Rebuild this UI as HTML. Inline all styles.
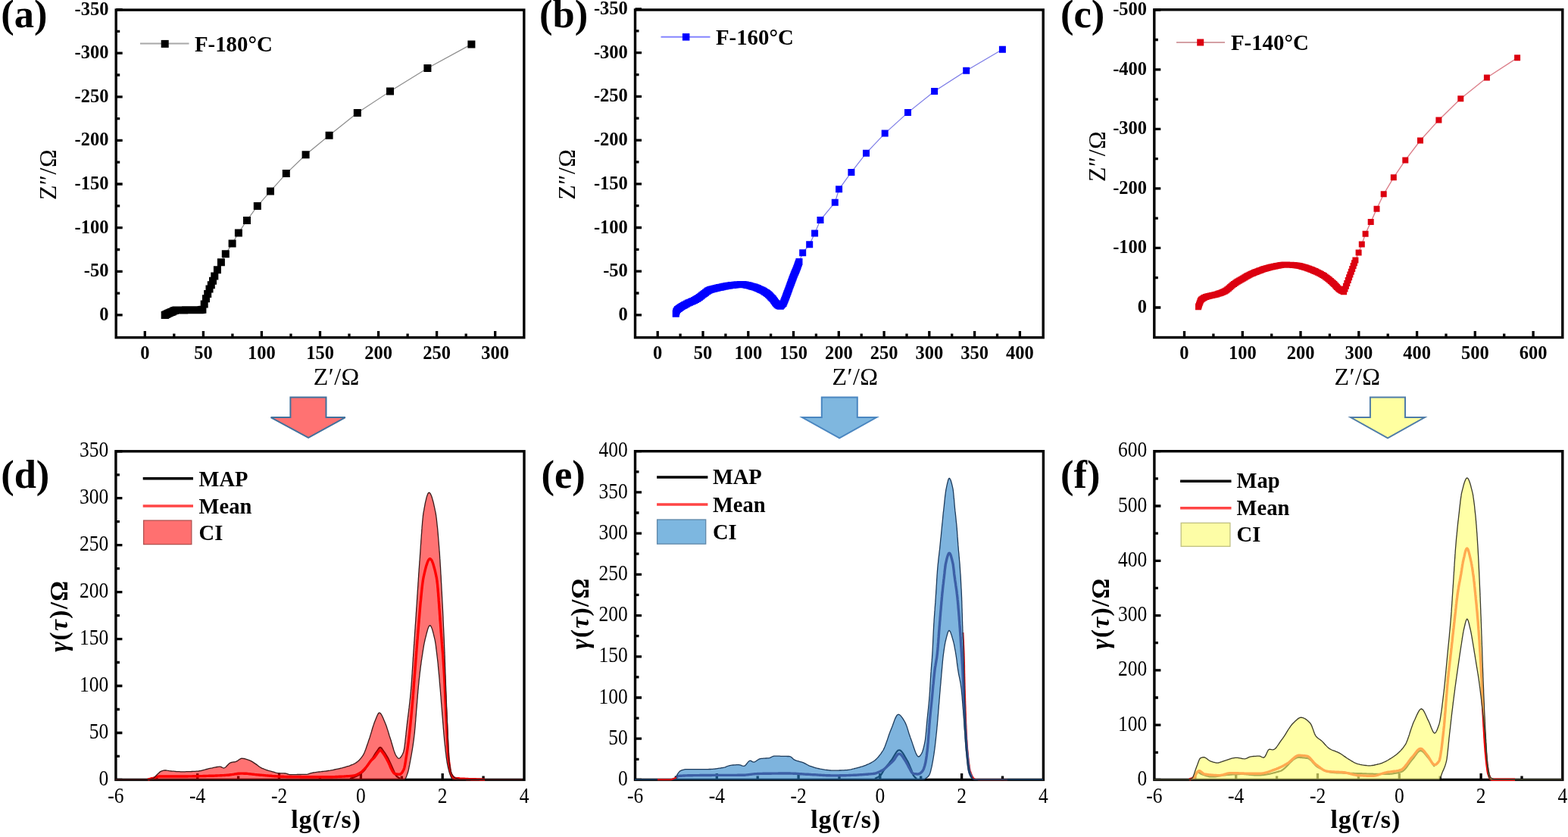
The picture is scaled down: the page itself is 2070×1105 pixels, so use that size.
<!DOCTYPE html>
<html><head><meta charset="utf-8"><title>EIS and DRT</title>
<style>html,body{margin:0;padding:0;background:#fff;overflow:hidden}svg{display:block}#fig{width:2070px;height:1105px}</style>
</head><body>
<div id="fig"><svg width="2070" height="1105" viewBox="0 0 2070 1105" font-family="'Liberation Serif','Times New Roman',serif"><rect width="2070" height="1105" fill="#fff"/><text x="1.2" y="36.3" font-size="52.5" font-weight="bold" text-anchor="start">(a)</text><text x="712" y="36.3" font-size="52.5" font-weight="bold" text-anchor="start">(b)</text><text x="1400" y="36.3" font-size="52.5" font-weight="bold" text-anchor="start">(c)</text><text x="1.2" y="643.5" font-size="52.5" font-weight="bold" text-anchor="start">(d)</text><text x="714.5" y="643.5" font-size="52.5" font-weight="bold" text-anchor="start">(e)</text><text x="1400" y="643.5" font-size="52.5" font-weight="bold" text-anchor="start">(f)</text><path d="M383.4 524.4 L430.5 524.4 L430.5 551.1 L455.8 551.1 L407.1 577.8 L357.6 551.1 L383.4 551.1Z" fill="#ff7272" stroke="#41719c" stroke-width="2" stroke-linejoin="miter"/><path d="M1084.8 524.4 L1131.8 524.4 L1131.8 551 L1157.1 551 L1108.2 578.3 L1059 551 L1084.8 551Z" fill="#7fb7df" stroke="#4a86c0" stroke-width="2" stroke-linejoin="miter"/><path d="M1808.9 524.4 L1855 524.4 L1855 551 L1880.8 551 L1832 578.3 L1783.1 551 L1808.9 551Z" fill="#ffffa0" stroke="#4f7ca8" stroke-width="2" stroke-linejoin="miter"/><rect x="153.2" y="13.1" width="538.6" height="432.5" fill="none" stroke="#000" stroke-width="3.4"/><path d="M191.3 445.6v-8.5M268.4 445.6v-8.5M345.4 445.6v-8.5M422.5 445.6v-8.5M499.6 445.6v-8.5M576.6 445.6v-8.5M653.7 445.6v-8.5M229.8 445.6v-5M306.9 445.6v-5M384 445.6v-5M461 445.6v-5M538.1 445.6v-5M615.2 445.6v-5" stroke="#000" stroke-width="3.3" fill="none"/><text transform="translate(191.3 474.3) scale(1 1.060)" font-size="24.5" font-weight="bold" text-anchor="middle">0</text><text transform="translate(268.4 474.3) scale(1 1.060)" font-size="24.5" font-weight="bold" text-anchor="middle">50</text><text transform="translate(345.4 474.3) scale(1 1.060)" font-size="24.5" font-weight="bold" text-anchor="middle">100</text><text transform="translate(422.5 474.3) scale(1 1.060)" font-size="24.5" font-weight="bold" text-anchor="middle">150</text><text transform="translate(499.6 474.3) scale(1 1.060)" font-size="24.5" font-weight="bold" text-anchor="middle">200</text><text transform="translate(576.6 474.3) scale(1 1.060)" font-size="24.5" font-weight="bold" text-anchor="middle">250</text><text transform="translate(653.7 474.3) scale(1 1.060)" font-size="24.5" font-weight="bold" text-anchor="middle">300</text><path d="M153.2 415.9h8.5M153.2 358.3h8.5M153.2 300.7h8.5M153.2 243h8.5M153.2 185.4h8.5M153.2 127.8h8.5M153.2 70.2h8.5M153.2 12.6h8.5M153.2 387.1h5M153.2 329.5h5M153.2 271.8h5M153.2 214.2h5M153.2 156.6h5M153.2 99h5M153.2 41.4h5" stroke="#000" stroke-width="3.3" fill="none"/><text transform="translate(143.5 422.9) scale(1 1.060)" font-size="24.5" font-weight="bold" text-anchor="end">0</text><text transform="translate(143.5 365.3) scale(1 1.060)" font-size="24.5" font-weight="bold" text-anchor="end">-50</text><text transform="translate(143.5 307.7) scale(1 1.060)" font-size="24.5" font-weight="bold" text-anchor="end">-100</text><text transform="translate(143.5 250) scale(1 1.060)" font-size="24.5" font-weight="bold" text-anchor="end">-150</text><text transform="translate(143.5 192.4) scale(1 1.060)" font-size="24.5" font-weight="bold" text-anchor="end">-200</text><text transform="translate(143.5 134.8) scale(1 1.060)" font-size="24.5" font-weight="bold" text-anchor="end">-250</text><text transform="translate(143.5 77.2) scale(1 1.060)" font-size="24.5" font-weight="bold" text-anchor="end">-300</text><text transform="translate(143.5 19.6) scale(1 1.060)" font-size="24.5" font-weight="bold" text-anchor="end">-350</text><text x="444.2" y="507.5" font-size="32" font-weight="normal" text-anchor="middle" letter-spacing="0.4">Z&#8242;/&#937;</text><text transform="translate(74 230.5) rotate(-90)" font-size="32" text-anchor="middle" letter-spacing="0.4">Z&#8243;/&#937;</text><rect x="838.5" y="13" width="538.7" height="432.6" fill="none" stroke="#000" stroke-width="3.4"/><path d="M868.2 445.6v-8.5M928 445.6v-8.5M987.8 445.6v-8.5M1047.5 445.6v-8.5M1107.3 445.6v-8.5M1167.1 445.6v-8.5M1226.8 445.6v-8.5M1286.6 445.6v-8.5M1346.4 445.6v-8.5M898.1 445.6v-5M957.9 445.6v-5M1017.6 445.6v-5M1077.4 445.6v-5M1137.2 445.6v-5M1197 445.6v-5M1256.7 445.6v-5M1316.5 445.6v-5" stroke="#000" stroke-width="3.3" fill="none"/><text transform="translate(868.2 474.3) scale(1 1.060)" font-size="24.5" font-weight="bold" text-anchor="middle">0</text><text transform="translate(928 474.3) scale(1 1.060)" font-size="24.5" font-weight="bold" text-anchor="middle">50</text><text transform="translate(987.8 474.3) scale(1 1.060)" font-size="24.5" font-weight="bold" text-anchor="middle">100</text><text transform="translate(1047.5 474.3) scale(1 1.060)" font-size="24.5" font-weight="bold" text-anchor="middle">150</text><text transform="translate(1107.3 474.3) scale(1 1.060)" font-size="24.5" font-weight="bold" text-anchor="middle">200</text><text transform="translate(1167.1 474.3) scale(1 1.060)" font-size="24.5" font-weight="bold" text-anchor="middle">250</text><text transform="translate(1226.8 474.3) scale(1 1.060)" font-size="24.5" font-weight="bold" text-anchor="middle">300</text><text transform="translate(1286.6 474.3) scale(1 1.060)" font-size="24.5" font-weight="bold" text-anchor="middle">350</text><text transform="translate(1346.4 474.3) scale(1 1.060)" font-size="24.5" font-weight="bold" text-anchor="middle">400</text><path d="M838.5 415.9h8.5M838.5 358.2h8.5M838.5 300.5h8.5M838.5 242.8h8.5M838.5 185.1h8.5M838.5 127.4h8.5M838.5 69.7h8.5M838.5 12h8.5M838.5 387h5M838.5 329.3h5M838.5 271.6h5M838.5 213.9h5M838.5 156.2h5M838.5 98.6h5M838.5 40.9h5" stroke="#000" stroke-width="3.3" fill="none"/><text transform="translate(828.8 422.9) scale(1 1.060)" font-size="24.5" font-weight="bold" text-anchor="end">0</text><text transform="translate(828.8 365.2) scale(1 1.060)" font-size="24.5" font-weight="bold" text-anchor="end">-50</text><text transform="translate(828.8 307.5) scale(1 1.060)" font-size="24.5" font-weight="bold" text-anchor="end">-100</text><text transform="translate(828.8 249.8) scale(1 1.060)" font-size="24.5" font-weight="bold" text-anchor="end">-150</text><text transform="translate(828.8 192.1) scale(1 1.060)" font-size="24.5" font-weight="bold" text-anchor="end">-200</text><text transform="translate(828.8 134.4) scale(1 1.060)" font-size="24.5" font-weight="bold" text-anchor="end">-250</text><text transform="translate(828.8 76.7) scale(1 1.060)" font-size="24.5" font-weight="bold" text-anchor="end">-300</text><text transform="translate(828.8 19) scale(1 1.060)" font-size="24.5" font-weight="bold" text-anchor="end">-350</text><text x="1129" y="507.5" font-size="32" font-weight="normal" text-anchor="middle" letter-spacing="0.4">Z&#8242;/&#937;</text><text transform="translate(759.3 230.2) rotate(-90)" font-size="32" text-anchor="middle" letter-spacing="0.4">Z&#8243;/&#937;</text><rect x="1523.8" y="12.8" width="539" height="432.7" fill="none" stroke="#000" stroke-width="3.4"/><path d="M1563.5 445.5v-8.5M1640.3 445.5v-8.5M1717 445.5v-8.5M1793.8 445.5v-8.5M1870.6 445.5v-8.5M1947.3 445.5v-8.5M2024.1 445.5v-8.5M1601.9 445.5v-5M1678.7 445.5v-5M1755.4 445.5v-5M1832.2 445.5v-5M1909 445.5v-5M1985.7 445.5v-5" stroke="#000" stroke-width="3.3" fill="none"/><text transform="translate(1563.5 474.3) scale(1 1.060)" font-size="24.5" font-weight="bold" text-anchor="middle">0</text><text transform="translate(1640.3 474.3) scale(1 1.060)" font-size="24.5" font-weight="bold" text-anchor="middle">100</text><text transform="translate(1717 474.3) scale(1 1.060)" font-size="24.5" font-weight="bold" text-anchor="middle">200</text><text transform="translate(1793.8 474.3) scale(1 1.060)" font-size="24.5" font-weight="bold" text-anchor="middle">300</text><text transform="translate(1870.6 474.3) scale(1 1.060)" font-size="24.5" font-weight="bold" text-anchor="middle">400</text><text transform="translate(1947.3 474.3) scale(1 1.060)" font-size="24.5" font-weight="bold" text-anchor="middle">500</text><text transform="translate(2024.1 474.3) scale(1 1.060)" font-size="24.5" font-weight="bold" text-anchor="middle">600</text><path d="M1523.8 406h8.5M1523.8 327.4h8.5M1523.8 248.9h8.5M1523.8 170.3h8.5M1523.8 91.8h8.5M1523.8 13.2h8.5M1523.8 366.7h5M1523.8 288.2h5M1523.8 209.6h5M1523.8 131.1h5M1523.8 52.5h5" stroke="#000" stroke-width="3.3" fill="none"/><text transform="translate(1514.1 413) scale(1 1.060)" font-size="24.5" font-weight="bold" text-anchor="end">0</text><text transform="translate(1514.1 334.4) scale(1 1.060)" font-size="24.5" font-weight="bold" text-anchor="end">-100</text><text transform="translate(1514.1 255.9) scale(1 1.060)" font-size="24.5" font-weight="bold" text-anchor="end">-200</text><text transform="translate(1514.1 177.3) scale(1 1.060)" font-size="24.5" font-weight="bold" text-anchor="end">-300</text><text transform="translate(1514.1 98.8) scale(1 1.060)" font-size="24.5" font-weight="bold" text-anchor="end">-400</text><text transform="translate(1514.1 20.2) scale(1 1.060)" font-size="24.5" font-weight="bold" text-anchor="end">-500</text><text x="1792" y="507.5" font-size="32" font-weight="normal" text-anchor="middle" letter-spacing="0.4">Z&#8242;/&#937;</text><text transform="translate(1458.8 206.3) rotate(-90)" font-size="32" text-anchor="middle" letter-spacing="0.4">Z&#8243;/&#937;</text><path d="M622.4 58.4 L564.4 90 L515 120.6 L471.8 149.1 L434.6 178.7 L403.6 204.2 L377.8 229.1 L357 252.4 L339.8 272.1 L326 290.9 L314.9 307.4 L306.6 321.6 L297.8 335.3 L291.9 346.3 L286.9 356.2 L283.3 364.4 L281 370.7 L278.8 376.2 L276.5 381.6 L274.2 387.9 L272 394.3 L269.7 401.5 L267.4 408.7" fill="none" stroke="#8c8c8c" stroke-width="1.2"/><path d="M617.4 53.4h10v10h-10zM559.4 85h10v10h-10zM510 115.6h10v10h-10zM466.8 144.1h10v10h-10zM429.6 173.7h10v10h-10zM398.6 199.2h10v10h-10zM372.8 224.1h10v10h-10zM352 247.4h10v10h-10zM334.8 267.1h10v10h-10zM321 285.9h10v10h-10zM309.9 302.4h10v10h-10zM301.6 316.6h10v10h-10zM292.8 330.3h10v10h-10zM286.9 341.3h10v10h-10zM281.9 351.2h10v10h-10zM278.3 359.4h10v10h-10zM276 365.7h10v10h-10zM273.8 371.2h10v10h-10zM271.5 376.6h10v10h-10zM269.2 382.9h10v10h-10zM267 389.3h10v10h-10zM264.7 396.5h10v10h-10zM262.4 403.7h10v10h-10zM260.7 404.1h10v10h-10zM258.8 404.2h10v10h-10zM256.6 404.2h10v10h-10zM254.6 404.3h10v10h-10zM252.3 404.3h10v10h-10zM250 404.3h10v10h-10zM247.7 404.3h10v10h-10zM245.6 404.3h10v10h-10zM243.8 404.3h10v10h-10zM242.2 404.3h10v10h-10zM240.1 404.3h10v10h-10zM238.2 404.4h10v10h-10zM236.3 404.4h10v10h-10zM234.6 404.4h10v10h-10zM232.8 404.4h10v10h-10zM231.1 404.4h10v10h-10zM229.2 404.4h10v10h-10zM227.4 404.6h10v10h-10zM225.8 404.9h10v10h-10zM224.2 405.6h10v10h-10zM222.6 406.4h10v10h-10zM221.1 407.1h10v10h-10zM219.3 407.8h10v10h-10zM217.7 408.6h10v10h-10zM216.1 409.3h10v10h-10zM214.6 410h10v10h-10zM213.2 410.7h10v10h-10zM212.7 411h10v10h-10z" fill="#000"/><path d="M185 57.5H249.5" stroke="#a8a8a8" stroke-width="1.8"/><path d="M212.7 52.9h10v10h-10z" fill="#000"/><text x="257" y="68.2" font-size="28.8" font-weight="bold" text-anchor="start">F-180&#176;C</text><path d="M1323.4 65.2 L1275.7 93.3 L1233.6 120.5 L1198.5 148.6 L1168.2 176.1 L1143.5 202.2 L1123.9 227.4 L1107.6 249.8 L1102.3 267.2 L1083 290.6 L1075.6 308.1 L1068.7 322.7 L1059.7 333.8 L1055 345.6 L1051.2 356 L1047.4 364.9 L1044.2 373.8 L1040.4 383.9 L1037.2 392.8 L1034.1 400.4 L1030.3 404.2" fill="none" stroke="#7a7ae6" stroke-width="1.2"/><path d="M1318.9 60.7h9v9h-9zM1271.2 88.8h9v9h-9zM1229.1 116h9v9h-9zM1194 144.1h9v9h-9zM1163.7 171.6h9v9h-9zM1139 197.7h9v9h-9zM1119.4 222.9h9v9h-9zM1103.1 245.3h9v9h-9zM1097.8 262.7h9v9h-9zM1078.5 286.1h9v9h-9zM1071.1 303.6h9v9h-9zM1064.2 318.2h9v9h-9zM1055.2 329.3h9v9h-9zM1050.5 341.1h9v9h-9zM1046.7 351.5h9v9h-9zM1042.9 360.4h9v9h-9zM1039.7 369.3h9v9h-9zM1035.9 379.4h9v9h-9zM1032.7 388.3h9v9h-9zM1029.6 395.9h9v9h-9zM1025.8 399.7h9v9h-9zM1050.5 341.1h9v9h-9zM1049.9 342.8h9v9h-9zM1049.2 344.6h9v9h-9zM1048.6 346.3h9v9h-9zM1048 348h9v9h-9zM1047.3 349.8h9v9h-9zM1046.7 351.5h9v9h-9zM1045.9 353.3h9v9h-9zM1045.2 355.1h9v9h-9zM1044.4 356.8h9v9h-9zM1043.7 358.6h9v9h-9zM1042.9 360.4h9v9h-9zM1042.3 362.2h9v9h-9zM1041.6 364h9v9h-9zM1041 365.7h9v9h-9zM1040.3 367.5h9v9h-9zM1039.7 369.3h9v9h-9zM1038.9 371.3h9v9h-9zM1038.2 373.3h9v9h-9zM1037.4 375.4h9v9h-9zM1036.7 377.4h9v9h-9zM1035.9 379.4h9v9h-9zM1035.3 381.2h9v9h-9zM1034.6 383h9v9h-9zM1034 384.7h9v9h-9zM1033.3 386.5h9v9h-9zM1032.7 388.3h9v9h-9zM1031.9 390.2h9v9h-9zM1031.2 392.1h9v9h-9zM1030.4 394h9v9h-9zM1029.6 395.9h9v9h-9zM1028.3 397.2h9v9h-9zM1027.1 398.4h9v9h-9zM1025.8 399.7h9v9h-9zM1025.8 399.7h9v9h-9zM1024.1 399.2h9v9h-9zM1022.7 398.6h9v9h-9zM1021.3 397.4h9v9h-9zM1020.1 396h9v9h-9zM1019.1 394.7h9v9h-9zM1018 393.2h9v9h-9zM1016.9 391.8h9v9h-9zM1015.8 390.3h9v9h-9zM1014.6 389h9v9h-9zM1013.4 387.8h9v9h-9zM1012.3 386.5h9v9h-9zM1011 385.3h9v9h-9zM1009.8 384.2h9v9h-9zM1008.4 383h9v9h-9zM1007 381.9h9v9h-9zM1005.3 380.9h9v9h-9zM1003.6 379.8h9v9h-9zM1001.7 378.8h9v9h-9zM999.7 377.9h9v9h-9zM997.6 377h9v9h-9zM995.6 376.1h9v9h-9zM993.6 375.3h9v9h-9zM991.6 374.6h9v9h-9zM989.5 374h9v9h-9zM987.5 373.4h9v9h-9zM985.4 372.8h9v9h-9zM983.4 372.3h9v9h-9zM981.5 371.9h9v9h-9zM979.8 371.6h9v9h-9zM977.9 371.3h9v9h-9zM976.3 371.1h9v9h-9zM974.4 371.1h9v9h-9zM972.7 371.1h9v9h-9zM970.6 371.2h9v9h-9zM968.9 371.3h9v9h-9zM966.9 371.5h9v9h-9zM964.9 371.7h9v9h-9zM962.9 371.9h9v9h-9zM960.8 372.1h9v9h-9zM958.8 372.4h9v9h-9zM956.8 372.7h9v9h-9zM954.8 373h9v9h-9zM952.9 373.4h9v9h-9zM951 373.8h9v9h-9zM949 374.2h9v9h-9zM947.1 374.7h9v9h-9zM945.1 375.1h9v9h-9zM943.1 375.5h9v9h-9zM941 376h9v9h-9zM939 376.4h9v9h-9zM936.9 376.9h9v9h-9zM935 377.4h9v9h-9zM933.1 378h9v9h-9zM931.5 378.7h9v9h-9zM930 379.5h9v9h-9zM928.6 380.4h9v9h-9zM927 381.7h9v9h-9zM925.4 383h9v9h-9zM923.7 384.3h9v9h-9zM922 385.5h9v9h-9zM920.4 386.7h9v9h-9zM918.8 388h9v9h-9zM917.1 389.2h9v9h-9zM915.6 390.1h9v9h-9zM914 391h9v9h-9zM912.2 391.9h9v9h-9zM910.2 392.9h9v9h-9zM908.1 393.8h9v9h-9zM906 394.7h9v9h-9zM904 395.6h9v9h-9zM902.2 396.5h9v9h-9zM900.5 397.4h9v9h-9zM899 398.2h9v9h-9zM897.6 399h9v9h-9zM895.8 400.1h9v9h-9zM894.3 401.1h9v9h-9zM892.9 402h9v9h-9zM891.5 403h9v9h-9zM890.1 404.1h9v9h-9zM889 405.5h9v9h-9zM888.3 407.1h9v9h-9zM887.9 408.8h9v9h-9zM887.7 409.8h9v9h-9z" fill="#0000ff"/><path d="M872.5 48.7H937.5" stroke="#8484ff" stroke-width="2"/><path d="M900.9 44.1h9.5v9.5h-9.5z" fill="#0000ff"/><text x="945" y="58.5" font-size="28.8" font-weight="bold" text-anchor="start">F-160&#176;C</text><path d="M2003.1 76.3 L1962.9 102.5 L1928.3 130.3 L1899.4 158.4 L1875 185.5 L1855.3 211.4 L1839.8 234.3 L1826.7 256.3 L1817.5 275.7 L1809.7 293.1 L1802.6 308.8 L1797.8 322.5 L1793.6 333.5 L1789.4 343.5" fill="none" stroke="#dc7f8a" stroke-width="1.4"/><path d="M1999.1 72.3h8v8h-8zM1958.9 98.5h8v8h-8zM1924.3 126.3h8v8h-8zM1895.4 154.4h8v8h-8zM1871 181.5h8v8h-8zM1851.3 207.4h8v8h-8zM1835.8 230.3h8v8h-8zM1822.7 252.3h8v8h-8zM1813.5 271.7h8v8h-8zM1805.7 289.1h8v8h-8zM1798.6 304.8h8v8h-8zM1793.8 318.5h8v8h-8zM1789.6 329.5h8v8h-8zM1785.4 339.5h8v8h-8zM1785.4 339.5h8v8h-8zM1784 343.3h8v8h-8zM1782.6 347.1h8v8h-8zM1781.2 350.9h8v8h-8zM1779.8 354.7h8v8h-8zM1778.4 358.5h8v8h-8zM1777.1 362.3h8v8h-8zM1775.7 366.1h8v8h-8zM1774.3 369.9h8v8h-8zM1772.9 373.7h8v8h-8zM1771.5 377.5h8v8h-8zM1770.1 381.3h8v8h-8zM1770.1 381.3h8v8h-8zM1768.7 380.5h8v8h-8zM1766.9 379.7h8v8h-8zM1765.4 378.8h8v8h-8zM1763.9 377.7h8v8h-8zM1762.4 376.4h8v8h-8zM1760.9 374.9h8v8h-8zM1759.8 373.7h8v8h-8zM1758.6 372.4h8v8h-8zM1757.3 371.1h8v8h-8zM1755.9 369.7h8v8h-8zM1754.4 368.4h8v8h-8zM1752.8 367h8v8h-8zM1751.1 365.6h8v8h-8zM1749.4 364.2h8v8h-8zM1747.6 362.7h8v8h-8zM1745.7 361.4h8v8h-8zM1743.8 360.1h8v8h-8zM1741.9 358.9h8v8h-8zM1739.9 357.8h8v8h-8zM1737.9 356.7h8v8h-8zM1735.8 355.7h8v8h-8zM1733.7 354.7h8v8h-8zM1732.2 354.1h8v8h-8zM1730.7 353.4h8v8h-8zM1729.1 352.8h8v8h-8zM1727.5 352.1h8v8h-8zM1725.8 351.5h8v8h-8zM1724.1 350.8h8v8h-8zM1722.3 350.2h8v8h-8zM1720.5 349.6h8v8h-8zM1718.7 349h8v8h-8zM1716.9 348.4h8v8h-8zM1715.1 347.9h8v8h-8zM1713.4 347.5h8v8h-8zM1711.6 347.1h8v8h-8zM1709.8 346.8h8v8h-8zM1708 346.5h8v8h-8zM1706.2 346.3h8v8h-8zM1704.3 346.1h8v8h-8zM1702.5 345.9h8v8h-8zM1700.8 345.8h8v8h-8zM1699 345.7h8v8h-8zM1697.4 345.7h8v8h-8zM1695.1 345.6h8v8h-8zM1693.1 345.6h8v8h-8zM1691.4 345.6h8v8h-8zM1689.3 345.8h8v8h-8zM1687.2 346.1h8v8h-8zM1685.5 346.3h8v8h-8zM1683.5 346.7h8v8h-8zM1681.2 347.1h8v8h-8zM1679.6 347.5h8v8h-8zM1677.8 347.8h8v8h-8zM1676.1 348.2h8v8h-8zM1674.2 348.6h8v8h-8zM1672.4 349.1h8v8h-8zM1670.6 349.5h8v8h-8zM1668.8 350h8v8h-8zM1667 350.5h8v8h-8zM1665.2 351.1h8v8h-8zM1663.4 351.6h8v8h-8zM1661.6 352.2h8v8h-8zM1659.8 352.9h8v8h-8zM1658 353.5h8v8h-8zM1656.2 354.2h8v8h-8zM1654.4 354.9h8v8h-8zM1652.7 355.6h8v8h-8zM1651.1 356.2h8v8h-8zM1649.5 356.9h8v8h-8zM1647.4 357.8h8v8h-8zM1645.5 358.8h8v8h-8zM1643.7 359.7h8v8h-8zM1642.1 360.6h8v8h-8zM1640.5 361.6h8v8h-8zM1638.9 362.5h8v8h-8zM1637.2 363.5h8v8h-8zM1635.5 364.5h8v8h-8zM1633.7 365.5h8v8h-8zM1632 366.5h8v8h-8zM1630.2 367.5h8v8h-8zM1628.5 368.6h8v8h-8zM1626.8 369.7h8v8h-8zM1625 370.9h8v8h-8zM1623.3 372.3h8v8h-8zM1621.5 373.8h8v8h-8zM1619.8 375.3h8v8h-8zM1618.1 376.8h8v8h-8zM1616.3 378.2h8v8h-8zM1614.6 379.4h8v8h-8zM1612.9 380.5h8v8h-8zM1611.2 381.3h8v8h-8zM1609.5 382h8v8h-8zM1607.8 382.7h8v8h-8zM1606 383.2h8v8h-8zM1604.3 383.8h8v8h-8zM1602.4 384.4h8v8h-8zM1600.4 385h8v8h-8zM1598.2 385.5h8v8h-8zM1595.9 386h8v8h-8zM1593.6 386.5h8v8h-8zM1591.5 387h8v8h-8zM1589.6 387.6h8v8h-8zM1588 388.1h8v8h-8zM1586.2 388.8h8v8h-8zM1584.8 389.5h8v8h-8zM1583.4 390.4h8v8h-8zM1582 391.5h8v8h-8zM1580.9 392.8h8v8h-8zM1580.4 394.6h8v8h-8zM1579.7 396.3h8v8h-8zM1579 398.2h8v8h-8zM1578.4 400h8v8h-8zM1578 401.2h8v8h-8z" fill="#dc0010"/><path d="M1553 56H1617" stroke="#d4a0a4" stroke-width="2"/><path d="M1580.2 51.5h9v9h-9z" fill="#dc0010"/><text x="1625" y="66" font-size="28.8" font-weight="bold" text-anchor="start">F-140&#176;C</text><rect x="152.9" y="595.8" width="539.1" height="433.6" fill="none" stroke="#000" stroke-width="3.4"/><path d="M260.7 1029.4v-8.5M368.5 1029.4v-8.5M476.4 1029.4v-8.5M584.2 1029.4v-8.5M206.8 1029.4v-5M314.6 1029.4v-5M422.4 1029.4v-5M530.3 1029.4v-5M638.1 1029.4v-5" stroke="#000" stroke-width="3.3" fill="none"/><text transform="translate(152.9 1059.6) scale(1 1.120)" font-size="25.5" font-weight="normal" text-anchor="middle">-6</text><text transform="translate(260.7 1059.6) scale(1 1.120)" font-size="25.5" font-weight="normal" text-anchor="middle">-4</text><text transform="translate(368.5 1059.6) scale(1 1.120)" font-size="25.5" font-weight="normal" text-anchor="middle">-2</text><text transform="translate(476.4 1059.6) scale(1 1.120)" font-size="25.5" font-weight="normal" text-anchor="middle">0</text><text transform="translate(584.2 1059.6) scale(1 1.120)" font-size="25.5" font-weight="normal" text-anchor="middle">2</text><text transform="translate(692 1059.6) scale(1 1.120)" font-size="25.5" font-weight="normal" text-anchor="middle">4</text><path d="M152.9 1029.4h8.5M152.9 967.5h8.5M152.9 905.5h8.5M152.9 843.6h8.5M152.9 781.6h8.5M152.9 719.7h8.5M152.9 657.7h8.5M152.9 595.8h8.5M152.9 998.4h5M152.9 936.5h5M152.9 874.5h5M152.9 812.6h5M152.9 750.7h5M152.9 688.7h5M152.9 626.8h5" stroke="#000" stroke-width="3.3" fill="none"/><text transform="translate(143.2 1037) scale(1 1.120)" font-size="25.5" font-weight="normal" text-anchor="end">0</text><text transform="translate(143.2 975.1) scale(1 1.120)" font-size="25.5" font-weight="normal" text-anchor="end">50</text><text transform="translate(143.2 913.1) scale(1 1.120)" font-size="25.5" font-weight="normal" text-anchor="end">100</text><text transform="translate(143.2 851.2) scale(1 1.120)" font-size="25.5" font-weight="normal" text-anchor="end">150</text><text transform="translate(143.2 789.2) scale(1 1.120)" font-size="25.5" font-weight="normal" text-anchor="end">200</text><text transform="translate(143.2 727.3) scale(1 1.120)" font-size="25.5" font-weight="normal" text-anchor="end">250</text><text transform="translate(143.2 665.3) scale(1 1.120)" font-size="25.5" font-weight="normal" text-anchor="end">300</text><text transform="translate(143.2 603.4) scale(1 1.120)" font-size="25.5" font-weight="normal" text-anchor="end">350</text><text x="430.5" y="1093.2" font-size="34" font-weight="bold" text-anchor="middle" letter-spacing="0.8">lg(<tspan font-style="italic">&#964;</tspan>/s)</text><text transform="translate(88.9 813.1) rotate(-90)" font-size="33.5" font-weight="bold" text-anchor="middle" letter-spacing="1.3"><tspan font-style="italic">&#947;</tspan>(<tspan font-style="italic">&#964;</tspan>)/&#937;</text><path d="M462 1028L463.3 1027.5L464.7 1027.1L466 1026.6L467.3 1026.1L468.7 1025.6L470 1025L471.4 1024.3L472.9 1023.5L474.3 1022.6L475.7 1021.6L477.1 1020.5L478.6 1019.3L480 1018L481.3 1016.5L482.7 1014.6L484 1012.5L485.3 1010.2L486.7 1008L488 1006L489.2 1004.2L490.5 1002.5L491.8 1000.8L493 999L494.5 996.6L496 994.2L497.5 992L499 989.8L500.5 987.7L502 986.8L503.5 987.7L505 989.8L506.5 992L508 994.1L509.5 996.5L511 999L512 1000.8L513 1002.8L514 1004.9L515 1007L516 1009.2L517 1011.5L518 1013.8L519 1016L520 1018.2L521 1020.5L522 1022.5L523 1024L524.2 1025.3L525.5 1026.2L526.8 1027.1L528 1028" fill="none" stroke="#000" stroke-width="2.2"/><path d="M195 1029.2L196.3 1028.8L197.7 1028.5L199 1028.1L200.3 1027.7L201.7 1027.4L203 1027L204.4 1026.5L205.8 1026L207.2 1025.5L208.6 1025.1L210 1025L211.5 1025L213 1025L214.5 1025L216 1025L217.5 1025L219 1025L220.5 1025L222 1025L223.5 1025L225 1025L226.5 1025L228 1025L229.5 1025L231 1025L232.5 1025L234 1025L235.5 1025L237 1025L238.5 1025L240 1025L241.5 1025L243 1025L244.5 1025L246 1025L247.5 1025L249 1024.9L250.5 1024.9L252 1024.9L253.5 1024.9L255 1024.8L256.5 1024.8L258 1024.8L259.5 1024.7L261 1024.7L262.5 1024.7L264 1024.6L265.5 1024.6L267 1024.6L268.5 1024.5L270 1024.5L271.5 1024.5L273 1024.4L274.5 1024.4L276 1024.3L277.4 1024.3L278.9 1024.3L280.4 1024.2L281.9 1024.2L283.4 1024.1L284.9 1024L286.4 1024L287.9 1023.9L289.4 1023.9L290.9 1023.8L292.4 1023.7L293.8 1023.6L295.3 1023.6L296.8 1023.5L298.3 1023.4L299.8 1023.3L301.3 1023.2L302.8 1023L304.3 1022.8L305.8 1022.6L307.3 1022.4L308.8 1022.2L310.2 1021.9L311.7 1021.7L313.2 1021.5L314.7 1021.3L316.2 1021.2L317.7 1021.1L319.2 1021.1L320.7 1021.1L322.2 1021.2L323.7 1021.2L325.2 1021.3L326.7 1021.4L328.2 1021.6L329.7 1021.7L331.2 1021.9L332.7 1022.1L334.2 1022.2L335.7 1022.4L337.2 1022.6L338.7 1022.7L340.2 1022.9L341.7 1023L343.2 1023.2L344.7 1023.3L346.2 1023.4L347.6 1023.5L349.1 1023.6L350.6 1023.8L352.1 1023.9L353.5 1024L355 1024.1L356.5 1024.2L357.9 1024.3L359.4 1024.5L360.9 1024.6L362.4 1024.7L363.8 1024.8L365.3 1024.9L366.8 1025L368.2 1025.1L369.7 1025.1L371.2 1025.2L372.6 1025.3L374.1 1025.3L375.6 1025.4L377.1 1025.4L378.5 1025.5L380 1025.5L381.5 1025.5L382.9 1025.5L384.4 1025.5L385.9 1025.6L387.4 1025.6L388.8 1025.6L390.3 1025.6L391.8 1025.6L393.2 1025.6L394.7 1025.6L396.2 1025.7L397.6 1025.7L399.1 1025.7L400.6 1025.7L402.1 1025.7L403.5 1025.7L405 1025.7L406.5 1025.7L407.9 1025.7L409.4 1025.7L410.9 1025.8L412.4 1025.8L413.8 1025.8L415.3 1025.8L416.8 1025.8L418.2 1025.8L419.7 1025.8L421.2 1025.8L422.6 1025.8L424.1 1025.8L425.6 1025.8L427.1 1025.8L428.5 1025.8L430 1025.8L431.5 1025.8L432.9 1025.8L434.4 1025.8L435.9 1025.7L437.4 1025.7L438.8 1025.7L440.3 1025.6L441.8 1025.6L443.2 1025.5L444.7 1025.5L446.2 1025.4L447.6 1025.3L449.1 1025.3L450.6 1025.2L452.1 1025.1L453.5 1025.1L455 1025L456.5 1024.9L457.9 1024.8L459.4 1024.7L460.9 1024.6L462.3 1024.5L463.8 1024.4L465.2 1024.2L466.7 1024L468 1023.7L469.4 1023.3L470.7 1022.8L472 1022.2L473.3 1021.5L474.7 1020.8L476 1020L477.3 1019.1L478.7 1017.9L480 1016.5L481.3 1015.1L482.7 1013.5L484 1012L485.5 1010.1L487 1008L488.5 1005.8L490 1004L491.4 1002.6L492.9 1001.4L494.3 1000L495.7 998.1L497.1 996L498.5 994L499.7 992.4L500.8 990.9L502 990.3L503.2 990.9L504.3 992.4L505.5 994L506.7 995.8L508 997.8L509.2 1000L510.5 1002.2L511.7 1004.5L513 1007L514 1009.2L515 1011.7L516 1014L517 1016L518.3 1018.4L519.7 1020.4L521 1021.5L522.3 1021.8L523.7 1022L525 1022.2L526.4 1022.3L527.7 1022.3L529 1021.8L530.4 1020.5L531.7 1018.5L533 1016L533.4 1015L533.8 1013.6L534.2 1011.8L534.6 1009.8L535 1007.6L535.4 1005.2L535.8 1002.6L536.2 1000.1L536.6 997.5L537 995L537.3 993.1L537.6 991.2L537.9 989.2L538.2 987.1L538.5 985L538.8 982.8L539.1 980.5L539.4 978.2L539.7 975.8L540 973.3L540.2 971.6L540.4 969.9L540.6 968.1L540.8 966.3L541 964.5L541.2 962.6L541.4 960.7L541.6 958.8L541.8 956.8L542 954.8L542.2 952.8L542.4 950.7L542.6 948.6L542.8 946.5L543 944.4L543.2 942.2L543.4 940.1L543.6 937.9L543.8 935.7L544 933.5L544.2 931.2L544.4 929L544.6 926.7L544.8 924.4L545 922.6L545.1 920.7L545.3 918.7L545.4 916.8L545.6 914.8L545.8 912.8L545.9 910.7L546.1 908.7L546.2 906.6L546.4 904.5L546.5 902.4L546.7 900.3L546.9 898.2L547 896.2L547.2 894.1L547.3 892L547.5 890L547.7 888L547.8 885.9L548 883.9L548.1 881.8L548.3 879.7L548.5 877.6L548.6 875.6L548.8 873.5L548.9 871.4L549.1 869.3L549.3 867.2L549.4 865.1L549.6 863L549.7 861L549.9 858.9L550 856.9L550.2 854.8L550.4 852.8L550.5 850.8L550.7 848.8L550.8 846.8L551 844.9L551.2 842.9L551.3 841L551.5 839.2L551.6 837.3L551.8 835.5L552 833.2L552.2 830.8L552.4 828.5L552.6 826.1L552.8 823.7L553 821.3L553.2 818.8L553.4 816.4L553.6 814L553.8 811.6L554 809.1L554.2 806.7L554.4 804.3L554.6 801.9L554.8 799.6L555 797.2L555.2 794.9L555.5 792.7L555.7 790.4L555.9 788.2L556.1 786.1L556.3 784L556.5 782L556.7 780L556.9 778.1L557.1 776.2L557.3 774.4L557.5 772.7L557.7 771.1L557.9 769.6L558.1 768.1L558.3 766.7L558.5 765.4L558.7 764.3L558.9 763.2L559.1 762.2L559.8 759L560.5 755.9L561.2 752.9L561.9 750.1L562.6 747.5L563.4 745.1L564.1 743L564.8 741.2L565.5 739.7L566.2 738.6L566.9 737.9L567.6 737.7L568.3 737.9L569 738.6L569.8 739.6L570.5 741L571.2 742.8L571.9 744.8L572.6 747.2L573.3 749.8L574.1 752.6L574.8 755.6L575.5 758.8L576.2 762.2L576.4 763.1L576.5 764.1L576.7 765.2L576.9 766.4L577 767.8L577.2 769.2L577.4 770.8L577.6 772.4L577.7 774.1L577.9 776L578.1 777.8L578.2 779.8L578.4 781.8L578.6 783.9L578.7 786.1L578.9 788.3L579.1 790.6L579.2 792.9L579.4 795.2L579.6 797.6L579.8 800L579.9 802.4L580.1 804.8L580.3 807.2L580.4 809.7L580.6 812.1L580.8 814.6L580.9 817L581.1 819.4L581.3 821.8L581.5 824.2L581.6 826.5L581.8 828.9L582 831.1L582.1 833.3L582.3 835.5L582.5 837.4L582.6 839.4L582.8 841.3L582.9 843.1L583.1 845L583.2 846.9L583.4 848.8L583.5 850.7L583.7 852.6L583.8 854.5L584 856.4L584.1 858.3L584.3 860.3L584.5 862.2L584.6 864.2L584.8 866.3L584.9 868.4L585.1 870.5L585.2 872.7L585.4 874.9L585.5 877.1L585.7 879.5L585.8 881.9L586 884.3L586.1 885.9L586.2 887.6L586.3 889.4L586.4 891.2L586.5 893L586.6 894.9L586.7 896.9L586.8 898.9L586.9 900.9L587 902.9L587.1 905L587.2 907.1L587.3 909.2L587.4 911.3L587.5 913.5L587.6 915.6L587.7 917.8L587.8 920L587.9 922.1L588 924.3L588.1 926.4L588.2 928.6L588.3 930.7L588.4 932.8L588.5 934.9L588.6 937L588.7 939.1L588.8 941.1L588.9 943.1L589 945L589.1 947.2L589.2 949.4L589.3 951.6L589.4 953.9L589.6 956.3L589.7 958.6L589.8 961L589.9 963.3L590 965.7L590.1 968.1L590.2 970.4L590.3 972.7L590.4 975L590.6 977.3L590.7 979.5L590.8 981.7L590.9 983.8L591 985.8L591.1 987.8L591.2 989.7L591.3 991.5L591.4 993.2L591.6 994.8L591.7 996.3L591.8 997.6L591.9 998.9L592 1000L592.3 1003L592.6 1005.8L593 1008.5L593.3 1011L593.6 1013.3L593.9 1015.4L594.2 1017.3L594.5 1018.9L594.9 1020.2L595.2 1021.3L595.5 1022L596.9 1024.2L598.2 1025.9L599.6 1026.9L601 1027.4L602.5 1027.6L604 1027.7L605.5 1027.8L607 1028L608.5 1028.1L610 1028.2L611.5 1028.3L613 1028.3L614.5 1028.4L616 1028.5L617.5 1028.5L619 1028.6L620.5 1028.6L622 1028.7L623.5 1028.7L625 1028.7L626.5 1028.8L628 1028.8L629.5 1028.9L631 1028.9L632.5 1028.9L634 1029L635.5 1029L637 1029.1L638.5 1029.1L640 1029.2" fill="none" stroke="#ff0000" stroke-width="3.4" stroke-linejoin="round"/><path d="M152 1029.2 L153.5 1029.2 L155 1029.2 L156.4 1029.2 L157.9 1029.2 L159.4 1029.2 L160.9 1029.2 L162.4 1029.2 L163.9 1029.2 L165.3 1029.2 L166.8 1029.2 L168.3 1029.2 L169.8 1029.2 L171.3 1029.2 L172.8 1029.2 L174.2 1029.2 L175.7 1029.2 L177.2 1029.2 L178.7 1029.2 L180.2 1029.2 L181.7 1029.2 L183.1 1029.2 L184.6 1029.2 L186.1 1029.2 L187.6 1029.2 L189.1 1029.2 L190.6 1029.2 L192 1029.2 L193.5 1029.2 L195 1029.2 L196.5 1029.1 L198 1028.9 L199.4 1028.5 L200.9 1028 L202.4 1027.5 L203.6 1026.7 L204.7 1025.5 L205.8 1024.2 L207 1023 L208.5 1021.6 L209.9 1020.2 L211.4 1018.9 L212.9 1018.1 L214.4 1017.6 L215.9 1017.2 L217.4 1017 L218.9 1017 L220.4 1017.2 L221.9 1017.3 L223.4 1017.6 L224.9 1017.8 L226.4 1018 L227.9 1018.1 L229.4 1018.2 L230.9 1018.3 L232.4 1018.5 L233.9 1018.6 L235.4 1018.7 L236.9 1018.7 L238.4 1018.8 L239.9 1018.8 L241.4 1018.8 L242.9 1018.8 L244.4 1018.8 L245.9 1018.7 L247.4 1018.7 L248.9 1018.7 L250.4 1018.6 L251.8 1018.6 L253.3 1018.5 L254.8 1018.4 L256.3 1018.3 L257.8 1018.3 L259.3 1018.2 L260.8 1018.1 L262.3 1018 L263.8 1017.7 L265.3 1017.5 L266.8 1017.1 L268.3 1016.7 L269.8 1016.3 L271.3 1015.9 L272.8 1015.5 L274.3 1015.1 L275.8 1014.7 L277.3 1014.4 L278.8 1014.1 L280.3 1013.8 L281.8 1013.4 L283.3 1013.1 L284.8 1012.8 L286.3 1012.5 L287.8 1012.3 L289.3 1012.2 L290.8 1012.1 L292.3 1012.6 L293.8 1013.5 L295.3 1014 L296.8 1013.5 L298.3 1012.4 L299.8 1010.8 L301.3 1009.2 L302.8 1007.8 L304.3 1006.9 L305.8 1006.5 L307.3 1006.2 L308.7 1006 L310.2 1005.8 L311.7 1005.4 L313.2 1004.7 L314.7 1003.6 L316.2 1002.5 L317.7 1001.6 L319.2 1001.2 L320.7 1001.3 L322.2 1001.5 L323.7 1001.9 L325.2 1002.3 L326.7 1002.8 L328.2 1003.3 L329.7 1003.9 L331.2 1004.6 L332.7 1005.4 L334.2 1006.4 L335.7 1007.4 L337.2 1008.4 L338.7 1009.4 L340.2 1010.6 L341.7 1011.7 L343.2 1012.8 L344.7 1013.6 L346.2 1014.3 L347.7 1014.9 L349.2 1015.5 L350.7 1016.1 L352.2 1016.6 L353.7 1017.1 L355.2 1017.5 L356.7 1018 L358.2 1018.4 L359.7 1018.8 L361.2 1019.2 L362.7 1019.7 L364.2 1020.1 L365.7 1020.4 L367.2 1020.6 L368.7 1020.7 L370.2 1020.8 L371.7 1020.8 L373.1 1020.9 L374.6 1020.9 L376.1 1021 L377.6 1021.1 L379.1 1021.6 L380.6 1022.2 L382.1 1022.6 L383.6 1022.6 L385.1 1022.6 L386.6 1022.6 L388.1 1022.6 L389.6 1022.6 L391.1 1022.6 L392.6 1022.5 L394.1 1022.5 L395.6 1022.5 L397.1 1022.5 L398.6 1022.4 L400.1 1022.4 L401.6 1022.4 L403.1 1022.3 L404.6 1022.3 L406.1 1022.1 L407.6 1021.7 L409.1 1021.2 L410.6 1020.7 L412.1 1020.3 L413.6 1020 L415.1 1019.8 L416.6 1019.6 L418.1 1019.4 L419.6 1019.2 L421.1 1019 L422.6 1018.8 L424.1 1018.7 L425.6 1018.5 L427.1 1018.3 L428.6 1018.1 L430.1 1018 L431.6 1017.8 L433.1 1017.5 L434.6 1017.3 L436 1017.1 L437.4 1016.8 L438.8 1016.6 L440.3 1016.3 L441.7 1016 L443.1 1015.7 L444.5 1015.4 L445.9 1015.1 L447.3 1014.8 L448.7 1014.5 L450.2 1014.1 L451.6 1013.8 L453 1013.4 L454.4 1013 L455.9 1012.6 L457.3 1012.2 L458.8 1011.7 L460.3 1011.3 L461.8 1010.8 L463.2 1010.2 L464.7 1009.6 L466.2 1009 L467.6 1008.3 L469.1 1007.5 L470.5 1006.6 L471.9 1005.6 L473.3 1004.4 L474.7 1003 L476.1 1001.4 L477.5 999.6 L478.9 997.7 L479.7 996.4 L480.4 994.9 L481.2 993.2 L482 991.3 L482.8 989.2 L483.5 987.1 L484.3 984.8 L485.1 982.5 L485.9 980.2 L486.6 977.9 L487.4 975.7 L488.1 973.7 L488.7 971.6 L489.4 969.4 L490.1 967.1 L490.8 964.8 L491.4 962.5 L492.1 960.3 L492.8 958.1 L493.5 956.1 L494.1 954.2 L494.8 952.5 L496 949.5 L497.2 946.4 L498.5 943.6 L499.7 941.6 L500.9 940.9 L502.1 941.5 L503.3 943 L504.5 945.3 L505.8 948.1 L507 951 L508.2 953.8 L508.9 955.5 L509.7 957.5 L510.4 959.5 L511.1 961.8 L511.9 964.1 L512.6 966.4 L513.3 968.8 L514 971.2 L514.8 973.5 L515.5 975.7 L516.2 977.8 L516.8 980 L517.5 982.3 L518.2 984.7 L518.9 987 L519.5 989.2 L520.2 991.4 L520.9 993.3 L521.6 995.1 L522.2 996.5 L522.9 997.7 L524.1 999.4 L525.3 1000.8 L526.5 1001.4 L527.7 1001 L528.9 999.8 L530.2 998 L531.4 995.7 L532.6 992.9 L532.9 992.1 L533.1 991 L533.4 989.6 L533.7 988.1 L534 986.3 L534.2 984.3 L534.5 982.2 L534.8 979.9 L535 977.5 L535.3 975 L535.6 972.5 L535.9 969.9 L536.1 967.3 L536.4 964.7 L536.7 962.2 L537 959.7 L537.2 957.3 L537.5 955 L537.7 953.1 L538 951.2 L538.2 949.4 L538.4 947.5 L538.7 945.7 L538.9 943.8 L539.1 942 L539.4 940.1 L539.6 938.2 L539.8 936.3 L540.1 934.4 L540.3 932.4 L540.5 930.4 L540.8 928.3 L541 926.2 L541.2 924.1 L541.5 921.8 L541.7 919.5 L541.9 917.2 L542.2 914.7 L542.4 912.2 L542.5 910.6 L542.7 909 L542.8 907.3 L543 905.6 L543.1 903.7 L543.2 901.9 L543.4 900 L543.5 898 L543.6 896 L543.8 894 L543.9 891.9 L544.1 889.8 L544.2 887.7 L544.3 885.6 L544.5 883.5 L544.6 881.3 L544.8 879.1 L544.9 877 L545 874.8 L545.2 872.6 L545.3 870.5 L545.4 868.3 L545.6 866.2 L545.7 864.1 L545.9 862 L546 860 L546.1 858 L546.3 856 L546.4 853.9 L546.5 851.9 L546.7 849.9 L546.8 847.8 L547 845.8 L547.1 843.8 L547.2 841.7 L547.4 839.7 L547.5 837.6 L547.6 835.6 L547.8 833.5 L547.9 831.5 L548.1 829.5 L548.2 827.4 L548.3 825.4 L548.5 823.3 L548.6 821.3 L548.8 819.2 L548.9 817.1 L549 815.1 L549.2 813 L549.3 811 L549.4 809 L549.6 806.9 L549.7 804.9 L549.8 802.8 L550 800.7 L550.1 798.7 L550.3 796.6 L550.4 794.5 L550.5 792.4 L550.7 790.3 L550.8 788.2 L550.9 786.1 L551.1 784 L551.2 781.9 L551.3 779.8 L551.5 777.7 L551.6 775.6 L551.8 773.6 L551.9 771.5 L552 769.4 L552.2 767.3 L552.3 765.3 L552.4 763.2 L552.6 761.2 L552.7 759.1 L552.8 757.1 L553 755.1 L553.1 753.1 L553.2 751.1 L553.4 749.2 L553.5 747.2 L553.7 745.3 L553.8 743.3 L553.9 741.4 L554.1 739.6 L554.2 737.7 L554.4 735.5 L554.5 733.2 L554.7 730.8 L554.9 728.5 L555 726.1 L555.2 723.7 L555.3 721.3 L555.5 718.9 L555.7 716.5 L555.8 714.1 L556 711.7 L556.2 709.3 L556.3 707 L556.5 704.7 L556.7 702.4 L556.8 700.1 L557 697.9 L557.1 695.8 L557.3 693.7 L557.5 691.7 L557.6 689.8 L557.8 687.9 L558 686.1 L558.1 684.5 L558.3 682.9 L558.4 681.4 L558.6 680 L558.8 678.8 L558.9 677.6 L559.1 676.6 L559.7 673.4 L560.2 670.3 L560.8 667.3 L561.3 664.4 L561.9 661.8 L562.5 659.3 L563 657.1 L563.6 655.1 L564.2 653.5 L564.7 652.1 L565.3 651.1 L565.8 650.5 L566.4 650.3 L567.1 650.5 L567.7 651.1 L568.4 652.1 L569 653.5 L569.7 655.1 L570.4 657.1 L571 659.3 L571.7 661.8 L572.4 664.4 L573 667.3 L573.7 670.3 L574.3 673.4 L575 676.6 L575.2 677.7 L575.4 678.9 L575.6 680.2 L575.8 681.6 L576 683.1 L576.2 684.7 L576.4 686.4 L576.6 688.2 L576.8 690.1 L577 692.1 L577.2 694.1 L577.5 696.3 L577.7 698.4 L577.9 700.7 L578.1 703 L578.3 705.4 L578.5 707.8 L578.7 710.2 L578.9 712.7 L579.1 715.2 L579.3 717.8 L579.5 720.3 L579.7 722.9 L579.9 725.5 L580 727.1 L580.1 728.7 L580.3 730.3 L580.4 732 L580.5 733.8 L580.6 735.5 L580.7 737.4 L580.9 739.2 L581 741.2 L581.1 743.1 L581.2 745.1 L581.3 747.1 L581.5 749.1 L581.6 751.2 L581.7 753.3 L581.8 755.4 L581.9 757.5 L582.1 759.7 L582.2 761.9 L582.3 764.1 L582.4 766.3 L582.5 768.5 L582.7 770.8 L582.8 773 L582.9 775.3 L583 777.5 L583.1 779.8 L583.3 782.1 L583.4 784.3 L583.5 786.6 L583.6 788.4 L583.7 790.3 L583.8 792.1 L583.9 794 L584 795.9 L584.1 797.8 L584.2 799.7 L584.3 801.6 L584.4 803.5 L584.5 805.4 L584.6 807.4 L584.7 809.3 L584.8 811.3 L584.9 813.3 L585 815.3 L585 817.4 L585.1 819.4 L585.2 821.5 L585.3 823.5 L585.4 825.6 L585.5 827.8 L585.6 829.9 L585.7 832 L585.8 834.2 L585.9 836.4 L586 838.6 L586.1 840.8 L586.2 843.1 L586.3 845.4 L586.4 847.7 L586.5 850 L586.6 851.8 L586.6 853.7 L586.7 855.5 L586.8 857.5 L586.9 859.4 L586.9 861.4 L587 863.4 L587.1 865.5 L587.2 867.5 L587.2 869.6 L587.3 871.7 L587.4 873.8 L587.5 875.9 L587.5 878 L587.6 880.2 L587.7 882.3 L587.8 884.4 L587.8 886.6 L587.9 888.7 L588 890.8 L588.1 892.9 L588.1 894.9 L588.2 897 L588.3 899 L588.4 901.1 L588.4 903 L588.5 905 L588.6 907.1 L588.7 909.2 L588.7 911.3 L588.8 913.4 L588.9 915.5 L589 917.6 L589.1 919.6 L589.1 921.7 L589.2 923.8 L589.3 925.9 L589.4 927.9 L589.5 930 L589.5 932 L589.6 934 L589.7 936 L589.8 938 L589.9 940 L589.9 941.9 L590 943.8 L590.1 945.8 L590.2 947.7 L590.3 949.5 L590.3 951.4 L590.4 953.2 L590.5 955 L590.6 957.3 L590.7 959.6 L590.8 961.9 L590.9 964.3 L591 966.7 L591.1 969.1 L591.2 971.5 L591.3 973.9 L591.4 976.3 L591.5 978.7 L591.6 981 L591.7 983.3 L591.8 985.6 L591.9 987.7 L592 989.8 L592.1 991.9 L592.2 993.8 L592.3 995.6 L592.4 997.4 L592.5 999 L592.6 1000.5 L592.7 1001.8 L592.8 1003.1 L592.9 1004.1 L593 1005 L593.4 1008.4 L593.9 1011.3 L594.3 1014 L594.8 1016.2 L595.2 1018.2 L595.6 1019.8 L596.1 1021 L596.5 1022 L598 1024.4 L599.5 1026 L601 1027 L602.5 1027.6 L604 1028.1 L605.5 1028.6 L607 1028.9 L608.5 1029.1 L610 1029.2 L611.5 1029.2 L613 1029.2 L614.4 1029.2 L615.9 1029.2 L617.4 1029.2 L618.9 1029.2 L620.4 1029.2 L621.9 1029.2 L623.3 1029.2 L624.8 1029.2 L626.3 1029.2 L627.8 1029.2 L629.3 1029.2 L630.7 1029.2 L632.2 1029.2 L633.7 1029.2 L635.2 1029.2 L636.7 1029.2 L638.1 1029.2 L639.6 1029.2 L641.1 1029.2 L642.6 1029.2 L644.1 1029.2 L645.6 1029.2 L647 1029.2 L648.5 1029.2 L650 1029.2 L651.5 1029.2 L653 1029.2 L654.4 1029.2 L655.9 1029.2 L657.4 1029.2 L658.9 1029.2 L660.4 1029.2 L661.9 1029.2 L663.3 1029.2 L664.8 1029.2 L666.3 1029.2 L667.8 1029.2 L669.3 1029.2 L670.7 1029.2 L672.2 1029.2 L673.7 1029.2 L675.2 1029.2 L676.7 1029.2 L678.1 1029.2 L679.6 1029.2 L681.1 1029.2 L682.6 1029.2 L684.1 1029.2 L685.6 1029.2 L687 1029.2 L688.5 1029.2 L690 1029.2L690 1029.2L688.5 1029.2L687 1029.2L685.5 1029.2L684.1 1029.2L682.6 1029.2L681.1 1029.2L679.6 1029.2L678.1 1029.2L676.6 1029.2L675.2 1029.2L673.7 1029.2L672.2 1029.2L670.7 1029.2L669.2 1029.2L667.7 1029.2L666.3 1029.2L664.8 1029.2L663.3 1029.2L661.8 1029.2L660.3 1029.2L658.8 1029.2L657.4 1029.2L655.9 1029.2L654.4 1029.2L652.9 1029.2L651.4 1029.2L649.9 1029.2L648.5 1029.2L647 1029.2L645.5 1029.2L644 1029.2L642.5 1029.2L641 1029.2L639.5 1029.2L638.1 1029.2L636.6 1029.2L635.1 1029.2L633.6 1029.2L632.1 1029.2L630.6 1029.2L629.2 1029.2L627.7 1029.2L626.2 1029.2L624.7 1029.2L623.2 1029.2L621.7 1029.2L620.3 1029.2L618.8 1029.2L617.3 1029.2L615.8 1029.2L614.3 1029.2L612.8 1029.2L611.4 1029.2L609.9 1029.2L608.4 1029.2L606.9 1029.2L605.4 1029.2L603.9 1029.2L602.5 1029.2L601 1029.2L599.5 1029.2L598 1029.2L596.7 1028.1L595.3 1025.4L594 1022L593.5 1020.6L593 1019L592.5 1017.2L592 1015.2L591.5 1013L591 1010.6L590.5 1008L590.2 1006.6L590 1005.1L589.8 1003.4L589.5 1001.7L589.2 999.8L589 997.9L588.8 995.8L588.5 993.7L588.2 991.6L588 989.3L587.8 987L587.5 984.7L587.2 982.4L587 980L586.8 978.3L586.6 976.5L586.5 974.6L586.3 972.7L586.1 970.7L585.9 968.7L585.8 966.6L585.6 964.5L585.4 962.4L585.2 960.2L585.1 958.1L584.9 955.9L584.7 953.7L584.5 951.5L584.4 949.3L584.2 947.1L584 945L583.8 943L583.7 941L583.5 939L583.4 937L583.2 935L583 932.9L582.9 930.8L582.7 928.7L582.5 926.7L582.4 924.6L582.2 922.5L582.1 920.5L581.9 918.5L581.7 916.5L581.6 914.5L581.4 912.5L581.3 910.6L581.1 908.7L580.9 906.5L580.7 904.3L580.5 902.1L580.3 899.9L580.2 897.7L580 895.5L579.8 893.3L579.6 891.2L579.4 889.1L579.2 887L579 884.9L578.8 882.9L578.6 880.9L578.4 878.9L578.3 877L578.1 875.2L577.9 873.4L577.7 871.7L577.5 870L577.2 867.5L576.9 865L576.6 862.5L576.3 860.1L576 857.7L575.7 855.4L575.5 853.2L575.2 851.1L574.9 849.1L574.6 847.3L574.3 845.6L574 844.1L573.7 842.8L572.9 839.6L572.2 836.6L571.4 833.7L570.7 831.1L569.9 828.9L569.1 827.2L568.4 826.1L567.6 825.7L566.8 826.1L566.1 827.3L565.3 829.1L564.5 831.4L563.8 834L563 836.9L562.3 839.8L561.5 842.8L561.1 844.3L560.8 846L560.4 847.7L560 849.6L559.6 851.7L559.2 853.8L558.9 856L558.5 858.3L558.1 860.6L557.8 863.1L557.4 865.5L557 868L556.8 869.7L556.5 871.4L556.2 873.2L556 875L555.8 876.8L555.5 878.7L555.2 880.7L555 882.6L554.8 884.7L554.5 886.7L554.2 888.8L554 891L553.8 893.2L553.5 895.5L553.2 897.8L553 900.1L552.8 902.5L552.5 905L552.3 906.7L552.2 908.5L552 910.4L551.8 912.3L551.7 914.3L551.5 916.3L551.3 918.4L551.2 920.5L551 922.6L550.8 924.7L550.7 926.8L550.5 928.9L550.3 931L550.2 933L550 935L549.8 937.1L549.6 939.3L549.5 941.5L549.3 943.7L549.1 945.9L548.9 948.2L548.8 950.4L548.6 952.6L548.4 954.8L548.2 956.9L548.1 959L547.9 961.1L547.7 963L547.5 964.9L547.4 966.7L547.2 968.4L547 970L546.7 972.5L546.4 975L546.1 977.3L545.8 979.6L545.5 981.7L545.2 983.8L544.9 985.8L544.6 987.7L544.3 989.6L544 991.4L543.7 993.2L543.4 995L543.1 996.7L542.8 998.3L542.5 1000L542 1002.5L541.6 1004.9L541.1 1007.4L540.7 1009.7L540.2 1012L539.8 1014.1L539.4 1016.2L538.9 1018L538.5 1019.6L538 1021L537 1023.9L536 1026.5L535 1028.4L534 1029.2L532.5 1029.2L531 1029.2L529.5 1029.2L528 1029.2L526.5 1029.2L525 1029.2L523.5 1029.2L522 1029.2L520.5 1029.2L519 1029.2L517.5 1029.2L516 1029.2L514.5 1029.2L513 1029.2L511.5 1029.2L510 1029.2L508.5 1029.2L507 1029.2L505.5 1029.2L504 1029.2L502.5 1029.2L501 1029.2L499.5 1029.2L498 1029.2L496.5 1029.2L495.1 1029.2L493.6 1029.2L492.1 1029.2L490.6 1029.2L489.1 1029.2L487.6 1029.2L486.1 1029.2L484.6 1029.2L483.1 1029.2L481.6 1029.2L480.1 1029.2L478.6 1029.2L477.1 1029.2L475.6 1029.2L474.1 1029.2L472.6 1029.2L471.1 1029.2L469.6 1029.2L468.1 1029.2L466.6 1029.2L465.1 1029.2L463.6 1029.2L462.1 1029.2L460.6 1029.2L459.1 1029.2L457.6 1029.2L456.1 1029.2L454.6 1029.2L453.1 1029.2L451.6 1029.2L450.1 1029.2L448.6 1029.2L447.1 1029.2L445.6 1029.2L444.1 1029.2L442.6 1029.2L441.1 1029.2L439.6 1029.2L438.1 1029.2L436.6 1029.2L435.1 1029.2L433.6 1029.2L432.1 1029.2L430.6 1029.2L429.1 1029.2L427.6 1029.2L426.1 1029.2L424.6 1029.2L423.1 1029.2L421.6 1029.2L420.1 1029.2L418.7 1029.2L417.2 1029.2L415.7 1029.2L414.2 1029.2L412.7 1029.2L411.2 1029.2L409.7 1029.2L408.2 1029.2L406.7 1029.2L405.2 1029.2L403.7 1029.2L402.2 1029.2L400.7 1029.2L399.2 1029.2L397.7 1029.2L396.2 1029.2L394.7 1029.2L393.2 1029.2L391.7 1029.2L390.2 1029.2L388.7 1029.2L387.2 1029.2L385.7 1029.2L384.2 1029.2L382.7 1029.2L381.2 1029.2L379.7 1029.2L378.2 1029.2L376.7 1029.2L375.2 1029.2L373.7 1029.2L372.2 1029.2L370.7 1029.2L369.2 1029.2L367.7 1029.2L366.2 1029.2L364.7 1029.2L363.2 1029.2L361.7 1029.2L360.2 1029.2L358.7 1029.2L357.2 1029.2L355.7 1029.2L354.2 1029.2L352.7 1029.2L351.2 1029.2L349.7 1029.2L348.2 1029.2L346.7 1029.2L345.2 1029.2L343.7 1029.2L342.3 1029.2L340.8 1029.2L339.3 1029.2L337.8 1029.2L336.3 1029.2L334.8 1029.2L333.3 1029.2L331.8 1029.2L330.3 1029.2L328.8 1029.2L327.3 1029.2L325.8 1029.2L324.3 1029.2L322.8 1029.2L321.3 1029.2L319.8 1029.2L318.3 1029.2L316.8 1029.2L315.3 1029.2L313.8 1029.2L312.3 1029.2L310.8 1029.2L309.3 1029.2L307.8 1029.2L306.3 1029.2L304.8 1029.2L303.3 1029.2L301.8 1029.2L300.3 1029.2L298.8 1029.2L297.3 1029.2L295.8 1029.2L294.3 1029.2L292.8 1029.2L291.3 1029.2L289.8 1029.2L288.3 1029.2L286.8 1029.2L285.3 1029.2L283.8 1029.2L282.3 1029.2L280.8 1029.2L279.3 1029.2L277.8 1029.2L276.3 1029.2L274.8 1029.2L273.3 1029.2L271.8 1029.2L270.3 1029.2L268.8 1029.2L267.3 1029.2L265.9 1029.2L264.4 1029.2L262.9 1029.2L261.4 1029.2L259.9 1029.2L258.4 1029.2L256.9 1029.2L255.4 1029.2L253.9 1029.2L252.4 1029.2L250.9 1029.2L249.4 1029.2L247.9 1029.2L246.4 1029.2L244.9 1029.2L243.4 1029.2L241.9 1029.2L240.4 1029.2L238.9 1029.2L237.4 1029.2L235.9 1029.2L234.4 1029.2L232.9 1029.2L231.4 1029.2L229.9 1029.2L228.4 1029.2L226.9 1029.2L225.4 1029.2L223.9 1029.2L222.4 1029.2L220.9 1029.2L219.4 1029.2L217.9 1029.2L216.4 1029.2L214.9 1029.2L213.4 1029.2L211.9 1029.2L210.4 1029.2L208.9 1029.2L207.4 1029.2L205.9 1029.2L204.4 1029.2L202.9 1029.2L201.4 1029.2L199.9 1029.2L198.4 1029.2L196.9 1029.2L195.4 1029.2L193.9 1029.2L192.4 1029.2L190.9 1029.2L189.5 1029.2L188 1029.2L186.5 1029.2L185 1029.2L183.5 1029.2L182 1029.2L180.5 1029.2L179 1029.2L177.5 1029.2L176 1029.2L174.5 1029.2L173 1029.2L171.5 1029.2L170 1029.2L168.5 1029.2L167 1029.2L165.5 1029.2L164 1029.2L162.5 1029.2L161 1029.2L159.5 1029.2L158 1029.2L156.5 1029.2L155 1029.2L153.5 1029.2L152 1029.2Z" fill="#ff0000" fill-opacity="0.55" stroke="none"/><path d="M152 1029.2 L153.5 1029.2 L155 1029.2 L156.4 1029.2 L157.9 1029.2 L159.4 1029.2 L160.9 1029.2 L162.4 1029.2 L163.9 1029.2 L165.3 1029.2 L166.8 1029.2 L168.3 1029.2 L169.8 1029.2 L171.3 1029.2 L172.8 1029.2 L174.2 1029.2 L175.7 1029.2 L177.2 1029.2 L178.7 1029.2 L180.2 1029.2 L181.7 1029.2 L183.1 1029.2 L184.6 1029.2 L186.1 1029.2 L187.6 1029.2 L189.1 1029.2 L190.6 1029.2 L192 1029.2 L193.5 1029.2 L195 1029.2 L196.5 1029.1 L198 1028.9 L199.4 1028.5 L200.9 1028 L202.4 1027.5 L203.6 1026.7 L204.7 1025.5 L205.8 1024.2 L207 1023 L208.5 1021.6 L209.9 1020.2 L211.4 1018.9 L212.9 1018.1 L214.4 1017.6 L215.9 1017.2 L217.4 1017 L218.9 1017 L220.4 1017.2 L221.9 1017.3 L223.4 1017.6 L224.9 1017.8 L226.4 1018 L227.9 1018.1 L229.4 1018.2 L230.9 1018.3 L232.4 1018.5 L233.9 1018.6 L235.4 1018.7 L236.9 1018.7 L238.4 1018.8 L239.9 1018.8 L241.4 1018.8 L242.9 1018.8 L244.4 1018.8 L245.9 1018.7 L247.4 1018.7 L248.9 1018.7 L250.4 1018.6 L251.8 1018.6 L253.3 1018.5 L254.8 1018.4 L256.3 1018.3 L257.8 1018.3 L259.3 1018.2 L260.8 1018.1 L262.3 1018 L263.8 1017.7 L265.3 1017.5 L266.8 1017.1 L268.3 1016.7 L269.8 1016.3 L271.3 1015.9 L272.8 1015.5 L274.3 1015.1 L275.8 1014.7 L277.3 1014.4 L278.8 1014.1 L280.3 1013.8 L281.8 1013.4 L283.3 1013.1 L284.8 1012.8 L286.3 1012.5 L287.8 1012.3 L289.3 1012.2 L290.8 1012.1 L292.3 1012.6 L293.8 1013.5 L295.3 1014 L296.8 1013.5 L298.3 1012.4 L299.8 1010.8 L301.3 1009.2 L302.8 1007.8 L304.3 1006.9 L305.8 1006.5 L307.3 1006.2 L308.7 1006 L310.2 1005.8 L311.7 1005.4 L313.2 1004.7 L314.7 1003.6 L316.2 1002.5 L317.7 1001.6 L319.2 1001.2 L320.7 1001.3 L322.2 1001.5 L323.7 1001.9 L325.2 1002.3 L326.7 1002.8 L328.2 1003.3 L329.7 1003.9 L331.2 1004.6 L332.7 1005.4 L334.2 1006.4 L335.7 1007.4 L337.2 1008.4 L338.7 1009.4 L340.2 1010.6 L341.7 1011.7 L343.2 1012.8 L344.7 1013.6 L346.2 1014.3 L347.7 1014.9 L349.2 1015.5 L350.7 1016.1 L352.2 1016.6 L353.7 1017.1 L355.2 1017.5 L356.7 1018 L358.2 1018.4 L359.7 1018.8 L361.2 1019.2 L362.7 1019.7 L364.2 1020.1 L365.7 1020.4 L367.2 1020.6 L368.7 1020.7 L370.2 1020.8 L371.7 1020.8 L373.1 1020.9 L374.6 1020.9 L376.1 1021 L377.6 1021.1 L379.1 1021.6 L380.6 1022.2 L382.1 1022.6 L383.6 1022.6 L385.1 1022.6 L386.6 1022.6 L388.1 1022.6 L389.6 1022.6 L391.1 1022.6 L392.6 1022.5 L394.1 1022.5 L395.6 1022.5 L397.1 1022.5 L398.6 1022.4 L400.1 1022.4 L401.6 1022.4 L403.1 1022.3 L404.6 1022.3 L406.1 1022.1 L407.6 1021.7 L409.1 1021.2 L410.6 1020.7 L412.1 1020.3 L413.6 1020 L415.1 1019.8 L416.6 1019.6 L418.1 1019.4 L419.6 1019.2 L421.1 1019 L422.6 1018.8 L424.1 1018.7 L425.6 1018.5 L427.1 1018.3 L428.6 1018.1 L430.1 1018 L431.6 1017.8 L433.1 1017.5 L434.6 1017.3 L436 1017.1 L437.4 1016.8 L438.8 1016.6 L440.3 1016.3 L441.7 1016 L443.1 1015.7 L444.5 1015.4 L445.9 1015.1 L447.3 1014.8 L448.7 1014.5 L450.2 1014.1 L451.6 1013.8 L453 1013.4 L454.4 1013 L455.9 1012.6 L457.3 1012.2 L458.8 1011.7 L460.3 1011.3 L461.8 1010.8 L463.2 1010.2 L464.7 1009.6 L466.2 1009 L467.6 1008.3 L469.1 1007.5 L470.5 1006.6 L471.9 1005.6 L473.3 1004.4 L474.7 1003 L476.1 1001.4 L477.5 999.6 L478.9 997.7 L479.7 996.4 L480.4 994.9 L481.2 993.2 L482 991.3 L482.8 989.2 L483.5 987.1 L484.3 984.8 L485.1 982.5 L485.9 980.2 L486.6 977.9 L487.4 975.7 L488.1 973.7 L488.7 971.6 L489.4 969.4 L490.1 967.1 L490.8 964.8 L491.4 962.5 L492.1 960.3 L492.8 958.1 L493.5 956.1 L494.1 954.2 L494.8 952.5 L496 949.5 L497.2 946.4 L498.5 943.6 L499.7 941.6 L500.9 940.9 L502.1 941.5 L503.3 943 L504.5 945.3 L505.8 948.1 L507 951 L508.2 953.8 L508.9 955.5 L509.7 957.5 L510.4 959.5 L511.1 961.8 L511.9 964.1 L512.6 966.4 L513.3 968.8 L514 971.2 L514.8 973.5 L515.5 975.7 L516.2 977.8 L516.8 980 L517.5 982.3 L518.2 984.7 L518.9 987 L519.5 989.2 L520.2 991.4 L520.9 993.3 L521.6 995.1 L522.2 996.5 L522.9 997.7 L524.1 999.4 L525.3 1000.8 L526.5 1001.4 L527.7 1001 L528.9 999.8 L530.2 998 L531.4 995.7 L532.6 992.9 L532.9 992.1 L533.1 991 L533.4 989.6 L533.7 988.1 L534 986.3 L534.2 984.3 L534.5 982.2 L534.8 979.9 L535 977.5 L535.3 975 L535.6 972.5 L535.9 969.9 L536.1 967.3 L536.4 964.7 L536.7 962.2 L537 959.7 L537.2 957.3 L537.5 955 L537.7 953.1 L538 951.2 L538.2 949.4 L538.4 947.5 L538.7 945.7 L538.9 943.8 L539.1 942 L539.4 940.1 L539.6 938.2 L539.8 936.3 L540.1 934.4 L540.3 932.4 L540.5 930.4 L540.8 928.3 L541 926.2 L541.2 924.1 L541.5 921.8 L541.7 919.5 L541.9 917.2 L542.2 914.7 L542.4 912.2 L542.5 910.6 L542.7 909 L542.8 907.3 L543 905.6 L543.1 903.7 L543.2 901.9 L543.4 900 L543.5 898 L543.6 896 L543.8 894 L543.9 891.9 L544.1 889.8 L544.2 887.7 L544.3 885.6 L544.5 883.5 L544.6 881.3 L544.8 879.1 L544.9 877 L545 874.8 L545.2 872.6 L545.3 870.5 L545.4 868.3 L545.6 866.2 L545.7 864.1 L545.9 862 L546 860 L546.1 858 L546.3 856 L546.4 853.9 L546.5 851.9 L546.7 849.9 L546.8 847.8 L547 845.8 L547.1 843.8 L547.2 841.7 L547.4 839.7 L547.5 837.6 L547.6 835.6 L547.8 833.5 L547.9 831.5 L548.1 829.5 L548.2 827.4 L548.3 825.4 L548.5 823.3 L548.6 821.3 L548.8 819.2 L548.9 817.1 L549 815.1 L549.2 813 L549.3 811 L549.4 809 L549.6 806.9 L549.7 804.9 L549.8 802.8 L550 800.7 L550.1 798.7 L550.3 796.6 L550.4 794.5 L550.5 792.4 L550.7 790.3 L550.8 788.2 L550.9 786.1 L551.1 784 L551.2 781.9 L551.3 779.8 L551.5 777.7 L551.6 775.6 L551.8 773.6 L551.9 771.5 L552 769.4 L552.2 767.3 L552.3 765.3 L552.4 763.2 L552.6 761.2 L552.7 759.1 L552.8 757.1 L553 755.1 L553.1 753.1 L553.2 751.1 L553.4 749.2 L553.5 747.2 L553.7 745.3 L553.8 743.3 L553.9 741.4 L554.1 739.6 L554.2 737.7 L554.4 735.5 L554.5 733.2 L554.7 730.8 L554.9 728.5 L555 726.1 L555.2 723.7 L555.3 721.3 L555.5 718.9 L555.7 716.5 L555.8 714.1 L556 711.7 L556.2 709.3 L556.3 707 L556.5 704.7 L556.7 702.4 L556.8 700.1 L557 697.9 L557.1 695.8 L557.3 693.7 L557.5 691.7 L557.6 689.8 L557.8 687.9 L558 686.1 L558.1 684.5 L558.3 682.9 L558.4 681.4 L558.6 680 L558.8 678.8 L558.9 677.6 L559.1 676.6 L559.7 673.4 L560.2 670.3 L560.8 667.3 L561.3 664.4 L561.9 661.8 L562.5 659.3 L563 657.1 L563.6 655.1 L564.2 653.5 L564.7 652.1 L565.3 651.1 L565.8 650.5 L566.4 650.3 L567.1 650.5 L567.7 651.1 L568.4 652.1 L569 653.5 L569.7 655.1 L570.4 657.1 L571 659.3 L571.7 661.8 L572.4 664.4 L573 667.3 L573.7 670.3 L574.3 673.4 L575 676.6 L575.2 677.7 L575.4 678.9 L575.6 680.2 L575.8 681.6 L576 683.1 L576.2 684.7 L576.4 686.4 L576.6 688.2 L576.8 690.1 L577 692.1 L577.2 694.1 L577.5 696.3 L577.7 698.4 L577.9 700.7 L578.1 703 L578.3 705.4 L578.5 707.8 L578.7 710.2 L578.9 712.7 L579.1 715.2 L579.3 717.8 L579.5 720.3 L579.7 722.9 L579.9 725.5 L580 727.1 L580.1 728.7 L580.3 730.3 L580.4 732 L580.5 733.8 L580.6 735.5 L580.7 737.4 L580.9 739.2 L581 741.2 L581.1 743.1 L581.2 745.1 L581.3 747.1 L581.5 749.1 L581.6 751.2 L581.7 753.3 L581.8 755.4 L581.9 757.5 L582.1 759.7 L582.2 761.9 L582.3 764.1 L582.4 766.3 L582.5 768.5 L582.7 770.8 L582.8 773 L582.9 775.3 L583 777.5 L583.1 779.8 L583.3 782.1 L583.4 784.3 L583.5 786.6 L583.6 788.4 L583.7 790.3 L583.8 792.1 L583.9 794 L584 795.9 L584.1 797.8 L584.2 799.7 L584.3 801.6 L584.4 803.5 L584.5 805.4 L584.6 807.4 L584.7 809.3 L584.8 811.3 L584.9 813.3 L585 815.3 L585 817.4 L585.1 819.4 L585.2 821.5 L585.3 823.5 L585.4 825.6 L585.5 827.8 L585.6 829.9 L585.7 832 L585.8 834.2 L585.9 836.4 L586 838.6 L586.1 840.8 L586.2 843.1 L586.3 845.4 L586.4 847.7 L586.5 850 L586.6 851.8 L586.6 853.7 L586.7 855.5 L586.8 857.5 L586.9 859.4 L586.9 861.4 L587 863.4 L587.1 865.5 L587.2 867.5 L587.2 869.6 L587.3 871.7 L587.4 873.8 L587.5 875.9 L587.5 878 L587.6 880.2 L587.7 882.3 L587.8 884.4 L587.8 886.6 L587.9 888.7 L588 890.8 L588.1 892.9 L588.1 894.9 L588.2 897 L588.3 899 L588.4 901.1 L588.4 903 L588.5 905 L588.6 907.1 L588.7 909.2 L588.7 911.3 L588.8 913.4 L588.9 915.5 L589 917.6 L589.1 919.6 L589.1 921.7 L589.2 923.8 L589.3 925.9 L589.4 927.9 L589.5 930 L589.5 932 L589.6 934 L589.7 936 L589.8 938 L589.9 940 L589.9 941.9 L590 943.8 L590.1 945.8 L590.2 947.7 L590.3 949.5 L590.3 951.4 L590.4 953.2 L590.5 955 L590.6 957.3 L590.7 959.6 L590.8 961.9 L590.9 964.3 L591 966.7 L591.1 969.1 L591.2 971.5 L591.3 973.9 L591.4 976.3 L591.5 978.7 L591.6 981 L591.7 983.3 L591.8 985.6 L591.9 987.7 L592 989.8 L592.1 991.9 L592.2 993.8 L592.3 995.6 L592.4 997.4 L592.5 999 L592.6 1000.5 L592.7 1001.8 L592.8 1003.1 L592.9 1004.1 L593 1005 L593.4 1008.4 L593.9 1011.3 L594.3 1014 L594.8 1016.2 L595.2 1018.2 L595.6 1019.8 L596.1 1021 L596.5 1022 L598 1024.4 L599.5 1026 L601 1027 L602.5 1027.6 L604 1028.1 L605.5 1028.6 L607 1028.9 L608.5 1029.1 L610 1029.2 L611.5 1029.2 L613 1029.2 L614.4 1029.2 L615.9 1029.2 L617.4 1029.2 L618.9 1029.2 L620.4 1029.2 L621.9 1029.2 L623.3 1029.2 L624.8 1029.2 L626.3 1029.2 L627.8 1029.2 L629.3 1029.2 L630.7 1029.2 L632.2 1029.2 L633.7 1029.2 L635.2 1029.2 L636.7 1029.2 L638.1 1029.2 L639.6 1029.2 L641.1 1029.2 L642.6 1029.2 L644.1 1029.2 L645.6 1029.2 L647 1029.2 L648.5 1029.2 L650 1029.2 L651.5 1029.2 L653 1029.2 L654.4 1029.2 L655.9 1029.2 L657.4 1029.2 L658.9 1029.2 L660.4 1029.2 L661.9 1029.2 L663.3 1029.2 L664.8 1029.2 L666.3 1029.2 L667.8 1029.2 L669.3 1029.2 L670.7 1029.2 L672.2 1029.2 L673.7 1029.2 L675.2 1029.2 L676.7 1029.2 L678.1 1029.2 L679.6 1029.2 L681.1 1029.2 L682.6 1029.2 L684.1 1029.2 L685.6 1029.2 L687 1029.2 L688.5 1029.2 L690 1029.2" fill="none" stroke="#3a1a1a" stroke-width="1.3"/><path d="M152 1029.2 L153.5 1029.2 L155 1029.2 L156.5 1029.2 L158 1029.2 L159.5 1029.2 L161 1029.2 L162.5 1029.2 L164 1029.2 L165.5 1029.2 L167 1029.2 L168.5 1029.2 L170 1029.2 L171.5 1029.2 L173 1029.2 L174.5 1029.2 L176 1029.2 L177.5 1029.2 L179 1029.2 L180.5 1029.2 L182 1029.2 L183.5 1029.2 L185 1029.2 L186.5 1029.2 L188 1029.2 L189.5 1029.2 L190.9 1029.2 L192.4 1029.2 L193.9 1029.2 L195.4 1029.2 L196.9 1029.2 L198.4 1029.2 L199.9 1029.2 L201.4 1029.2 L202.9 1029.2 L204.4 1029.2 L205.9 1029.2 L207.4 1029.2 L208.9 1029.2 L210.4 1029.2 L211.9 1029.2 L213.4 1029.2 L214.9 1029.2 L216.4 1029.2 L217.9 1029.2 L219.4 1029.2 L220.9 1029.2 L222.4 1029.2 L223.9 1029.2 L225.4 1029.2 L226.9 1029.2 L228.4 1029.2 L229.9 1029.2 L231.4 1029.2 L232.9 1029.2 L234.4 1029.2 L235.9 1029.2 L237.4 1029.2 L238.9 1029.2 L240.4 1029.2 L241.9 1029.2 L243.4 1029.2 L244.9 1029.2 L246.4 1029.2 L247.9 1029.2 L249.4 1029.2 L250.9 1029.2 L252.4 1029.2 L253.9 1029.2 L255.4 1029.2 L256.9 1029.2 L258.4 1029.2 L259.9 1029.2 L261.4 1029.2 L262.9 1029.2 L264.4 1029.2 L265.9 1029.2 L267.3 1029.2 L268.8 1029.2 L270.3 1029.2 L271.8 1029.2 L273.3 1029.2 L274.8 1029.2 L276.3 1029.2 L277.8 1029.2 L279.3 1029.2 L280.8 1029.2 L282.3 1029.2 L283.8 1029.2 L285.3 1029.2 L286.8 1029.2 L288.3 1029.2 L289.8 1029.2 L291.3 1029.2 L292.8 1029.2 L294.3 1029.2 L295.8 1029.2 L297.3 1029.2 L298.8 1029.2 L300.3 1029.2 L301.8 1029.2 L303.3 1029.2 L304.8 1029.2 L306.3 1029.2 L307.8 1029.2 L309.3 1029.2 L310.8 1029.2 L312.3 1029.2 L313.8 1029.2 L315.3 1029.2 L316.8 1029.2 L318.3 1029.2 L319.8 1029.2 L321.3 1029.2 L322.8 1029.2 L324.3 1029.2 L325.8 1029.2 L327.3 1029.2 L328.8 1029.2 L330.3 1029.2 L331.8 1029.2 L333.3 1029.2 L334.8 1029.2 L336.3 1029.2 L337.8 1029.2 L339.3 1029.2 L340.8 1029.2 L342.3 1029.2 L343.7 1029.2 L345.2 1029.2 L346.7 1029.2 L348.2 1029.2 L349.7 1029.2 L351.2 1029.2 L352.7 1029.2 L354.2 1029.2 L355.7 1029.2 L357.2 1029.2 L358.7 1029.2 L360.2 1029.2 L361.7 1029.2 L363.2 1029.2 L364.7 1029.2 L366.2 1029.2 L367.7 1029.2 L369.2 1029.2 L370.7 1029.2 L372.2 1029.2 L373.7 1029.2 L375.2 1029.2 L376.7 1029.2 L378.2 1029.2 L379.7 1029.2 L381.2 1029.2 L382.7 1029.2 L384.2 1029.2 L385.7 1029.2 L387.2 1029.2 L388.7 1029.2 L390.2 1029.2 L391.7 1029.2 L393.2 1029.2 L394.7 1029.2 L396.2 1029.2 L397.7 1029.2 L399.2 1029.2 L400.7 1029.2 L402.2 1029.2 L403.7 1029.2 L405.2 1029.2 L406.7 1029.2 L408.2 1029.2 L409.7 1029.2 L411.2 1029.2 L412.7 1029.2 L414.2 1029.2 L415.7 1029.2 L417.2 1029.2 L418.7 1029.2 L420.1 1029.2 L421.6 1029.2 L423.1 1029.2 L424.6 1029.2 L426.1 1029.2 L427.6 1029.2 L429.1 1029.2 L430.6 1029.2 L432.1 1029.2 L433.6 1029.2 L435.1 1029.2 L436.6 1029.2 L438.1 1029.2 L439.6 1029.2 L441.1 1029.2 L442.6 1029.2 L444.1 1029.2 L445.6 1029.2 L447.1 1029.2 L448.6 1029.2 L450.1 1029.2 L451.6 1029.2 L453.1 1029.2 L454.6 1029.2 L456.1 1029.2 L457.6 1029.2 L459.1 1029.2 L460.6 1029.2 L462.1 1029.2 L463.6 1029.2 L465.1 1029.2 L466.6 1029.2 L468.1 1029.2 L469.6 1029.2 L471.1 1029.2 L472.6 1029.2 L474.1 1029.2 L475.6 1029.2 L477.1 1029.2 L478.6 1029.2 L480.1 1029.2 L481.6 1029.2 L483.1 1029.2 L484.6 1029.2 L486.1 1029.2 L487.6 1029.2 L489.1 1029.2 L490.6 1029.2 L492.1 1029.2 L493.6 1029.2 L495.1 1029.2 L496.5 1029.2 L498 1029.2 L499.5 1029.2 L501 1029.2 L502.5 1029.2 L504 1029.2 L505.5 1029.2 L507 1029.2 L508.5 1029.2 L510 1029.2 L511.5 1029.2 L513 1029.2 L514.5 1029.2 L516 1029.2 L517.5 1029.2 L519 1029.2 L520.5 1029.2 L522 1029.2 L523.5 1029.2 L525 1029.2 L526.5 1029.2 L528 1029.2 L529.5 1029.2 L531 1029.2 L532.5 1029.2 L534 1029.2 L535 1028.4 L536 1026.5 L537 1023.9 L538 1021 L538.5 1019.6 L538.9 1018 L539.4 1016.2 L539.8 1014.1 L540.2 1012 L540.7 1009.7 L541.1 1007.4 L541.6 1004.9 L542 1002.5 L542.5 1000 L542.8 998.3 L543.1 996.7 L543.4 995 L543.7 993.2 L544 991.4 L544.3 989.6 L544.6 987.7 L544.9 985.8 L545.2 983.8 L545.5 981.7 L545.8 979.6 L546.1 977.3 L546.4 975 L546.7 972.5 L547 970 L547.2 968.4 L547.4 966.7 L547.5 964.9 L547.7 963 L547.9 961.1 L548.1 959 L548.2 956.9 L548.4 954.8 L548.6 952.6 L548.8 950.4 L548.9 948.2 L549.1 945.9 L549.3 943.7 L549.5 941.5 L549.6 939.3 L549.8 937.1 L550 935 L550.2 933 L550.3 931 L550.5 928.9 L550.7 926.8 L550.8 924.7 L551 922.6 L551.2 920.5 L551.3 918.4 L551.5 916.3 L551.7 914.3 L551.8 912.3 L552 910.4 L552.2 908.5 L552.3 906.7 L552.5 905 L552.8 902.5 L553 900.1 L553.2 897.8 L553.5 895.5 L553.8 893.2 L554 891 L554.2 888.8 L554.5 886.7 L554.8 884.7 L555 882.6 L555.2 880.7 L555.5 878.7 L555.8 876.8 L556 875 L556.2 873.2 L556.5 871.4 L556.8 869.7 L557 868 L557.4 865.5 L557.8 863.1 L558.1 860.6 L558.5 858.3 L558.9 856 L559.2 853.8 L559.6 851.7 L560 849.6 L560.4 847.7 L560.8 846 L561.1 844.3 L561.5 842.8 L562.3 839.8 L563 836.9 L563.8 834 L564.5 831.4 L565.3 829.1 L566.1 827.3 L566.8 826.1 L567.6 825.7 L568.4 826.1 L569.1 827.2 L569.9 828.9 L570.7 831.1 L571.4 833.7 L572.2 836.6 L572.9 839.6 L573.7 842.8 L574 844.1 L574.3 845.6 L574.6 847.3 L574.9 849.1 L575.2 851.1 L575.5 853.2 L575.7 855.4 L576 857.7 L576.3 860.1 L576.6 862.5 L576.9 865 L577.2 867.5 L577.5 870 L577.7 871.7 L577.9 873.4 L578.1 875.2 L578.3 877 L578.4 878.9 L578.6 880.9 L578.8 882.9 L579 884.9 L579.2 887 L579.4 889.1 L579.6 891.2 L579.8 893.3 L580 895.5 L580.2 897.7 L580.3 899.9 L580.5 902.1 L580.7 904.3 L580.9 906.5 L581.1 908.7 L581.3 910.6 L581.4 912.5 L581.6 914.5 L581.7 916.5 L581.9 918.5 L582.1 920.5 L582.2 922.5 L582.4 924.6 L582.5 926.7 L582.7 928.7 L582.9 930.8 L583 932.9 L583.2 935 L583.4 937 L583.5 939 L583.7 941 L583.8 943 L584 945 L584.2 947.1 L584.4 949.3 L584.5 951.5 L584.7 953.7 L584.9 955.9 L585.1 958.1 L585.2 960.2 L585.4 962.4 L585.6 964.5 L585.8 966.6 L585.9 968.7 L586.1 970.7 L586.3 972.7 L586.5 974.6 L586.6 976.5 L586.8 978.3 L587 980 L587.2 982.4 L587.5 984.7 L587.8 987 L588 989.3 L588.2 991.6 L588.5 993.7 L588.8 995.8 L589 997.9 L589.2 999.8 L589.5 1001.7 L589.8 1003.4 L590 1005.1 L590.2 1006.6 L590.5 1008 L591 1010.6 L591.5 1013 L592 1015.2 L592.5 1017.2 L593 1019 L593.5 1020.6 L594 1022 L595.3 1025.4 L596.7 1028.1 L598 1029.2 L599.5 1029.2 L601 1029.2 L602.5 1029.2 L603.9 1029.2 L605.4 1029.2 L606.9 1029.2 L608.4 1029.2 L609.9 1029.2 L611.4 1029.2 L612.8 1029.2 L614.3 1029.2 L615.8 1029.2 L617.3 1029.2 L618.8 1029.2 L620.3 1029.2 L621.7 1029.2 L623.2 1029.2 L624.7 1029.2 L626.2 1029.2 L627.7 1029.2 L629.2 1029.2 L630.6 1029.2 L632.1 1029.2 L633.6 1029.2 L635.1 1029.2 L636.6 1029.2 L638.1 1029.2 L639.5 1029.2 L641 1029.2 L642.5 1029.2 L644 1029.2 L645.5 1029.2 L647 1029.2 L648.5 1029.2 L649.9 1029.2 L651.4 1029.2 L652.9 1029.2 L654.4 1029.2 L655.9 1029.2 L657.4 1029.2 L658.8 1029.2 L660.3 1029.2 L661.8 1029.2 L663.3 1029.2 L664.8 1029.2 L666.3 1029.2 L667.7 1029.2 L669.2 1029.2 L670.7 1029.2 L672.2 1029.2 L673.7 1029.2 L675.2 1029.2 L676.6 1029.2 L678.1 1029.2 L679.6 1029.2 L681.1 1029.2 L682.6 1029.2 L684.1 1029.2 L685.5 1029.2 L687 1029.2 L688.5 1029.2 L690 1029.2" fill="none" stroke="#3a1a1a" stroke-width="1.3"/><path d="M188.7 631.7H255" stroke="#000" stroke-width="3.5"/><path d="M188.7 668.1H255" stroke="#ff4545" stroke-width="3.5"/><rect x="189.6" y="687.1" width="63.2" height="31.5" fill="#ff7070" stroke="#b0504f" stroke-width="1.3"/><text x="262.6" y="642" font-size="28.5" font-weight="bold" text-anchor="start">MAP</text><text x="262.6" y="677.9" font-size="28.5" font-weight="bold" text-anchor="start">Mean</text><text x="262.6" y="713.2" font-size="28.5" font-weight="bold" text-anchor="start">CI</text><rect x="838.5" y="595.7" width="538.9" height="433.7" fill="none" stroke="#000" stroke-width="3.4"/><path d="M946.3 1029.4v-8.5M1054.1 1029.4v-8.5M1161.8 1029.4v-8.5M1269.6 1029.4v-8.5M892.4 1029.4v-5M1000.2 1029.4v-5M1108 1029.4v-5M1215.7 1029.4v-5M1323.5 1029.4v-5" stroke="#000" stroke-width="3.3" fill="none"/><text transform="translate(838.5 1059.6) scale(1 1.120)" font-size="25.5" font-weight="normal" text-anchor="middle">-6</text><text transform="translate(946.3 1059.6) scale(1 1.120)" font-size="25.5" font-weight="normal" text-anchor="middle">-4</text><text transform="translate(1054.1 1059.6) scale(1 1.120)" font-size="25.5" font-weight="normal" text-anchor="middle">-2</text><text transform="translate(1161.8 1059.6) scale(1 1.120)" font-size="25.5" font-weight="normal" text-anchor="middle">0</text><text transform="translate(1269.6 1059.6) scale(1 1.120)" font-size="25.5" font-weight="normal" text-anchor="middle">2</text><text transform="translate(1377.4 1059.6) scale(1 1.120)" font-size="25.5" font-weight="normal" text-anchor="middle">4</text><path d="M838.5 1029.4h8.5M838.5 975.2h8.5M838.5 921h8.5M838.5 866.8h8.5M838.5 812.6h8.5M838.5 758.3h8.5M838.5 704.1h8.5M838.5 649.9h8.5M838.5 595.7h8.5M838.5 1002.3h5M838.5 948.1h5M838.5 893.9h5M838.5 839.7h5M838.5 785.4h5M838.5 731.2h5M838.5 677h5M838.5 622.8h5" stroke="#000" stroke-width="3.3" fill="none"/><text transform="translate(828.8 1037) scale(1 1.120)" font-size="25.5" font-weight="normal" text-anchor="end">0</text><text transform="translate(828.8 982.8) scale(1 1.120)" font-size="25.5" font-weight="normal" text-anchor="end">50</text><text transform="translate(828.8 928.6) scale(1 1.120)" font-size="25.5" font-weight="normal" text-anchor="end">100</text><text transform="translate(828.8 874.4) scale(1 1.120)" font-size="25.5" font-weight="normal" text-anchor="end">150</text><text transform="translate(828.8 820.2) scale(1 1.120)" font-size="25.5" font-weight="normal" text-anchor="end">200</text><text transform="translate(828.8 765.9) scale(1 1.120)" font-size="25.5" font-weight="normal" text-anchor="end">250</text><text transform="translate(828.8 711.7) scale(1 1.120)" font-size="25.5" font-weight="normal" text-anchor="end">300</text><text transform="translate(828.8 657.5) scale(1 1.120)" font-size="25.5" font-weight="normal" text-anchor="end">350</text><text transform="translate(828.8 603.3) scale(1 1.120)" font-size="25.5" font-weight="normal" text-anchor="end">400</text><text x="1116.6" y="1093.2" font-size="34" font-weight="bold" text-anchor="middle" letter-spacing="0.8">lg(<tspan font-style="italic">&#964;</tspan>/s)</text><text transform="translate(776.5 809.8) rotate(-90)" font-size="33.5" font-weight="bold" text-anchor="middle" letter-spacing="1.3"><tspan font-style="italic">&#947;</tspan>(<tspan font-style="italic">&#964;</tspan>)/&#937;</text><path d="M1271.4 835L1271.5 837L1271.6 839L1271.7 840.8L1271.8 842.7L1271.9 844.5L1272 846.3L1272.1 848.1L1272.1 850.1L1272.2 852L1272.3 854.1L1272.4 856.4L1272.5 858.7L1272.6 861.3L1272.7 864L1272.7 865.4L1272.8 867L1272.8 868.8L1272.9 870.7L1272.9 872.6L1273 874.7L1273 876.8L1273.1 879L1273.1 881.2L1273.1 883.5L1273.2 885.7L1273.2 887.9L1273.3 890.1L1273.3 892.3L1273.4 894.3L1273.4 896.3L1273.5 898.2L1273.5 900L1273.6 902.3L1273.6 904.5L1273.7 906.7L1273.7 908.8L1273.8 910.9L1273.9 913L1273.9 915L1274 917L1274 918.9L1274.1 920.8L1274.2 922.7L1274.2 924.6L1274.3 926.4L1274.3 928.2L1274.4 930L1274.5 932.3L1274.6 934.5L1274.6 936.7L1274.7 939L1274.8 941.1L1274.9 943.3L1274.9 945.5L1275 947.5L1275.1 949.6L1275.2 951.6L1275.2 953.6L1275.3 955.5L1275.4 957.3L1275.5 959.1L1275.5 960.8L1275.6 962.4L1275.7 964L1275.8 966.5L1276 969L1276.1 971.3L1276.2 973.6L1276.3 975.9L1276.5 978L1276.6 980.1L1276.7 982.1L1276.9 984L1277 985.8L1277.1 987.5L1277.2 989.1L1277.4 990.6L1277.5 992L1277.8 994.8L1278 997.5L1278.3 1000.1L1278.6 1002.5L1278.8 1004.9L1279.1 1007.1L1279.4 1009.2L1279.7 1011.1L1279.9 1012.9L1280.2 1014.5L1280.5 1015.9L1280.7 1017L1281 1018L1282.1 1021.3L1283.2 1024L1284.3 1026.2L1285.4 1027.7L1286.5 1028.4L1287.8 1028.7L1289.1 1028.9L1290.4 1029.1L1291.7 1029.2L1293 1029.2L1294.5 1029.2L1296 1029.2L1297.4 1029.2L1298.9 1029.2L1300.4 1029.2L1301.9 1029.2L1303.4 1029.2L1304.8 1029.2L1306.3 1029.2L1307.8 1029.2L1309.3 1029.2L1310.8 1029.2L1312.2 1029.2L1313.7 1029.2L1315.2 1029.2L1316.7 1029.2L1318.2 1029.2L1319.6 1029.2L1321.1 1029.2L1322.6 1029.2L1324.1 1029.2L1325.6 1029.2L1327 1029.2L1328.5 1029.2L1330 1029.2" fill="none" stroke="#e01010" stroke-width="2"/><path d="M1155 1028L1156.4 1027.3L1157.8 1026.6L1159.2 1025.9L1160.6 1025L1162 1024L1163.5 1022.3L1165 1019.9L1166.5 1017.3L1168 1015L1169.4 1013.1L1170.8 1011.2L1172.2 1009.4L1173.7 1007.6L1175.1 1005.8L1176.5 1004L1178 1001.8L1179.5 999.3L1181 996.7L1182.5 994.3L1184 992.2L1185.5 990.8L1187 990.3L1188.3 990.6L1189.7 991.6L1191 993.1L1192.3 994.9L1193.6 997.1L1194.9 999.4L1196.3 1001.7L1197.6 1004L1198.5 1005.6L1199.4 1007.5L1200.3 1009.5L1201.2 1011.6L1202.1 1013.8L1203 1016L1203.8 1018.1L1204.5 1020.4L1205.2 1022.5L1206 1024L1207.3 1025.6L1208.7 1026.8L1210 1028" fill="none" stroke="#000" stroke-width="2.2"/><path d="M838 1029.2 L839.5 1029.2 L840.9 1029.2 L842.4 1029.2 L843.9 1029.2 L845.3 1029.2 L846.8 1029.2 L848.3 1029.2 L849.8 1029.2 L851.2 1029.2 L852.7 1029.2 L854.2 1029.2 L855.6 1029.2 L857.1 1029.2 L858.6 1029.2 L860 1029.2 L861.5 1029.2 L863 1029.2 L864.4 1029.2 L865.9 1029.2 L867.4 1029.2 L868.8 1029.2 L870.3 1029.2 L871.8 1029.2 L873.2 1029.2 L874.7 1029.2 L876.2 1029.2 L877.7 1029.2 L879.1 1029.2 L880.6 1029.2 L882.1 1029.2 L883.5 1029.2 L885 1029.2 L886.3 1029.1 L887.6 1028.8 L888.8 1028.4 L890.1 1027.8 L891.4 1027.1 L892.6 1025.5 L893.8 1023.1 L895 1021 L896.3 1019.4 L897.6 1018.1 L898.9 1017.3 L900.4 1016.7 L901.9 1016.3 L903.4 1015.9 L904.9 1015.7 L906.4 1015.6 L907.9 1015.6 L909.4 1015.6 L910.9 1015.6 L912.4 1015.6 L913.9 1015.6 L915.4 1015.6 L916.9 1015.6 L918.4 1015.6 L919.8 1015.6 L921.3 1015.6 L922.8 1015.6 L924.3 1015.6 L925.8 1015.6 L927.3 1015.6 L928.8 1015.6 L930.3 1015.6 L931.8 1015.6 L933.3 1015.6 L934.8 1015.6 L936.3 1015.5 L937.8 1015.5 L939.3 1015.4 L940.8 1015.3 L942.3 1015.1 L943.8 1015 L945.3 1014.8 L946.8 1014.6 L948.3 1014.4 L949.8 1014.2 L951.3 1014 L952.8 1013.7 L954.3 1013.5 L955.8 1013.2 L957.3 1012.8 L958.8 1012.2 L960.3 1011.5 L961.8 1011 L963.3 1010.6 L964.8 1010.4 L966.3 1010.2 L967.8 1010 L969.3 1009.9 L970.8 1009.8 L972.3 1009.7 L973.8 1009.6 L975.3 1009.6 L976.6 1009.8 L978 1010.2 L979.3 1010.8 L980.7 1011.2 L982 1011.4 L983.4 1010.9 L984.8 1009.5 L986.1 1007.8 L987.5 1006.1 L988.9 1004.7 L990.3 1004.2 L991.8 1004.7 L993.3 1005.6 L994.8 1006.1 L996.3 1005.8 L997.8 1005 L999.2 1004 L1000.7 1003 L1002.2 1002.1 L1003.7 1001.6 L1005.2 1001.4 L1006.7 1001.3 L1008.2 1001.2 L1009.7 1001.1 L1011.2 1001 L1012.7 1000.9 L1014.2 1000.8 L1015.7 1000.6 L1017.2 1000.1 L1018.7 999.3 L1020.2 998.5 L1021.7 998.2 L1023.2 998.2 L1024.7 998.2 L1026.2 998.2 L1027.7 998.2 L1029.2 998.2 L1030.7 998.3 L1032.2 998.3 L1033.7 998.3 L1035.2 998.3 L1036.7 998.4 L1038.2 998.4 L1039.7 998.5 L1041.2 998.5 L1042.7 998.6 L1044.2 999.2 L1045.7 1000.5 L1047.2 1002 L1048.7 1003.1 L1050.2 1003.7 L1051.7 1004.3 L1053.2 1004.7 L1054.7 1005.1 L1056.1 1005.5 L1057.6 1005.9 L1059.1 1006.4 L1060.6 1006.9 L1062.1 1007.6 L1063.6 1008.4 L1065.1 1009.2 L1066.6 1010 L1068.1 1010.8 L1069.6 1011.4 L1071.1 1011.9 L1072.6 1012.4 L1074.1 1012.9 L1075.6 1013.4 L1077.1 1013.8 L1078.6 1014.2 L1080.1 1014.5 L1081.6 1014.8 L1083.1 1015.1 L1084.5 1015.3 L1085.9 1015.6 L1087.3 1015.8 L1088.7 1016.1 L1090.1 1016.3 L1091.5 1016.5 L1093 1016.7 L1094.4 1016.9 L1095.8 1017 L1097.2 1017.1 L1098.6 1017.2 L1100 1017.2 L1101.4 1017.2 L1102.8 1017.2 L1104.3 1017.2 L1105.7 1017.1 L1107.1 1017.1 L1108.5 1017 L1110 1017 L1111.4 1016.9 L1112.8 1016.8 L1114.2 1016.8 L1115.7 1016.7 L1117.1 1016.6 L1118.5 1016.5 L1120 1016.3 L1121.4 1016.1 L1122.8 1015.9 L1124.2 1015.6 L1125.7 1015.2 L1127.1 1014.9 L1128.5 1014.5 L1129.9 1014.2 L1131.4 1013.8 L1132.8 1013.4 L1134.2 1013 L1135.6 1012.6 L1137 1012.2 L1138.4 1011.8 L1139.8 1011.3 L1141.2 1010.8 L1142.7 1010.3 L1144.1 1009.7 L1145.5 1009.1 L1146.9 1008.5 L1148.3 1007.8 L1149.7 1007.1 L1151.1 1006.3 L1152.5 1005.5 L1154 1004.5 L1155.4 1003.4 L1156.9 1002.1 L1158.3 1000.6 L1159.8 999 L1161.2 997.2 L1162.7 995.3 L1164.1 993.2 L1165.6 991 L1166.4 989.6 L1167.2 987.9 L1168 986 L1168.8 983.9 L1169.6 981.7 L1170.4 979.4 L1171.3 977 L1172.1 974.6 L1172.9 972.2 L1173.7 969.8 L1174.5 967.6 L1175.3 965.5 L1176.1 963.5 L1177.1 961.1 L1178.1 958.5 L1179.1 955.7 L1180.1 953 L1181 950.4 L1182 948.1 L1183 946.1 L1184 944.5 L1185 943.5 L1186 943.1 L1187.4 943.5 L1188.8 944.6 L1190.2 946.3 L1191.7 948.3 L1193.1 950.6 L1194.5 953 L1195.2 954.4 L1195.9 956 L1196.7 957.9 L1197.4 959.9 L1198.1 962.1 L1198.8 964.4 L1199.5 966.8 L1200.2 969 L1201 971.3 L1201.7 973.4 L1202.4 975.3 L1203.3 977.8 L1204.3 980.6 L1205.2 983.4 L1206.2 986.3 L1207.1 989.1 L1208.1 991.7 L1209 994.1 L1210 996.1 L1210.9 997.6 L1211.9 998.6 L1212.8 999 L1214 998.4 L1215.3 996.9 L1216.5 995 L1217.1 993.9 L1217.7 992.5 L1218.3 990.8 L1218.8 988.9 L1219.4 986.6 L1220 984.1 L1220.6 981.3 L1221.2 978.2 L1221.4 977 L1221.6 975.5 L1221.8 973.9 L1222 972 L1222.2 970 L1222.4 967.9 L1222.6 965.7 L1222.8 963.5 L1223 961.2 L1223.2 958.9 L1223.4 956.6 L1223.6 954.3 L1223.8 952.2 L1224 950.1 L1224.2 948.1 L1224.4 946.2 L1224.6 944.3 L1224.8 942.4 L1225 940.6 L1225.2 938.7 L1225.4 936.8 L1225.6 934.9 L1225.8 932.9 L1226 930.9 L1226.2 928.8 L1226.4 926.7 L1226.6 924.4 L1226.8 922 L1226.9 920.3 L1227.1 918.5 L1227.2 916.6 L1227.3 914.7 L1227.5 912.7 L1227.6 910.6 L1227.7 908.4 L1227.9 906.3 L1228 904.1 L1228.1 901.9 L1228.3 899.6 L1228.4 897.4 L1228.5 895.2 L1228.7 893.1 L1228.8 891 L1228.9 888.9 L1229.1 886.9 L1229.2 885 L1229.4 882.8 L1229.5 880.7 L1229.7 878.7 L1229.8 876.8 L1230 874.8 L1230.2 872.9 L1230.3 870.8 L1230.5 868.7 L1230.6 866.4 L1230.8 864 L1230.9 862.4 L1231 860.6 L1231.1 858.8 L1231.2 856.9 L1231.3 854.9 L1231.4 852.8 L1231.5 850.7 L1231.6 848.6 L1231.7 846.4 L1231.8 844.2 L1231.9 842 L1232 839.9 L1232.1 837.7 L1232.2 835.6 L1232.3 833.5 L1232.4 831.5 L1232.5 829.6 L1232.6 827.8 L1232.7 826 L1232.8 823.7 L1233 821.5 L1233.1 819.3 L1233.2 817.2 L1233.4 815.1 L1233.5 813.1 L1233.7 811.1 L1233.8 809.2 L1233.9 807.3 L1234.1 805.4 L1234.2 803.5 L1234.3 801.6 L1234.5 799.7 L1234.6 797.8 L1234.8 795.9 L1234.9 794 L1235 792 L1235.2 790 L1235.3 788 L1235.4 786 L1235.6 784 L1235.7 781.9 L1235.8 779.8 L1236 777.6 L1236.1 775.5 L1236.2 773.3 L1236.4 771.2 L1236.5 769 L1236.6 766.9 L1236.7 764.8 L1236.9 762.7 L1237 760.7 L1237.1 758.7 L1237.3 756.8 L1237.4 755 L1237.5 753.2 L1237.7 751.6 L1237.8 750 L1238 747.5 L1238.2 745.2 L1238.5 743 L1238.7 740.8 L1238.9 738.8 L1239.1 736.9 L1239.3 735 L1239.6 733.1 L1239.8 731.2 L1240 729.4 L1240.2 727.5 L1240.5 725.5 L1240.7 723.5 L1240.9 721.4 L1241.1 719.4 L1241.3 717.3 L1241.5 715.2 L1241.7 713.1 L1241.9 710.9 L1242.2 708.8 L1242.4 706.6 L1242.6 704.5 L1242.8 702.3 L1243 700.2 L1243.2 698.1 L1243.4 696 L1243.6 693.8 L1243.8 691.7 L1244.1 689.5 L1244.3 687.3 L1244.5 685.2 L1244.7 683 L1244.9 680.9 L1245.1 678.8 L1245.3 676.7 L1245.6 674.7 L1245.8 672.7 L1246 670.7 L1246.3 668.4 L1246.5 666 L1246.8 663.6 L1247 661.1 L1247.3 658.8 L1247.5 656.4 L1247.8 654.2 L1248.1 652.1 L1248.3 650.1 L1248.6 648.3 L1248.8 646.7 L1249.1 645.3 L1249.8 641.9 L1250.5 638.7 L1251.2 635.8 L1251.8 633.5 L1252.5 632 L1253.2 631.4 L1254 631.9 L1254.8 633.3 L1255.6 635.5 L1256.4 638.3 L1257.2 641.6 L1258 645.3 L1258.2 646.5 L1258.4 648 L1258.6 649.8 L1258.8 651.8 L1259 654 L1259.2 656.4 L1259.5 658.8 L1259.7 661.3 L1259.9 663.8 L1260.1 666.2 L1260.3 668.5 L1260.5 670.7 L1260.7 672.8 L1260.9 674.9 L1261.2 676.9 L1261.4 678.9 L1261.6 680.9 L1261.8 682.9 L1262 684.9 L1262.2 687 L1262.4 689.1 L1262.7 691.3 L1262.9 693.6 L1263.1 696 L1263.3 697.9 L1263.4 699.8 L1263.6 701.9 L1263.7 704 L1263.9 706.2 L1264 708.4 L1264.2 710.6 L1264.4 712.9 L1264.5 715.1 L1264.7 717.2 L1264.8 719.4 L1265 721.4 L1265.2 723.5 L1265.3 725.6 L1265.5 727.5 L1265.7 729.5 L1265.9 731.4 L1266 733.3 L1266.2 735.2 L1266.4 737.1 L1266.5 739 L1266.7 741 L1266.9 743.1 L1267.1 745.3 L1267.2 747.6 L1267.4 750 L1267.5 751.6 L1267.6 753.2 L1267.7 754.9 L1267.8 756.6 L1268 758.3 L1268.1 760.1 L1268.2 761.9 L1268.3 763.7 L1268.4 765.6 L1268.5 767.6 L1268.6 769.6 L1268.7 771.6 L1268.8 773.8 L1268.9 776 L1269.1 778.2 L1269.2 780.5 L1269.3 782.9 L1269.4 785.4 L1269.5 788 L1269.6 789.5 L1269.6 791.2 L1269.7 792.9 L1269.8 794.8 L1269.8 796.7 L1269.9 798.7 L1269.9 800.7 L1270 802.8 L1270.1 804.9 L1270.1 807.1 L1270.2 809.2 L1270.3 811.4 L1270.3 813.6 L1270.4 815.7 L1270.4 817.9 L1270.5 820 L1270.6 822 L1270.6 824 L1270.7 826 L1270.8 828 L1270.8 830 L1270.9 832 L1271 833.9 L1271 835.8 L1271.1 837.6 L1271.2 839.5 L1271.2 841.3 L1271.3 843.2 L1271.4 845 L1271.5 846.9 L1271.5 848.8 L1271.6 850.8 L1271.7 852.8 L1271.7 854.9 L1271.8 857 L1271.9 859.3 L1271.9 861.6 L1272 864 L1272 865.7 L1272.1 867.4 L1272.1 869.2 L1272.2 871.2 L1272.2 873.1 L1272.3 875.2 L1272.3 877.3 L1272.4 879.4 L1272.4 881.5 L1272.4 883.7 L1272.5 885.8 L1272.5 888 L1272.6 890.1 L1272.6 892.2 L1272.7 894.2 L1272.7 896.2 L1272.8 898.1 L1272.8 900 L1272.9 902.2 L1272.9 904.3 L1273 906.5 L1273 908.6 L1273.1 910.7 L1273.1 912.8 L1273.2 914.8 L1273.2 916.8 L1273.3 918.8 L1273.3 920.8 L1273.4 922.7 L1273.4 924.6 L1273.5 926.4 L1273.5 928.2 L1273.6 930 L1273.7 932.3 L1273.7 934.6 L1273.8 936.9 L1273.9 939.1 L1274 941.4 L1274 943.6 L1274.1 945.8 L1274.2 947.9 L1274.2 950 L1274.3 952 L1274.4 954 L1274.4 955.9 L1274.5 957.7 L1274.6 959.5 L1274.7 961.1 L1274.7 962.7 L1274.8 964.2 L1274.9 967 L1275.1 969.6 L1275.2 972.2 L1275.4 974.6 L1275.5 976.9 L1275.6 979.2 L1275.8 981.3 L1275.9 983.3 L1276 985.2 L1276.2 987.1 L1276.3 988.8 L1276.5 990.4 L1276.6 992 L1276.8 994.7 L1277.1 997.3 L1277.3 999.9 L1277.6 1002.3 L1277.8 1004.7 L1278.1 1006.9 L1278.3 1009.1 L1278.6 1011 L1278.8 1012.8 L1279.1 1014.4 L1279.3 1015.8 L1279.6 1017 L1279.8 1018 L1280.8 1021.4 L1281.9 1024.2 L1282.9 1026.4 L1284 1028 L1285 1028.6 L1286.4 1028.8 L1287.8 1029 L1289.2 1029.1 L1290.6 1029.2 L1292 1029.2 L1293.5 1029.2 L1295 1029.2 L1296.5 1029.2 L1298 1029.2 L1299.5 1029.2 L1300.9 1029.2 L1302.4 1029.2 L1303.9 1029.2 L1305.4 1029.2 L1306.9 1029.2 L1308.4 1029.2 L1309.9 1029.2 L1311.4 1029.2 L1312.9 1029.2 L1314.4 1029.2 L1315.9 1029.2 L1317.4 1029.2 L1318.8 1029.2 L1320.3 1029.2 L1321.8 1029.2 L1323.3 1029.2 L1324.8 1029.2 L1326.3 1029.2 L1327.8 1029.2 L1329.3 1029.2 L1330.8 1029.2 L1332.3 1029.2 L1333.8 1029.2 L1335.2 1029.2 L1336.7 1029.2 L1338.2 1029.2 L1339.7 1029.2 L1341.2 1029.2 L1342.7 1029.2 L1344.2 1029.2 L1345.7 1029.2 L1347.2 1029.2 L1348.7 1029.2 L1350.2 1029.2 L1351.6 1029.2 L1353.1 1029.2 L1354.6 1029.2 L1356.1 1029.2 L1357.6 1029.2 L1359.1 1029.2 L1360.6 1029.2 L1362.1 1029.2 L1363.6 1029.2 L1365.1 1029.2 L1366.6 1029.2 L1368.1 1029.2 L1369.5 1029.2 L1371 1029.2 L1372.5 1029.2 L1374 1029.2 L1375.5 1029.2 L1377 1029.2L1377 1029.2L1375.5 1029.2L1374 1029.2L1372.5 1029.2L1371 1029.2L1369.5 1029.2L1368 1029.2L1366.5 1029.2L1365 1029.2L1363.5 1029.2L1362 1029.2L1360.5 1029.2L1359 1029.2L1357.5 1029.2L1356 1029.2L1354.5 1029.2L1353 1029.2L1351.5 1029.2L1350 1029.2L1348.5 1029.2L1347 1029.2L1345.5 1029.2L1344 1029.2L1342.5 1029.2L1341 1029.2L1339.5 1029.2L1338 1029.2L1336.5 1029.2L1335 1029.2L1333.5 1029.2L1332 1029.2L1330.5 1029.2L1329 1029.2L1327.5 1029.2L1326 1029.2L1324.5 1029.2L1323 1029.2L1321.5 1029.2L1320 1029.2L1318.5 1029.2L1317 1029.2L1315.5 1029.2L1314 1029.2L1312.5 1029.2L1311 1029.2L1309.5 1029.2L1308 1029.2L1306.5 1029.2L1305 1029.2L1303.5 1029.2L1302 1029.2L1300.5 1029.2L1299 1029.2L1297.5 1029.2L1296 1029.2L1294.5 1029.2L1293 1029.2L1291.5 1029.2L1290 1029.2L1288.5 1029.2L1287 1029.2L1285.6 1028.9L1284.3 1028.3L1282.9 1027.3L1281.8 1026L1280.7 1024L1279.6 1021.1L1278.5 1017.4L1278.3 1016.3L1278 1015L1277.8 1013.4L1277.5 1011.6L1277.3 1009.5L1277 1007.3L1276.8 1005L1276.6 1002.5L1276.3 1000L1276.1 997.4L1275.8 994.8L1275.6 992.2L1275.4 990.5L1275.3 988.8L1275.1 987L1275 985L1274.8 983L1274.7 981L1274.5 978.9L1274.4 976.8L1274.2 974.7L1274.1 972.5L1274 970.4L1273.8 968.3L1273.7 966.2L1273.5 964.2L1273.3 962.2L1273.2 960.1L1273 958.1L1272.9 956L1272.8 953.9L1272.6 951.9L1272.5 949.8L1272.3 947.7L1272.2 945.7L1272 943.7L1271.9 941.7L1271.7 939.8L1271.6 937.9L1271.4 936L1271.2 933.8L1271 931.6L1270.9 929.3L1270.7 927.1L1270.5 924.9L1270.3 922.7L1270.2 920.6L1270 918.5L1269.8 916.5L1269.6 914.6L1269.4 912.7L1269.3 911L1269.1 909.4L1268.9 908L1268.5 905.3L1268.2 902.9L1267.8 900.7L1267.4 898.6L1267 896.7L1266.7 894.9L1266.3 893.1L1265.9 891.3L1265.5 889.3L1265.2 887.3L1264.8 885L1264.5 883.1L1264.2 881L1263.9 878.8L1263.6 876.6L1263.3 874.4L1263.1 872.1L1262.8 869.9L1262.5 867.8L1262.2 865.8L1261.9 864L1261.5 861.5L1261.1 859L1260.6 856.7L1260.2 854.4L1259.8 852.2L1259.4 850.1L1258.9 848.2L1258.5 846.5L1258.1 845L1257.2 842.1L1256.4 839.2L1255.5 836.6L1254.7 834.4L1253.8 832.9L1253 832.4L1252.3 832.9L1251.5 834.4L1250.8 836.5L1250.1 839.2L1249.3 842.1L1248.6 845L1248.2 846.5L1247.9 848.1L1247.5 850L1247.2 852L1246.8 854.1L1246.5 856.4L1246.1 858.8L1245.8 861.3L1245.4 864L1245.2 865.6L1245 867.4L1244.8 869.3L1244.6 871.2L1244.4 873.3L1244.2 875.5L1244 877.7L1243.8 880L1243.6 882.2L1243.4 884.5L1243.2 886.8L1243 889L1242.8 890.9L1242.7 892.9L1242.5 894.9L1242.3 897L1242.1 899L1242 901.1L1241.8 903.2L1241.6 905.3L1241.4 907.3L1241.2 909.5L1241.1 911.6L1240.9 913.7L1240.7 915.8L1240.5 917.9L1240.4 919.9L1240.2 922L1240 924L1239.9 926.1L1239.7 928.2L1239.5 930.3L1239.3 932.4L1239.2 934.5L1239 936.6L1238.8 938.7L1238.7 940.8L1238.5 942.9L1238.3 945L1238.1 947.1L1238 949.2L1237.8 951.2L1237.6 953.2L1237.5 955.1L1237.3 957L1237.1 958.9L1236.9 960.7L1236.8 962.5L1236.6 964.2L1236.4 966.6L1236.1 969L1235.9 971.4L1235.6 973.7L1235.4 976.1L1235.1 978.3L1234.9 980.6L1234.6 982.8L1234.4 984.9L1234.1 987L1233.9 989L1233.6 990.9L1233.4 992.7L1233.1 994.5L1232.9 996.2L1232.6 997.7L1232.4 999.2L1231.9 1002.1L1231.4 1005L1230.9 1007.7L1230.4 1010.4L1229.9 1012.9L1229.3 1015.2L1228.8 1017.3L1228.3 1019.2L1227.8 1020.8L1227.3 1022.1L1226.8 1023.1L1225.4 1025L1224 1026.3L1222.6 1027.3L1221.4 1028.2L1220.2 1028.9L1219 1029.2L1217.5 1029.2L1216 1029.2L1214.5 1029.2L1213 1029.2L1211.5 1029.2L1210 1029.2L1208.5 1029.2L1207 1029.2L1205.5 1029.2L1204 1029.2L1202.5 1029.2L1201 1029.2L1199.5 1029.2L1198 1029.2L1196.5 1029.2L1195 1029.2L1193.5 1029.2L1192 1029.2L1190.5 1029.2L1189 1029.2L1187.5 1029.2L1186 1029.2L1184.5 1029.2L1183 1029.2L1181.5 1029.2L1180 1029.2L1178.5 1029.2L1177 1029.2L1175.5 1029.2L1174 1029.2L1172.5 1029.2L1171 1029.2L1169.5 1029.2L1168 1029.2L1166.5 1029.2L1165 1029.2L1163.5 1029.2L1162 1029.2L1160.5 1029.2L1159 1029.2L1157.5 1029.2L1156 1029.2L1154.5 1029.2L1153 1029.2L1151.5 1029.2L1150 1029.2L1148.5 1029.2L1147 1029.2L1145.5 1029.2L1144 1029.2L1142.5 1029.2L1141 1029.2L1139.5 1029.2L1138 1029.2L1136.5 1029.2L1135 1029.2L1133.5 1029.2L1132 1029.2L1130.5 1029.2L1129 1029.2L1127.5 1029.2L1126 1029.2L1124.5 1029.2L1123 1029.2L1121.5 1029.2L1120 1029.2L1118.5 1029.2L1117 1029.2L1115.5 1029.2L1114 1029.2L1112.5 1029.2L1111 1029.2L1109.5 1029.2L1108 1029.2L1106.5 1029.2L1105 1029.2L1103.5 1029.2L1102 1029.2L1100.5 1029.2L1099 1029.2L1097.5 1029.2L1096 1029.2L1094.5 1029.2L1093 1029.2L1091.5 1029.2L1090 1029.2L1088.5 1029.2L1087 1029.2L1085.5 1029.2L1084 1029.2L1082.5 1029.2L1081 1029.2L1079.5 1029.2L1078 1029.2L1076.5 1029.2L1075 1029.2L1073.5 1029.2L1072 1029.2L1070.5 1029.2L1069 1029.2L1067.5 1029.2L1066 1029.2L1064.5 1029.2L1063 1029.2L1061.5 1029.2L1060 1029.2L1058.5 1029.2L1057 1029.2L1055.5 1029.2L1054 1029.2L1052.5 1029.2L1051 1029.2L1049.5 1029.2L1048 1029.2L1046.5 1029.2L1045 1029.2L1043.5 1029.2L1042 1029.2L1040.5 1029.2L1039 1029.2L1037.5 1029.2L1036 1029.2L1034.5 1029.2L1033 1029.2L1031.5 1029.2L1030 1029.2L1028.5 1029.2L1027 1029.2L1025.5 1029.2L1024 1029.2L1022.5 1029.2L1021 1029.2L1019.5 1029.2L1018 1029.2L1016.5 1029.2L1015 1029.2L1013.5 1029.2L1012 1029.2L1010.5 1029.2L1009 1029.2L1007.5 1029.2L1006 1029.2L1004.5 1029.2L1003 1029.2L1001.5 1029.2L1000 1029.2L998.5 1029.2L997 1029.2L995.5 1029.2L994 1029.2L992.5 1029.2L991 1029.2L989.5 1029.2L988 1029.2L986.5 1029.2L985 1029.2L983.5 1029.2L982 1029.2L980.5 1029.2L979 1029.2L977.5 1029.2L976 1029.2L974.5 1029.2L973 1029.2L971.5 1029.2L970 1029.2L968.5 1029.2L967 1029.2L965.5 1029.2L964 1029.2L962.5 1029.2L961 1029.2L959.5 1029.2L958 1029.2L956.5 1029.2L955 1029.2L953.5 1029.2L952 1029.2L950.5 1029.2L949 1029.2L947.5 1029.2L946 1029.2L944.5 1029.2L943 1029.2L941.5 1029.2L940 1029.2L938.5 1029.2L937 1029.2L935.5 1029.2L934 1029.2L932.5 1029.2L931 1029.2L929.5 1029.2L928 1029.2L926.5 1029.2L925 1029.2L923.5 1029.2L922 1029.2L920.5 1029.2L919 1029.2L917.5 1029.2L916 1029.2L914.5 1029.2L913 1029.2L911.5 1029.2L910 1029.2L908.5 1029.2L907 1029.2L905.5 1029.2L904 1029.2L902.5 1029.2L901 1029.2L899.5 1029.2L898 1029.2L896.5 1029.2L895 1029.2L893.5 1029.2L892 1029.2L890.5 1029.2L889 1029.2L887.5 1029.2L886 1029.2L884.5 1029.2L883 1029.2L881.5 1029.2L880 1029.2L878.5 1029.2L877 1029.2L875.5 1029.2L874 1029.2L872.5 1029.2L871 1029.2L869.5 1029.2L868 1029.2L866.5 1029.2L865 1029.2L863.5 1029.2L862 1029.2L860.5 1029.2L859 1029.2L857.5 1029.2L856 1029.2L854.5 1029.2L853 1029.2L851.5 1029.2L850 1029.2L848.5 1029.2L847 1029.2L845.5 1029.2L844 1029.2L842.5 1029.2L841 1029.2L839.5 1029.2L838 1029.2Z" fill="#2882c8" fill-opacity="0.6" stroke="none"/><path d="M893 1026.5L894 1025.3L895 1024.5L896.5 1024.4L897.9 1024.3L899.4 1024.2L900.8 1024.1L902.3 1024L903.8 1024L905.2 1023.9L906.7 1023.9L908.1 1023.8L909.6 1023.8L911 1023.7L912.5 1023.7L914 1023.7L915.4 1023.6L916.9 1023.6L918.3 1023.6L919.8 1023.6L921.2 1023.6L922.7 1023.6L924.2 1023.5L925.6 1023.5L927.1 1023.5L928.5 1023.5L930 1023.5L931.5 1023.5L932.9 1023.5L934.4 1023.5L935.9 1023.5L937.4 1023.5L938.8 1023.5L940.3 1023.4L941.8 1023.4L943.2 1023.4L944.7 1023.4L946.2 1023.4L947.6 1023.4L949.1 1023.4L950.6 1023.4L952.1 1023.4L953.5 1023.4L955 1023.4L956.5 1023.4L957.9 1023.4L959.4 1023.4L960.9 1023.4L962.4 1023.4L963.8 1023.4L965.3 1023.4L966.8 1023.4L968.2 1023.4L969.7 1023.4L971.2 1023.4L972.6 1023.4L974.1 1023.3L975.6 1023.3L977.1 1023.3L978.5 1023.3L980 1023.3L981.4 1023.3L982.9 1023.2L984.3 1023.1L985.7 1022.9L987.1 1022.8L988.6 1022.6L990 1022.4L991.4 1022.3L992.9 1022.1L994.3 1021.9L995.7 1021.8L997.1 1021.6L998.6 1021.6L1000 1021.5L1001.5 1021.5L1003 1021.4L1004.4 1021.4L1005.9 1021.4L1007.4 1021.3L1008.9 1021.3L1010.4 1021.3L1011.9 1021.3L1013.3 1021.2L1014.8 1021.2L1016.3 1021.2L1017.8 1021.2L1019.3 1021.1L1020.7 1021.1L1022.2 1021.1L1023.7 1021.1L1025.2 1021.1L1026.7 1021.1L1028.1 1021L1029.6 1021L1031.1 1021L1032.6 1021L1034.1 1021L1035.6 1021L1037 1021L1038.5 1021L1040 1021L1041.5 1021L1043 1021L1044.5 1021.1L1046 1021.1L1047.5 1021.2L1049 1021.2L1050.5 1021.3L1052 1021.4L1053.5 1021.5L1055 1021.6L1056.5 1021.7L1058 1021.8L1059.5 1021.9L1061 1022L1062.5 1022.1L1064 1022.2L1065.5 1022.3L1067 1022.3L1068.5 1022.4L1070 1022.5L1071.5 1022.6L1073 1022.7L1074.5 1022.7L1076 1022.8L1077.5 1022.9L1079 1023L1080.5 1023.1L1082 1023.2L1083.5 1023.3L1085 1023.4L1086.5 1023.5L1088 1023.5L1089.5 1023.6L1091 1023.7L1092.5 1023.7L1094 1023.8L1095.5 1023.8L1097 1023.9L1098.5 1023.9L1100 1023.9L1101.5 1023.9L1103 1023.9L1104.5 1023.9L1106 1023.9L1107.5 1023.9L1109 1023.8L1110.5 1023.8L1112 1023.8L1113.5 1023.8L1115 1023.7L1116.5 1023.7L1118 1023.6L1119.5 1023.6L1121 1023.5L1122.5 1023.5L1124 1023.4L1125.5 1023.4L1127 1023.3L1128.5 1023.2L1130 1023.2L1131.5 1023.1L1133 1023L1134.5 1022.9L1136 1022.8L1137.5 1022.7L1139 1022.6L1140.5 1022.5L1142 1022.4L1143.5 1022.3L1145 1022.2L1146.5 1022L1148 1021.9L1149.5 1021.8L1151 1021.6L1152.5 1021.5L1154 1021.3L1155.4 1021L1156.9 1020.6L1158.3 1020L1159.8 1019.4L1161.2 1018.8L1162.7 1018.1L1164.1 1017.3L1165.6 1016.5L1166.9 1015.7L1168.2 1014.6L1169.4 1013.4L1170.7 1012.2L1172 1011L1173.5 1009.7L1175 1008.3L1176.5 1007L1178 1005.5L1179.5 1004L1181 1002.1L1182.5 999.7L1184 997.4L1185.5 995.7L1187 995L1188.3 995.4L1189.6 996.5L1191 998.1L1192.3 1000L1193.6 1002L1194.9 1004L1196.1 1005.9L1197.3 1008.2L1198.6 1010.5L1199.8 1012.9L1201 1015L1202.3 1017.4L1203.7 1019.8L1205 1021L1206.4 1021.4L1207.8 1021.6L1209.2 1021.8L1210.6 1022L1212 1022L1213.2 1021.7L1214.4 1021.1L1215.6 1020.3L1216.7 1019.3L1217.9 1017.9L1219 1016L1219.6 1014.6L1220.2 1012.7L1220.9 1010.5L1221.5 1008L1221.9 1006.4L1222.2 1004.5L1222.6 1002.4L1222.9 1000.2L1223.3 997.7L1223.6 995L1224 992.2L1224.2 990.8L1224.3 989.2L1224.5 987.5L1224.7 985.8L1224.8 983.9L1225 981.9L1225.2 979.9L1225.3 977.8L1225.5 975.6L1225.7 973.5L1225.8 971.2L1226 969L1226.2 966.8L1226.3 964.6L1226.5 962.3L1226.7 960.2L1226.8 958L1227 955.9L1227.2 953.9L1227.3 952L1227.5 950.1L1227.7 947.9L1227.9 945.8L1228.1 943.8L1228.3 941.7L1228.5 939.7L1228.7 937.7L1228.9 935.7L1229.1 933.8L1229.3 931.8L1229.5 929.9L1229.7 927.9L1229.9 926L1230.1 924L1230.3 922L1230.5 919.9L1230.7 917.8L1230.9 915.6L1231.1 913.5L1231.3 911.3L1231.5 909.1L1231.7 906.9L1231.9 904.7L1232.2 902.5L1232.4 900.4L1232.6 898.2L1232.8 896.2L1233 894.1L1233.2 892.2L1233.4 890.3L1233.6 888.4L1233.8 886.7L1234 885L1234.3 882.6L1234.6 880.5L1235 878.5L1235.3 876.6L1235.6 874.8L1235.9 872.9L1236.2 871L1236.6 868.9L1236.9 866.6L1237.2 864L1237.4 862.5L1237.5 861L1237.7 859.3L1237.9 857.5L1238 855.6L1238.2 853.7L1238.3 851.6L1238.5 849.6L1238.7 847.4L1238.8 845.3L1239 843.1L1239.2 840.9L1239.3 838.7L1239.5 836.5L1239.6 834.3L1239.8 832.2L1240 830.1L1240.1 828L1240.3 826L1240.5 824L1240.6 821.9L1240.8 819.8L1241 817.8L1241.1 815.7L1241.3 813.6L1241.5 811.5L1241.6 809.4L1241.8 807.4L1242 805.3L1242.2 803.3L1242.3 801.2L1242.5 799.3L1242.7 797.3L1242.8 795.3L1243 793.5L1243.2 791.6L1243.3 789.8L1243.5 788L1243.7 785.7L1243.9 783.5L1244.2 781.3L1244.4 779.2L1244.6 777.1L1244.8 775L1245 773L1245.3 771L1245.5 769L1245.7 767L1245.9 765.1L1246.2 763.2L1246.4 761.3L1246.6 759.4L1246.9 757L1247.1 754.5L1247.4 752.1L1247.7 749.7L1248 747.6L1248.2 745.7L1248.5 744.2L1249.2 741.1L1249.8 738.2L1250.5 735.6L1251.2 733.4L1251.9 731.7L1252.5 730.6L1253.2 730.2L1253.9 730.6L1254.6 731.7L1255.3 733.4L1255.9 735.6L1256.6 738.2L1257.3 741.1L1258 744.2L1258.3 745.7L1258.5 747.6L1258.8 749.9L1259.1 752.3L1259.4 754.8L1259.6 757.2L1259.9 759.4L1260.2 761.5L1260.5 763.5L1260.7 765.5L1261 767.4L1261.3 769.2L1261.6 771.1L1261.8 773L1262.1 774.9L1262.4 776.9L1262.7 778.9L1263 781L1263.2 783.2L1263.5 785.5L1263.8 788L1264 789.6L1264.1 791.2L1264.3 792.9L1264.5 794.7L1264.6 796.5L1264.8 798.4L1265 800.3L1265.1 802.3L1265.3 804.3L1265.5 806.3L1265.7 808.4L1265.8 810.5L1266 812.7L1266.2 814.9L1266.3 817.1L1266.5 819.3L1266.7 821.5L1266.8 823.7L1267 826L1267.1 827.8L1267.3 829.6L1267.4 831.5L1267.5 833.3L1267.7 835.3L1267.8 837.2L1267.9 839.2L1268.1 841.2L1268.2 843.2L1268.3 845.2L1268.4 847.3L1268.6 849.3L1268.7 851.4L1268.8 853.5L1269 855.6L1269.1 857.7L1269.2 859.8L1269.4 861.9L1269.5 864L1269.6 866L1269.8 867.9L1269.9 869.9L1270 871.9L1270.1 873.8L1270.2 875.8L1270.4 877.9L1270.5 879.9L1270.6 882.1L1270.8 884.3L1270.9 886.6L1271 889L1271.1 890.8L1271.2 892.6L1271.3 894.6L1271.3 896.6L1271.4 898.6L1271.5 900.8L1271.6 902.9L1271.7 905.1L1271.8 907.3L1271.9 909.5L1272 911.7L1272.1 913.8L1272.1 916L1272.2 918L1272.3 920.1L1272.4 922L1272.5 924.2L1272.6 926.4L1272.7 928.5L1272.8 930.7L1272.9 932.9L1273 935L1273.1 937.2L1273.2 939.3L1273.3 941.4L1273.4 943.5L1273.5 945.5L1273.6 947.6L1273.7 949.6L1273.8 951.5L1273.9 953.5L1274 955.4L1274.1 957.2L1274.2 959L1274.3 960.8L1274.4 962.5L1274.5 964.2L1274.7 966.7L1274.8 969.2L1275 971.6L1275.1 974L1275.3 976.3L1275.4 978.5L1275.6 980.7L1275.7 982.8L1275.9 984.8L1276 986.8L1276.2 988.6L1276.3 990.4L1276.5 992L1276.8 994.6L1277 997.3L1277.3 999.9L1277.5 1002.4L1277.8 1004.8L1278 1007.2L1278.3 1009.4L1278.6 1011.5L1278.8 1013.5L1279.1 1015.2L1279.3 1016.8L1279.6 1018.2L1279.8 1019.4L1280.1 1020.3L1281.5 1023.6L1283 1026" fill="none" stroke="#3c5fa6" stroke-width="3.4" stroke-linejoin="round"/><path d="M838 1029.2 L839.5 1029.2 L840.9 1029.2 L842.4 1029.2 L843.9 1029.2 L845.3 1029.2 L846.8 1029.2 L848.3 1029.2 L849.8 1029.2 L851.2 1029.2 L852.7 1029.2 L854.2 1029.2 L855.6 1029.2 L857.1 1029.2 L858.6 1029.2 L860 1029.2 L861.5 1029.2 L863 1029.2 L864.4 1029.2 L865.9 1029.2 L867.4 1029.2 L868.8 1029.2 L870.3 1029.2 L871.8 1029.2 L873.2 1029.2 L874.7 1029.2 L876.2 1029.2 L877.7 1029.2 L879.1 1029.2 L880.6 1029.2 L882.1 1029.2 L883.5 1029.2 L885 1029.2 L886.3 1029.1 L887.6 1028.8 L888.8 1028.4 L890.1 1027.8 L891.4 1027.1 L892.6 1025.5 L893.8 1023.1 L895 1021 L896.3 1019.4 L897.6 1018.1 L898.9 1017.3 L900.4 1016.7 L901.9 1016.3 L903.4 1015.9 L904.9 1015.7 L906.4 1015.6 L907.9 1015.6 L909.4 1015.6 L910.9 1015.6 L912.4 1015.6 L913.9 1015.6 L915.4 1015.6 L916.9 1015.6 L918.4 1015.6 L919.8 1015.6 L921.3 1015.6 L922.8 1015.6 L924.3 1015.6 L925.8 1015.6 L927.3 1015.6 L928.8 1015.6 L930.3 1015.6 L931.8 1015.6 L933.3 1015.6 L934.8 1015.6 L936.3 1015.5 L937.8 1015.5 L939.3 1015.4 L940.8 1015.3 L942.3 1015.1 L943.8 1015 L945.3 1014.8 L946.8 1014.6 L948.3 1014.4 L949.8 1014.2 L951.3 1014 L952.8 1013.7 L954.3 1013.5 L955.8 1013.2 L957.3 1012.8 L958.8 1012.2 L960.3 1011.5 L961.8 1011 L963.3 1010.6 L964.8 1010.4 L966.3 1010.2 L967.8 1010 L969.3 1009.9 L970.8 1009.8 L972.3 1009.7 L973.8 1009.6 L975.3 1009.6 L976.6 1009.8 L978 1010.2 L979.3 1010.8 L980.7 1011.2 L982 1011.4 L983.4 1010.9 L984.8 1009.5 L986.1 1007.8 L987.5 1006.1 L988.9 1004.7 L990.3 1004.2 L991.8 1004.7 L993.3 1005.6 L994.8 1006.1 L996.3 1005.8 L997.8 1005 L999.2 1004 L1000.7 1003 L1002.2 1002.1 L1003.7 1001.6 L1005.2 1001.4 L1006.7 1001.3 L1008.2 1001.2 L1009.7 1001.1 L1011.2 1001 L1012.7 1000.9 L1014.2 1000.8 L1015.7 1000.6 L1017.2 1000.1 L1018.7 999.3 L1020.2 998.5 L1021.7 998.2 L1023.2 998.2 L1024.7 998.2 L1026.2 998.2 L1027.7 998.2 L1029.2 998.2 L1030.7 998.3 L1032.2 998.3 L1033.7 998.3 L1035.2 998.3 L1036.7 998.4 L1038.2 998.4 L1039.7 998.5 L1041.2 998.5 L1042.7 998.6 L1044.2 999.2 L1045.7 1000.5 L1047.2 1002 L1048.7 1003.1 L1050.2 1003.7 L1051.7 1004.3 L1053.2 1004.7 L1054.7 1005.1 L1056.1 1005.5 L1057.6 1005.9 L1059.1 1006.4 L1060.6 1006.9 L1062.1 1007.6 L1063.6 1008.4 L1065.1 1009.2 L1066.6 1010 L1068.1 1010.8 L1069.6 1011.4 L1071.1 1011.9 L1072.6 1012.4 L1074.1 1012.9 L1075.6 1013.4 L1077.1 1013.8 L1078.6 1014.2 L1080.1 1014.5 L1081.6 1014.8 L1083.1 1015.1 L1084.5 1015.3 L1085.9 1015.6 L1087.3 1015.8 L1088.7 1016.1 L1090.1 1016.3 L1091.5 1016.5 L1093 1016.7 L1094.4 1016.9 L1095.8 1017 L1097.2 1017.1 L1098.6 1017.2 L1100 1017.2 L1101.4 1017.2 L1102.8 1017.2 L1104.3 1017.2 L1105.7 1017.1 L1107.1 1017.1 L1108.5 1017 L1110 1017 L1111.4 1016.9 L1112.8 1016.8 L1114.2 1016.8 L1115.7 1016.7 L1117.1 1016.6 L1118.5 1016.5 L1120 1016.3 L1121.4 1016.1 L1122.8 1015.9 L1124.2 1015.6 L1125.7 1015.2 L1127.1 1014.9 L1128.5 1014.5 L1129.9 1014.2 L1131.4 1013.8 L1132.8 1013.4 L1134.2 1013 L1135.6 1012.6 L1137 1012.2 L1138.4 1011.8 L1139.8 1011.3 L1141.2 1010.8 L1142.7 1010.3 L1144.1 1009.7 L1145.5 1009.1 L1146.9 1008.5 L1148.3 1007.8 L1149.7 1007.1 L1151.1 1006.3 L1152.5 1005.5 L1154 1004.5 L1155.4 1003.4 L1156.9 1002.1 L1158.3 1000.6 L1159.8 999 L1161.2 997.2 L1162.7 995.3 L1164.1 993.2 L1165.6 991 L1166.4 989.6 L1167.2 987.9 L1168 986 L1168.8 983.9 L1169.6 981.7 L1170.4 979.4 L1171.3 977 L1172.1 974.6 L1172.9 972.2 L1173.7 969.8 L1174.5 967.6 L1175.3 965.5 L1176.1 963.5 L1177.1 961.1 L1178.1 958.5 L1179.1 955.7 L1180.1 953 L1181 950.4 L1182 948.1 L1183 946.1 L1184 944.5 L1185 943.5 L1186 943.1 L1187.4 943.5 L1188.8 944.6 L1190.2 946.3 L1191.7 948.3 L1193.1 950.6 L1194.5 953 L1195.2 954.4 L1195.9 956 L1196.7 957.9 L1197.4 959.9 L1198.1 962.1 L1198.8 964.4 L1199.5 966.8 L1200.2 969 L1201 971.3 L1201.7 973.4 L1202.4 975.3 L1203.3 977.8 L1204.3 980.6 L1205.2 983.4 L1206.2 986.3 L1207.1 989.1 L1208.1 991.7 L1209 994.1 L1210 996.1 L1210.9 997.6 L1211.9 998.6 L1212.8 999 L1214 998.4 L1215.3 996.9 L1216.5 995 L1217.1 993.9 L1217.7 992.5 L1218.3 990.8 L1218.8 988.9 L1219.4 986.6 L1220 984.1 L1220.6 981.3 L1221.2 978.2 L1221.4 977 L1221.6 975.5 L1221.8 973.9 L1222 972 L1222.2 970 L1222.4 967.9 L1222.6 965.7 L1222.8 963.5 L1223 961.2 L1223.2 958.9 L1223.4 956.6 L1223.6 954.3 L1223.8 952.2 L1224 950.1 L1224.2 948.1 L1224.4 946.2 L1224.6 944.3 L1224.8 942.4 L1225 940.6 L1225.2 938.7 L1225.4 936.8 L1225.6 934.9 L1225.8 932.9 L1226 930.9 L1226.2 928.8 L1226.4 926.7 L1226.6 924.4 L1226.8 922 L1226.9 920.3 L1227.1 918.5 L1227.2 916.6 L1227.3 914.7 L1227.5 912.7 L1227.6 910.6 L1227.7 908.4 L1227.9 906.3 L1228 904.1 L1228.1 901.9 L1228.3 899.6 L1228.4 897.4 L1228.5 895.2 L1228.7 893.1 L1228.8 891 L1228.9 888.9 L1229.1 886.9 L1229.2 885 L1229.4 882.8 L1229.5 880.7 L1229.7 878.7 L1229.8 876.8 L1230 874.8 L1230.2 872.9 L1230.3 870.8 L1230.5 868.7 L1230.6 866.4 L1230.8 864 L1230.9 862.4 L1231 860.6 L1231.1 858.8 L1231.2 856.9 L1231.3 854.9 L1231.4 852.8 L1231.5 850.7 L1231.6 848.6 L1231.7 846.4 L1231.8 844.2 L1231.9 842 L1232 839.9 L1232.1 837.7 L1232.2 835.6 L1232.3 833.5 L1232.4 831.5 L1232.5 829.6 L1232.6 827.8 L1232.7 826 L1232.8 823.7 L1233 821.5 L1233.1 819.3 L1233.2 817.2 L1233.4 815.1 L1233.5 813.1 L1233.7 811.1 L1233.8 809.2 L1233.9 807.3 L1234.1 805.4 L1234.2 803.5 L1234.3 801.6 L1234.5 799.7 L1234.6 797.8 L1234.8 795.9 L1234.9 794 L1235 792 L1235.2 790 L1235.3 788 L1235.4 786 L1235.6 784 L1235.7 781.9 L1235.8 779.8 L1236 777.6 L1236.1 775.5 L1236.2 773.3 L1236.4 771.2 L1236.5 769 L1236.6 766.9 L1236.7 764.8 L1236.9 762.7 L1237 760.7 L1237.1 758.7 L1237.3 756.8 L1237.4 755 L1237.5 753.2 L1237.7 751.6 L1237.8 750 L1238 747.5 L1238.2 745.2 L1238.5 743 L1238.7 740.8 L1238.9 738.8 L1239.1 736.9 L1239.3 735 L1239.6 733.1 L1239.8 731.2 L1240 729.4 L1240.2 727.5 L1240.5 725.5 L1240.7 723.5 L1240.9 721.4 L1241.1 719.4 L1241.3 717.3 L1241.5 715.2 L1241.7 713.1 L1241.9 710.9 L1242.2 708.8 L1242.4 706.6 L1242.6 704.5 L1242.8 702.3 L1243 700.2 L1243.2 698.1 L1243.4 696 L1243.6 693.8 L1243.8 691.7 L1244.1 689.5 L1244.3 687.3 L1244.5 685.2 L1244.7 683 L1244.9 680.9 L1245.1 678.8 L1245.3 676.7 L1245.6 674.7 L1245.8 672.7 L1246 670.7 L1246.3 668.4 L1246.5 666 L1246.8 663.6 L1247 661.1 L1247.3 658.8 L1247.5 656.4 L1247.8 654.2 L1248.1 652.1 L1248.3 650.1 L1248.6 648.3 L1248.8 646.7 L1249.1 645.3 L1249.8 641.9 L1250.5 638.7 L1251.2 635.8 L1251.8 633.5 L1252.5 632 L1253.2 631.4 L1254 631.9 L1254.8 633.3 L1255.6 635.5 L1256.4 638.3 L1257.2 641.6 L1258 645.3 L1258.2 646.5 L1258.4 648 L1258.6 649.8 L1258.8 651.8 L1259 654 L1259.2 656.4 L1259.5 658.8 L1259.7 661.3 L1259.9 663.8 L1260.1 666.2 L1260.3 668.5 L1260.5 670.7 L1260.7 672.8 L1260.9 674.9 L1261.2 676.9 L1261.4 678.9 L1261.6 680.9 L1261.8 682.9 L1262 684.9 L1262.2 687 L1262.4 689.1 L1262.7 691.3 L1262.9 693.6 L1263.1 696 L1263.3 697.9 L1263.4 699.8 L1263.6 701.9 L1263.7 704 L1263.9 706.2 L1264 708.4 L1264.2 710.6 L1264.4 712.9 L1264.5 715.1 L1264.7 717.2 L1264.8 719.4 L1265 721.4 L1265.2 723.5 L1265.3 725.6 L1265.5 727.5 L1265.7 729.5 L1265.9 731.4 L1266 733.3 L1266.2 735.2 L1266.4 737.1 L1266.5 739 L1266.7 741 L1266.9 743.1 L1267.1 745.3 L1267.2 747.6 L1267.4 750 L1267.5 751.6 L1267.6 753.2 L1267.7 754.9 L1267.8 756.6 L1268 758.3 L1268.1 760.1 L1268.2 761.9 L1268.3 763.7 L1268.4 765.6 L1268.5 767.6 L1268.6 769.6 L1268.7 771.6 L1268.8 773.8 L1268.9 776 L1269.1 778.2 L1269.2 780.5 L1269.3 782.9 L1269.4 785.4 L1269.5 788 L1269.6 789.5 L1269.6 791.2 L1269.7 792.9 L1269.8 794.8 L1269.8 796.7 L1269.9 798.7 L1269.9 800.7 L1270 802.8 L1270.1 804.9 L1270.1 807.1 L1270.2 809.2 L1270.3 811.4 L1270.3 813.6 L1270.4 815.7 L1270.4 817.9 L1270.5 820 L1270.6 822 L1270.6 824 L1270.7 826 L1270.8 828 L1270.8 830 L1270.9 832 L1271 833.9 L1271 835.8 L1271.1 837.6 L1271.2 839.5 L1271.2 841.3 L1271.3 843.2 L1271.4 845 L1271.5 846.9 L1271.5 848.8 L1271.6 850.8 L1271.7 852.8 L1271.7 854.9 L1271.8 857 L1271.9 859.3 L1271.9 861.6 L1272 864 L1272 865.7 L1272.1 867.4 L1272.1 869.2 L1272.2 871.2 L1272.2 873.1 L1272.3 875.2 L1272.3 877.3 L1272.4 879.4 L1272.4 881.5 L1272.4 883.7 L1272.5 885.8 L1272.5 888 L1272.6 890.1 L1272.6 892.2 L1272.7 894.2 L1272.7 896.2 L1272.8 898.1 L1272.8 900 L1272.9 902.2 L1272.9 904.3 L1273 906.5 L1273 908.6 L1273.1 910.7 L1273.1 912.8 L1273.2 914.8 L1273.2 916.8 L1273.3 918.8 L1273.3 920.8 L1273.4 922.7 L1273.4 924.6 L1273.5 926.4 L1273.5 928.2 L1273.6 930 L1273.7 932.3 L1273.7 934.6 L1273.8 936.9 L1273.9 939.1 L1274 941.4 L1274 943.6 L1274.1 945.8 L1274.2 947.9 L1274.2 950 L1274.3 952 L1274.4 954 L1274.4 955.9 L1274.5 957.7 L1274.6 959.5 L1274.7 961.1 L1274.7 962.7 L1274.8 964.2 L1274.9 967 L1275.1 969.6 L1275.2 972.2 L1275.4 974.6 L1275.5 976.9 L1275.6 979.2 L1275.8 981.3 L1275.9 983.3 L1276 985.2 L1276.2 987.1 L1276.3 988.8 L1276.5 990.4 L1276.6 992 L1276.8 994.7 L1277.1 997.3 L1277.3 999.9 L1277.6 1002.3 L1277.8 1004.7 L1278.1 1006.9 L1278.3 1009.1 L1278.6 1011 L1278.8 1012.8 L1279.1 1014.4 L1279.3 1015.8 L1279.6 1017 L1279.8 1018 L1280.8 1021.4 L1281.9 1024.2 L1282.9 1026.4 L1284 1028 L1285 1028.6 L1286.4 1028.8 L1287.8 1029 L1289.2 1029.1 L1290.6 1029.2 L1292 1029.2 L1293.5 1029.2 L1295 1029.2 L1296.5 1029.2 L1298 1029.2 L1299.5 1029.2 L1300.9 1029.2 L1302.4 1029.2 L1303.9 1029.2 L1305.4 1029.2 L1306.9 1029.2 L1308.4 1029.2 L1309.9 1029.2 L1311.4 1029.2 L1312.9 1029.2 L1314.4 1029.2 L1315.9 1029.2 L1317.4 1029.2 L1318.8 1029.2 L1320.3 1029.2 L1321.8 1029.2 L1323.3 1029.2 L1324.8 1029.2 L1326.3 1029.2 L1327.8 1029.2 L1329.3 1029.2 L1330.8 1029.2 L1332.3 1029.2 L1333.8 1029.2 L1335.2 1029.2 L1336.7 1029.2 L1338.2 1029.2 L1339.7 1029.2 L1341.2 1029.2 L1342.7 1029.2 L1344.2 1029.2 L1345.7 1029.2 L1347.2 1029.2 L1348.7 1029.2 L1350.2 1029.2 L1351.6 1029.2 L1353.1 1029.2 L1354.6 1029.2 L1356.1 1029.2 L1357.6 1029.2 L1359.1 1029.2 L1360.6 1029.2 L1362.1 1029.2 L1363.6 1029.2 L1365.1 1029.2 L1366.6 1029.2 L1368.1 1029.2 L1369.5 1029.2 L1371 1029.2 L1372.5 1029.2 L1374 1029.2 L1375.5 1029.2 L1377 1029.2" fill="none" stroke="#1d3b5c" stroke-width="1.3"/><path d="M838 1029.2 L839.5 1029.2 L841 1029.2 L842.5 1029.2 L844 1029.2 L845.5 1029.2 L847 1029.2 L848.5 1029.2 L850 1029.2 L851.5 1029.2 L853 1029.2 L854.5 1029.2 L856 1029.2 L857.5 1029.2 L859 1029.2 L860.5 1029.2 L862 1029.2 L863.5 1029.2 L865 1029.2 L866.5 1029.2 L868 1029.2 L869.5 1029.2 L871 1029.2 L872.5 1029.2 L874 1029.2 L875.5 1029.2 L877 1029.2 L878.5 1029.2 L880 1029.2 L881.5 1029.2 L883 1029.2 L884.5 1029.2 L886 1029.2 L887.5 1029.2 L889 1029.2 L890.5 1029.2 L892 1029.2 L893.5 1029.2 L895 1029.2 L896.5 1029.2 L898 1029.2 L899.5 1029.2 L901 1029.2 L902.5 1029.2 L904 1029.2 L905.5 1029.2 L907 1029.2 L908.5 1029.2 L910 1029.2 L911.5 1029.2 L913 1029.2 L914.5 1029.2 L916 1029.2 L917.5 1029.2 L919 1029.2 L920.5 1029.2 L922 1029.2 L923.5 1029.2 L925 1029.2 L926.5 1029.2 L928 1029.2 L929.5 1029.2 L931 1029.2 L932.5 1029.2 L934 1029.2 L935.5 1029.2 L937 1029.2 L938.5 1029.2 L940 1029.2 L941.5 1029.2 L943 1029.2 L944.5 1029.2 L946 1029.2 L947.5 1029.2 L949 1029.2 L950.5 1029.2 L952 1029.2 L953.5 1029.2 L955 1029.2 L956.5 1029.2 L958 1029.2 L959.5 1029.2 L961 1029.2 L962.5 1029.2 L964 1029.2 L965.5 1029.2 L967 1029.2 L968.5 1029.2 L970 1029.2 L971.5 1029.2 L973 1029.2 L974.5 1029.2 L976 1029.2 L977.5 1029.2 L979 1029.2 L980.5 1029.2 L982 1029.2 L983.5 1029.2 L985 1029.2 L986.5 1029.2 L988 1029.2 L989.5 1029.2 L991 1029.2 L992.5 1029.2 L994 1029.2 L995.5 1029.2 L997 1029.2 L998.5 1029.2 L1000 1029.2 L1001.5 1029.2 L1003 1029.2 L1004.5 1029.2 L1006 1029.2 L1007.5 1029.2 L1009 1029.2 L1010.5 1029.2 L1012 1029.2 L1013.5 1029.2 L1015 1029.2 L1016.5 1029.2 L1018 1029.2 L1019.5 1029.2 L1021 1029.2 L1022.5 1029.2 L1024 1029.2 L1025.5 1029.2 L1027 1029.2 L1028.5 1029.2 L1030 1029.2 L1031.5 1029.2 L1033 1029.2 L1034.5 1029.2 L1036 1029.2 L1037.5 1029.2 L1039 1029.2 L1040.5 1029.2 L1042 1029.2 L1043.5 1029.2 L1045 1029.2 L1046.5 1029.2 L1048 1029.2 L1049.5 1029.2 L1051 1029.2 L1052.5 1029.2 L1054 1029.2 L1055.5 1029.2 L1057 1029.2 L1058.5 1029.2 L1060 1029.2 L1061.5 1029.2 L1063 1029.2 L1064.5 1029.2 L1066 1029.2 L1067.5 1029.2 L1069 1029.2 L1070.5 1029.2 L1072 1029.2 L1073.5 1029.2 L1075 1029.2 L1076.5 1029.2 L1078 1029.2 L1079.5 1029.2 L1081 1029.2 L1082.5 1029.2 L1084 1029.2 L1085.5 1029.2 L1087 1029.2 L1088.5 1029.2 L1090 1029.2 L1091.5 1029.2 L1093 1029.2 L1094.5 1029.2 L1096 1029.2 L1097.5 1029.2 L1099 1029.2 L1100.5 1029.2 L1102 1029.2 L1103.5 1029.2 L1105 1029.2 L1106.5 1029.2 L1108 1029.2 L1109.5 1029.2 L1111 1029.2 L1112.5 1029.2 L1114 1029.2 L1115.5 1029.2 L1117 1029.2 L1118.5 1029.2 L1120 1029.2 L1121.5 1029.2 L1123 1029.2 L1124.5 1029.2 L1126 1029.2 L1127.5 1029.2 L1129 1029.2 L1130.5 1029.2 L1132 1029.2 L1133.5 1029.2 L1135 1029.2 L1136.5 1029.2 L1138 1029.2 L1139.5 1029.2 L1141 1029.2 L1142.5 1029.2 L1144 1029.2 L1145.5 1029.2 L1147 1029.2 L1148.5 1029.2 L1150 1029.2 L1151.5 1029.2 L1153 1029.2 L1154.5 1029.2 L1156 1029.2 L1157.5 1029.2 L1159 1029.2 L1160.5 1029.2 L1162 1029.2 L1163.5 1029.2 L1165 1029.2 L1166.5 1029.2 L1168 1029.2 L1169.5 1029.2 L1171 1029.2 L1172.5 1029.2 L1174 1029.2 L1175.5 1029.2 L1177 1029.2 L1178.5 1029.2 L1180 1029.2 L1181.5 1029.2 L1183 1029.2 L1184.5 1029.2 L1186 1029.2 L1187.5 1029.2 L1189 1029.2 L1190.5 1029.2 L1192 1029.2 L1193.5 1029.2 L1195 1029.2 L1196.5 1029.2 L1198 1029.2 L1199.5 1029.2 L1201 1029.2 L1202.5 1029.2 L1204 1029.2 L1205.5 1029.2 L1207 1029.2 L1208.5 1029.2 L1210 1029.2 L1211.5 1029.2 L1213 1029.2 L1214.5 1029.2 L1216 1029.2 L1217.5 1029.2 L1219 1029.2 L1220.2 1028.9 L1221.4 1028.2 L1222.6 1027.3 L1224 1026.3 L1225.4 1025 L1226.8 1023.1 L1227.3 1022.1 L1227.8 1020.8 L1228.3 1019.2 L1228.8 1017.3 L1229.3 1015.2 L1229.9 1012.9 L1230.4 1010.4 L1230.9 1007.7 L1231.4 1005 L1231.9 1002.1 L1232.4 999.2 L1232.6 997.7 L1232.9 996.2 L1233.1 994.5 L1233.4 992.7 L1233.6 990.9 L1233.9 989 L1234.1 987 L1234.4 984.9 L1234.6 982.8 L1234.9 980.6 L1235.1 978.3 L1235.4 976.1 L1235.6 973.7 L1235.9 971.4 L1236.1 969 L1236.4 966.6 L1236.6 964.2 L1236.8 962.5 L1236.9 960.7 L1237.1 958.9 L1237.3 957 L1237.5 955.1 L1237.6 953.2 L1237.8 951.2 L1238 949.2 L1238.1 947.1 L1238.3 945 L1238.5 942.9 L1238.7 940.8 L1238.8 938.7 L1239 936.6 L1239.2 934.5 L1239.3 932.4 L1239.5 930.3 L1239.7 928.2 L1239.9 926.1 L1240 924 L1240.2 922 L1240.4 919.9 L1240.5 917.9 L1240.7 915.8 L1240.9 913.7 L1241.1 911.6 L1241.2 909.5 L1241.4 907.3 L1241.6 905.3 L1241.8 903.2 L1242 901.1 L1242.1 899 L1242.3 897 L1242.5 894.9 L1242.7 892.9 L1242.8 890.9 L1243 889 L1243.2 886.8 L1243.4 884.5 L1243.6 882.2 L1243.8 880 L1244 877.7 L1244.2 875.5 L1244.4 873.3 L1244.6 871.2 L1244.8 869.3 L1245 867.4 L1245.2 865.6 L1245.4 864 L1245.8 861.3 L1246.1 858.8 L1246.5 856.4 L1246.8 854.1 L1247.2 852 L1247.5 850 L1247.9 848.1 L1248.2 846.5 L1248.6 845 L1249.3 842.1 L1250.1 839.2 L1250.8 836.5 L1251.5 834.4 L1252.3 832.9 L1253 832.4 L1253.8 832.9 L1254.7 834.4 L1255.5 836.6 L1256.4 839.2 L1257.2 842.1 L1258.1 845 L1258.5 846.5 L1258.9 848.2 L1259.4 850.1 L1259.8 852.2 L1260.2 854.4 L1260.6 856.7 L1261.1 859 L1261.5 861.5 L1261.9 864 L1262.2 865.8 L1262.5 867.8 L1262.8 869.9 L1263.1 872.1 L1263.3 874.4 L1263.6 876.6 L1263.9 878.8 L1264.2 881 L1264.5 883.1 L1264.8 885 L1265.2 887.3 L1265.5 889.3 L1265.9 891.3 L1266.3 893.1 L1266.7 894.9 L1267 896.7 L1267.4 898.6 L1267.8 900.7 L1268.2 902.9 L1268.5 905.3 L1268.9 908 L1269.1 909.4 L1269.3 911 L1269.4 912.7 L1269.6 914.6 L1269.8 916.5 L1270 918.5 L1270.2 920.6 L1270.3 922.7 L1270.5 924.9 L1270.7 927.1 L1270.9 929.3 L1271 931.6 L1271.2 933.8 L1271.4 936 L1271.6 937.9 L1271.7 939.8 L1271.9 941.7 L1272 943.7 L1272.2 945.7 L1272.3 947.7 L1272.5 949.8 L1272.6 951.9 L1272.8 953.9 L1272.9 956 L1273 958.1 L1273.2 960.1 L1273.3 962.2 L1273.5 964.2 L1273.7 966.2 L1273.8 968.3 L1274 970.4 L1274.1 972.5 L1274.2 974.7 L1274.4 976.8 L1274.5 978.9 L1274.7 981 L1274.8 983 L1275 985 L1275.1 987 L1275.3 988.8 L1275.4 990.5 L1275.6 992.2 L1275.8 994.8 L1276.1 997.4 L1276.3 1000 L1276.6 1002.5 L1276.8 1005 L1277 1007.3 L1277.3 1009.5 L1277.5 1011.6 L1277.8 1013.4 L1278 1015 L1278.3 1016.3 L1278.5 1017.4 L1279.6 1021.1 L1280.7 1024 L1281.8 1026 L1282.9 1027.3 L1284.3 1028.3 L1285.6 1028.9 L1287 1029.2 L1288.5 1029.2 L1290 1029.2 L1291.5 1029.2 L1293 1029.2 L1294.5 1029.2 L1296 1029.2 L1297.5 1029.2 L1299 1029.2 L1300.5 1029.2 L1302 1029.2 L1303.5 1029.2 L1305 1029.2 L1306.5 1029.2 L1308 1029.2 L1309.5 1029.2 L1311 1029.2 L1312.5 1029.2 L1314 1029.2 L1315.5 1029.2 L1317 1029.2 L1318.5 1029.2 L1320 1029.2 L1321.5 1029.2 L1323 1029.2 L1324.5 1029.2 L1326 1029.2 L1327.5 1029.2 L1329 1029.2 L1330.5 1029.2 L1332 1029.2 L1333.5 1029.2 L1335 1029.2 L1336.5 1029.2 L1338 1029.2 L1339.5 1029.2 L1341 1029.2 L1342.5 1029.2 L1344 1029.2 L1345.5 1029.2 L1347 1029.2 L1348.5 1029.2 L1350 1029.2 L1351.5 1029.2 L1353 1029.2 L1354.5 1029.2 L1356 1029.2 L1357.5 1029.2 L1359 1029.2 L1360.5 1029.2 L1362 1029.2 L1363.5 1029.2 L1365 1029.2 L1366.5 1029.2 L1368 1029.2 L1369.5 1029.2 L1371 1029.2 L1372.5 1029.2 L1374 1029.2 L1375.5 1029.2 L1377 1029.2" fill="none" stroke="#1d3b5c" stroke-width="1.3"/><path d="M868 1029.2 L886 1029.2 L893 1026.5" fill="none" stroke="#e01010" stroke-width="2"/><path d="M867.1 630.1H934.4" stroke="#000" stroke-width="3.5"/><path d="M867.1 665.9H934.4" stroke="#ff4545" stroke-width="3.5"/><rect x="867.6" y="686" width="64.1" height="32.1" fill="#7db7e0" stroke="#5f87a8" stroke-width="1.3"/><text x="940.9" y="639.3" font-size="28.5" font-weight="bold" text-anchor="start">MAP</text><text x="940.9" y="676.3" font-size="28.5" font-weight="bold" text-anchor="start">Mean</text><text x="940.9" y="712.1" font-size="28.5" font-weight="bold" text-anchor="start">CI</text><rect x="1523.9" y="595.7" width="538.9" height="433.7" fill="none" stroke="#000" stroke-width="3.4"/><path d="M1631.7 1029.4v-8.5M1739.5 1029.4v-8.5M1847.3 1029.4v-8.5M1955.1 1029.4v-8.5M1577.8 1029.4v-5M1685.6 1029.4v-5M1793.4 1029.4v-5M1901.2 1029.4v-5M2009 1029.4v-5" stroke="#000" stroke-width="3.3" fill="none"/><text transform="translate(1523.9 1059.6) scale(1 1.120)" font-size="25.5" font-weight="normal" text-anchor="middle">-6</text><text transform="translate(1631.7 1059.6) scale(1 1.120)" font-size="25.5" font-weight="normal" text-anchor="middle">-4</text><text transform="translate(1739.5 1059.6) scale(1 1.120)" font-size="25.5" font-weight="normal" text-anchor="middle">-2</text><text transform="translate(1847.3 1059.6) scale(1 1.120)" font-size="25.5" font-weight="normal" text-anchor="middle">0</text><text transform="translate(1955.1 1059.6) scale(1 1.120)" font-size="25.5" font-weight="normal" text-anchor="middle">2</text><text transform="translate(2062.8 1059.6) scale(1 1.120)" font-size="25.5" font-weight="normal" text-anchor="middle">4</text><path d="M1523.9 1029.4h8.5M1523.9 957.1h8.5M1523.9 884.8h8.5M1523.9 812.6h8.5M1523.9 740.3h8.5M1523.9 668h8.5M1523.9 595.7h8.5M1523.9 993.3h5M1523.9 921h5M1523.9 848.7h5M1523.9 776.4h5M1523.9 704.1h5M1523.9 631.8h5" stroke="#000" stroke-width="3.3" fill="none"/><text transform="translate(1514.2 1037) scale(1 1.120)" font-size="25.5" font-weight="normal" text-anchor="end">0</text><text transform="translate(1514.2 964.7) scale(1 1.120)" font-size="25.5" font-weight="normal" text-anchor="end">100</text><text transform="translate(1514.2 892.4) scale(1 1.120)" font-size="25.5" font-weight="normal" text-anchor="end">200</text><text transform="translate(1514.2 820.2) scale(1 1.120)" font-size="25.5" font-weight="normal" text-anchor="end">300</text><text transform="translate(1514.2 747.9) scale(1 1.120)" font-size="25.5" font-weight="normal" text-anchor="end">400</text><text transform="translate(1514.2 675.6) scale(1 1.120)" font-size="25.5" font-weight="normal" text-anchor="end">500</text><text transform="translate(1514.2 603.3) scale(1 1.120)" font-size="25.5" font-weight="normal" text-anchor="end">600</text><text x="1802.8" y="1093.2" font-size="34" font-weight="bold" text-anchor="middle" letter-spacing="0.8">lg(<tspan font-style="italic">&#964;</tspan>/s)</text><text transform="translate(1463.9 809.8) rotate(-90)" font-size="33.5" font-weight="bold" text-anchor="middle" letter-spacing="1.3"><tspan font-style="italic">&#947;</tspan>(<tspan font-style="italic">&#964;</tspan>)/&#937;</text><path d="M1575 1029.2L1576.2 1026.8L1577.4 1024.1L1578.6 1021.6L1579.8 1019.7L1581 1019L1582.2 1019.4L1583.5 1020.3L1584.8 1021.3L1586 1022L1587.4 1022.5L1588.8 1023L1590.2 1023.5L1591.6 1024L1593 1024.4L1594.4 1024.8L1595.8 1025.1L1597.2 1025.3L1598.6 1025.4L1600 1025.5L1601.4 1025.5L1602.9 1025.4L1604.3 1025.3L1605.7 1025.1L1607.1 1024.9L1608.6 1024.7L1610 1024.4L1611.4 1024.2L1612.9 1023.9L1614.3 1023.7L1615.7 1023.5L1617.1 1023.3L1618.6 1023.1L1620 1023L1621.4 1022.9L1622.9 1022.8L1624.3 1022.7L1625.7 1022.6L1627.1 1022.5L1628.6 1022.4L1630 1022.3L1631.4 1022.2L1632.9 1022.2L1634.3 1022.1L1635.7 1022.1L1637.1 1022L1638.6 1022L1640 1022L1641.4 1022L1642.9 1022.1L1644.3 1022.2L1645.7 1022.3L1647.1 1022.4L1648.6 1022.6L1650 1022.8L1651.4 1022.9L1652.9 1023.1L1654.3 1023.2L1655.7 1023.3L1657.1 1023.4L1658.6 1023.5L1660 1023.5L1661.5 1023.5L1663 1023.4L1664.5 1023.3L1666 1023.2L1667.5 1023.1L1669 1022.9L1670.5 1022.7L1672 1022.4L1673.5 1022.2L1675 1021.9L1676.5 1021.6L1678 1021.2L1679.5 1020.9L1681 1020.5L1682.5 1020.1L1684 1019.7L1685.5 1019.3L1687 1018.9L1688.5 1018.4L1690 1018L1691.5 1017.4L1693 1016.5L1694.5 1015.4L1696 1014.2L1697.5 1012.8L1699 1011.2L1700.5 1009.7L1702 1008.1L1703.5 1006.5L1705 1005.1L1706.5 1003.7L1708 1002.5L1709.5 1001.5L1711 1000.7L1712.5 1000.2L1714 1000L1715.5 1000L1717 1000.1L1718.5 1000.2L1720 1000.3L1721.5 1000.4L1723 1000.6L1724.5 1000.8L1726 1001L1727.4 1001.4L1728.8 1002.3L1730.2 1003.4L1731.6 1004.8L1733 1006.4L1734.4 1007.9L1735.8 1009.5L1737.2 1010.9L1738.6 1012.1L1740 1013L1741.4 1013.7L1742.9 1014.4L1744.3 1015.1L1745.7 1015.8L1747.1 1016.4L1748.6 1017L1750 1017.6L1751.4 1018.1L1752.9 1018.6L1754.3 1019L1755.7 1019.4L1757.1 1019.7L1758.6 1019.9L1760 1020L1761.5 1020.1L1763 1020.2L1764.5 1020.3L1766 1020.3L1767.5 1020.4L1769 1020.4L1770.5 1020.5L1772 1020.5L1773.5 1020.6L1775 1020.6L1776.5 1020.7L1778 1020.7L1779.5 1020.7L1781 1020.8L1782.5 1020.8L1784 1020.8L1785.5 1020.9L1787 1020.9L1788.5 1021L1790 1021L1791.5 1021L1793 1021.1L1794.4 1021.1L1795.9 1021.2L1797.4 1021.2L1798.9 1021.3L1800.4 1021.3L1801.9 1021.4L1803.3 1021.4L1804.8 1021.5L1806.3 1021.5L1807.8 1021.6L1809.3 1021.6L1810.7 1021.7L1812.2 1021.7L1813.7 1021.8L1815.2 1021.8L1816.7 1021.8L1818.1 1021.9L1819.6 1021.9L1821.1 1021.9L1822.6 1021.9L1824.1 1022L1825.6 1022L1827 1022L1828.5 1022L1830 1022L1831.4 1022L1832.9 1021.9L1834.3 1021.8L1835.7 1021.7L1837.1 1021.6L1838.6 1021.4L1840 1021.2L1841.4 1021L1842.9 1020.7L1844.3 1020.4L1845.7 1020.1L1847.1 1019.7L1848.6 1019.4L1850 1019L1851.5 1018.3L1853 1017.2L1854.5 1015.8L1856 1014L1857.5 1012L1859 1009.9L1860.5 1007.8L1862 1005.7L1863.5 1003.8L1865 1002L1866.5 1000.2L1868 998.2L1869.5 996.1L1870.9 994.1L1872.4 992.5L1873.9 991.4L1875.4 991L1876.8 991.3L1878.1 992.2L1879.5 993.4L1880.9 995L1882.3 996.7L1883.6 998.4L1885 1000L1886.5 1001.8L1888 1003.7L1889.5 1005.7L1890.9 1007.8L1892.4 1010L1893.9 1012" fill="none" stroke="#000" stroke-width="2.2"/><path d="M1570 1029.2L1571.4 1028.6L1572.8 1028.2L1574.1 1027.6L1575.5 1026.9L1576.9 1026L1577.9 1024.3L1579 1021.9L1580 1020L1581.5 1018.4L1582.9 1017.6L1584.4 1018L1585.9 1019.1L1587.4 1020.3L1588.9 1021.5L1590.4 1022.1L1591.9 1022.3L1593.4 1022.5L1594.9 1022.7L1596.4 1022.9L1597.9 1023L1599.4 1023.2L1600.9 1023.3L1602.4 1023.4L1603.9 1023.5L1605.4 1023.5L1606.9 1023.6L1608.4 1023.6L1609.9 1023.6L1611.4 1023.5L1612.9 1023.3L1614.4 1023L1615.9 1022.5L1617.3 1022.1L1618.8 1021.7L1620.3 1021.2L1621.8 1020.9L1623.3 1020.7L1624.8 1020.6L1626.2 1020.6L1627.6 1020.6L1628.9 1020.7L1630.3 1020.7L1631.7 1020.7L1633.1 1020.8L1634.5 1020.8L1635.9 1020.9L1637.2 1020.9L1638.6 1021L1640 1021L1641.5 1021L1643 1021.1L1644.5 1021.1L1645.9 1021.1L1647.4 1021.1L1648.9 1021.2L1650.4 1021.2L1651.9 1021.2L1653.4 1021.2L1654.9 1021.3L1656.4 1021.3L1657.8 1021.3L1659.3 1021.3L1660.8 1021.3L1662.3 1021.3L1663.8 1021.3L1665.3 1021.1L1666.8 1020.9L1668.3 1020.7L1669.8 1020.3L1671.3 1020L1672.8 1019.5L1674.2 1019.1L1675.7 1018.6L1677.2 1018L1678.7 1017.5L1680.2 1016.9L1681.7 1016.4L1683.2 1015.8L1684.7 1015.3L1686.2 1014.7L1687.7 1014.1L1689.2 1013.4L1690.7 1012.7L1692.2 1012L1693.7 1011.2L1695.2 1010.4L1696.7 1009.5L1698.2 1008.7L1699.7 1007.8L1701.2 1006.8L1702.7 1005.6L1704.2 1004.2L1705.7 1002.8L1707.2 1001.5L1708.7 1000.2L1710.2 999L1711.7 998.1L1713.2 997.5L1714.7 997.3L1716.2 997.3L1717.7 997.4L1719.2 997.5L1720.7 997.6L1722.2 997.7L1723.7 997.9L1725.2 998.1L1726.7 998.6L1728.2 999.7L1729.7 1001.1L1731.2 1002.8L1732.7 1004.6L1734.2 1006.4L1735.7 1008L1737.2 1009.3L1738.7 1010.4L1740.2 1011.6L1741.7 1012.7L1743.2 1013.9L1744.7 1014.9L1746.1 1015.9L1747.6 1016.8L1749.1 1017.5L1750.6 1018L1752.1 1018.3L1753.6 1018.5L1755.1 1018.6L1756.6 1018.7L1758.1 1018.9L1759.6 1018.9L1761.1 1019L1762.6 1019.1L1764.1 1019.1L1765.6 1019.2L1767.1 1019.3L1768.6 1019.4L1770.1 1019.4L1771.6 1019.5L1773.1 1019.7L1774.6 1019.8L1776.1 1020L1777.6 1020.3L1779.1 1020.6L1780.6 1021L1782.1 1021.4L1783.6 1021.8L1785.1 1022.2L1786.6 1022.6L1788.1 1022.9L1789.6 1023.2L1791.1 1023.5L1792.6 1023.6L1794.1 1023.7L1795.6 1023.8L1797.1 1023.9L1798.6 1023.9L1800.1 1024L1801.6 1024.1L1803 1024.1L1804.5 1024.2L1806 1024.2L1807.5 1024.3L1809 1024.3L1810.5 1024.3L1812 1024.3L1813.5 1024.2L1815 1024.1L1816.5 1023.8L1818 1023.4L1819.5 1023L1821 1022.5L1822.5 1022L1824 1021.5L1825.5 1021L1827 1020.6L1828.5 1020.1L1830 1019.8L1831.5 1019.5L1833 1019.3L1834.4 1019.1L1835.9 1018.9L1837.4 1018.7L1838.9 1018.5L1840.3 1018.3L1841.8 1018.1L1843.3 1017.9L1844.8 1017.6L1846.2 1017.3L1847.7 1016.9L1849.2 1016.5L1850.6 1015.9L1852 1014.8L1853.4 1013.5L1854.8 1011.9L1856.2 1010.1L1857.7 1008.2L1859.1 1006.3L1860.5 1004.3L1861.9 1002.4L1863.3 1000.6L1864.7 999L1866 997.5L1867.4 995.7L1868.7 994L1870.1 992.2L1871.4 990.7L1872.7 989.4L1874.1 988.6L1875.4 988.3L1876.9 988.7L1878.3 989.8L1879.8 991.4L1881.3 993.3L1882.7 995.2L1884.2 997L1885.6 998.8L1887 1001.1L1888.4 1003.5L1889.7 1005.8L1891.1 1007.8L1892.5 1009.2L1893.9 1009.7L1895.4 1009.3L1896.8 1008.3L1898.3 1006.8L1899.8 1004.8L1900.1 1004.2L1900.4 1003.4L1900.7 1002.3L1901 1001L1901.3 999.4L1901.6 997.7L1901.9 995.8L1902.2 993.8L1902.5 991.6L1902.9 989.3L1903.2 986.9L1903.5 984.4L1903.8 981.8L1904.1 979.2L1904.4 976.5L1904.7 973.9L1905 971.2L1905.3 968.5L1905.6 965.9L1905.8 964.4L1905.9 962.8L1906.1 961.2L1906.3 959.5L1906.5 957.7L1906.6 955.9L1906.8 954L1907 952L1907.1 950L1907.3 948L1907.5 945.9L1907.6 943.8L1907.8 941.7L1908 939.6L1908.2 937.4L1908.3 935.2L1908.5 933L1908.7 930.8L1908.8 928.6L1909 926.3L1909.2 924.1L1909.4 921.9L1909.5 919.7L1909.7 917.6L1909.9 915.4L1910 913.3L1910.2 911.2L1910.4 909.2L1910.5 907.1L1910.7 905.2L1910.9 903.2L1911.1 901.4L1911.2 899.6L1911.4 897.8L1911.6 895.5L1911.9 893.3L1912.1 891.1L1912.3 889L1912.5 886.9L1912.8 884.9L1913 882.8L1913.2 880.8L1913.5 878.8L1913.7 876.9L1913.9 874.9L1914.1 872.9L1914.4 871L1914.6 869L1914.8 867L1915 865L1915.3 863L1915.5 861L1915.7 859L1915.9 857L1916.2 855L1916.4 853L1916.6 850.9L1916.8 848.9L1917.1 846.9L1917.3 844.9L1917.5 842.9L1917.7 840.9L1917.9 838.8L1918.2 836.8L1918.4 834.8L1918.6 832.9L1918.8 830.9L1919.1 828.9L1919.3 826.9L1919.5 825L1919.7 822.8L1920 820.7L1920.2 818.5L1920.5 816.3L1920.7 814L1921 811.8L1921.2 809.6L1921.5 807.4L1921.7 805.1L1922 803L1922.2 800.8L1922.4 798.6L1922.7 796.5L1922.9 794.4L1923.2 792.3L1923.4 790.3L1923.7 788.4L1923.9 786.4L1924.2 784.6L1924.4 782.8L1924.7 781.1L1924.9 779.4L1925.3 777.1L1925.6 774.9L1926 772.9L1926.3 770.9L1926.7 769L1927.1 767.1L1927.4 765.3L1927.8 763.4L1928.1 761.4L1928.5 759.4L1928.9 757.3L1929.2 755.1L1929.6 752.8L1929.9 750.5L1930.3 748.2L1930.6 746L1931 744L1931.3 742.1L1931.7 740.4L1932.3 737.6L1933 734.8L1933.6 732L1934.2 729.4L1934.8 727.2L1935.5 725.5L1936.1 724.3L1936.7 723.9L1937.3 724.3L1938 725.5L1938.6 727.2L1939.2 729.4L1939.9 732L1940.5 734.7L1941.2 737.6L1941.8 740.4L1942.2 742L1942.5 743.8L1942.9 745.6L1943.2 747.7L1943.6 749.8L1943.9 752.1L1944.3 754.4L1944.6 756.9L1945 759.4L1945.2 761.1L1945.5 763L1945.7 764.9L1945.9 767L1946.2 769.1L1946.4 771.2L1946.6 773.5L1946.9 775.7L1947.1 778L1947.3 780.3L1947.6 782.7L1947.8 785L1948 786.8L1948.2 788.6L1948.3 790.4L1948.5 792.3L1948.7 794.1L1948.9 796L1949.1 797.8L1949.3 799.7L1949.4 801.6L1949.6 803.6L1949.8 805.5L1950 807.5L1950.2 809.5L1950.3 811.5L1950.5 813.6L1950.7 815.7L1950.9 817.9L1951.1 820L1951.3 822.3L1951.4 824.5L1951.6 826.8L1951.8 829.2L1951.9 830.9L1952.1 832.6L1952.2 834.4L1952.3 836.2L1952.4 838L1952.6 839.9L1952.7 841.8L1952.8 843.7L1953 845.7L1953.1 847.7L1953.2 849.7L1953.3 851.7L1953.5 853.8L1953.6 855.9L1953.7 858L1953.8 860.1L1954 862.3L1954.1 864.4L1954.2 866.6L1954.4 868.8L1954.5 871L1954.6 873.2L1954.7 875.5L1954.9 877.7L1955 880L1955.1 881.8L1955.2 883.6L1955.3 885.5L1955.4 887.4L1955.5 889.4L1955.6 891.4L1955.7 893.4L1955.8 895.4L1955.9 897.4L1956 899.5L1956.1 901.6L1956.2 903.7L1956.3 905.8L1956.4 907.9L1956.5 910L1956.6 912.1L1956.7 914.3L1956.8 916.4L1956.9 918.5L1957 920.5L1957.1 922.6L1957.2 924.7L1957.3 926.7L1957.4 928.7L1957.5 930.7L1957.6 932.6L1957.7 934.5L1957.8 936.4L1957.9 938.2L1958 940L1958.1 942.3L1958.3 944.6L1958.4 946.9L1958.5 949.2L1958.6 951.5L1958.8 953.9L1958.9 956.2L1959 958.5L1959.2 960.7L1959.3 963L1959.4 965.2L1959.6 967.4L1959.7 969.6L1959.8 971.8L1959.9 973.9L1960.1 975.9L1960.2 978L1960.3 980L1960.5 981.9L1960.6 983.8L1960.7 985.6L1960.9 987.3L1961 989L1961.1 990.6L1961.2 992.2L1961.4 993.6L1961.5 995L1961.8 997.8L1962 1000.5L1962.3 1003.2L1962.6 1005.8L1962.8 1008.2L1963.1 1010.6L1963.4 1012.8L1963.7 1014.9L1963.9 1016.8L1964.2 1018.4L1964.5 1019.9L1964.7 1021.1L1965 1022L1966.3 1025.6L1967.7 1028.2L1969 1029.2L1970.5 1029.2L1972 1029.2L1973.4 1029.2L1974.9 1029.2L1976.4 1029.2L1977.9 1029.2L1979.3 1029.2L1980.8 1029.2L1982.3 1029.2L1983.8 1029.2L1985.2 1029.2L1986.7 1029.2L1988.2 1029.2L1989.7 1029.2L1991.1 1029.2L1992.6 1029.2L1994.1 1029.2L1995.6 1029.2L1997 1029.2L1998.5 1029.2L2000 1029.2" fill="none" stroke="#ff0000" stroke-width="3.4" stroke-linejoin="round"/><path d="M1523.5 1029.2 L1525 1029.2 L1526.5 1029.2 L1528 1029.2 L1529.4 1029.2 L1530.9 1029.2 L1532.4 1029.2 L1533.9 1029.2 L1535.4 1029.2 L1536.8 1029.2 L1538.3 1029.2 L1539.8 1029.2 L1541.3 1029.2 L1542.8 1029.2 L1544.3 1029.2 L1545.8 1029.2 L1547.2 1029.2 L1548.7 1029.2 L1550.2 1029.2 L1551.7 1029.2 L1553.2 1029.2 L1554.7 1029.2 L1556.1 1029.2 L1557.6 1029.2 L1559.1 1029.2 L1560.6 1029.2 L1562.1 1029.2 L1563.5 1029.2 L1565 1029.2 L1566.5 1029.2 L1568 1029.2 L1569.5 1029.1 L1571 1028.7 L1572.4 1028.1 L1573.9 1027.3 L1574.7 1026.3 L1575.5 1024.3 L1576.4 1021.9 L1577.2 1019.4 L1578 1017 L1578.8 1014.7 L1579.7 1012.3 L1580.6 1010 L1581.4 1007.8 L1582.4 1005.1 L1583.4 1002.6 L1584.4 1001.1 L1585.9 1000.3 L1587.4 999.8 L1588.9 999.6 L1590.4 999.9 L1591.9 1000.7 L1593.4 1001.8 L1594.9 1003 L1596.4 1004 L1597.9 1004.8 L1599.4 1005.3 L1600.9 1005.9 L1602.4 1006.3 L1603.9 1006.7 L1605.4 1007 L1606.9 1007.1 L1608.4 1007 L1609.9 1006.7 L1611.4 1006.2 L1612.8 1005.7 L1614.3 1005.1 L1615.8 1004.6 L1617.3 1004.1 L1618.8 1003.7 L1620.3 1003.2 L1621.8 1002.7 L1623.3 1002.2 L1624.8 1001.7 L1626.3 1001.2 L1627.8 1000.9 L1629.3 1000.6 L1630.8 1000.4 L1632.3 1000.3 L1633.8 1000.4 L1635.3 1000.6 L1636.8 1000.9 L1638.3 1001.2 L1639.8 1001.5 L1641.3 1001.7 L1642.8 1001.8 L1644.3 1001.6 L1645.8 1001.1 L1647.3 1000.4 L1648.8 999.7 L1650.3 999.1 L1651.8 998.8 L1653.3 998.6 L1654.8 998.5 L1656.3 998.4 L1657.8 998.3 L1659.3 998.2 L1660.8 998.1 L1662.3 998.1 L1663.8 998.4 L1665.3 999.2 L1666.8 1000 L1668.3 1000.3 L1669.8 999.1 L1671.3 996.4 L1672.8 993 L1674.3 990.3 L1675.8 989.1 L1677.3 989.3 L1678.8 989.7 L1680.3 989.9 L1681.8 989.5 L1683.3 988.5 L1684.8 987 L1686.2 985 L1687.7 982.9 L1689.2 980.6 L1690.7 978.4 L1692.2 976.4 L1693.7 974.4 L1695.2 972.2 L1696.7 969.8 L1698.2 967.4 L1699.7 964.9 L1701.2 962.5 L1702.7 960.3 L1704.2 958.1 L1705.7 956.3 L1707.2 954.7 L1708.7 953.3 L1710.2 951.8 L1711.7 950.4 L1713.2 949.1 L1714.7 948.1 L1716.2 947.4 L1717.7 947.2 L1719.2 947.4 L1720.7 947.8 L1722.2 948.5 L1723.7 949.4 L1725.2 950.5 L1726.7 951.8 L1728.2 953.2 L1729.7 954.7 L1730.6 956.1 L1731.6 958.1 L1732.5 960.5 L1733.5 963.1 L1734.4 965.8 L1735.3 968.3 L1736.3 970.4 L1737.2 971.9 L1738.7 973.4 L1740.2 974.7 L1741.6 975.7 L1743.1 976.7 L1744.6 977.9 L1746.1 979.4 L1747.6 981 L1749.1 982.7 L1750.6 984.4 L1752.1 985.9 L1753.6 987.3 L1755.1 988.4 L1756.6 989.2 L1758.1 990 L1759.6 990.6 L1761.1 991.1 L1762.6 991.7 L1764.1 992.3 L1765.6 992.9 L1767.1 993.6 L1768.6 994.4 L1770.1 995.3 L1771.6 996.3 L1773.1 997.3 L1774.6 998.4 L1776.1 999.4 L1777.6 1000.5 L1779.1 1001.5 L1780.6 1002.4 L1782.1 1003.3 L1783.6 1004.2 L1785.1 1005.1 L1786.6 1006 L1788.1 1006.8 L1789.6 1007.5 L1791.1 1008.2 L1792.6 1008.6 L1794.1 1008.9 L1795.6 1009.3 L1797.1 1009.6 L1798.6 1009.9 L1800.1 1010.1 L1801.6 1010.4 L1803.1 1010.5 L1804.6 1010.7 L1806.1 1010.8 L1807.6 1010.8 L1809 1010.8 L1810.4 1010.7 L1811.7 1010.5 L1813.1 1010.3 L1814.5 1010 L1815.9 1009.7 L1817.2 1009.4 L1818.6 1009 L1820 1008.7 L1821.5 1008.3 L1823 1007.8 L1824.5 1007.3 L1826 1006.7 L1827.5 1006 L1829 1005.3 L1830.5 1004.5 L1832 1003.7 L1833.5 1002.8 L1835 1001.9 L1836.5 1001 L1838 1000 L1839.5 999 L1840.9 998 L1842.3 997 L1843.7 995.9 L1845.1 994.7 L1846.5 993.5 L1848 992.1 L1849.4 990.6 L1850.8 989 L1852.2 987.3 L1853.6 985.4 L1855 983.4 L1855.8 982.1 L1856.6 980.5 L1857.3 978.7 L1858.1 976.7 L1858.9 974.5 L1859.7 972.3 L1860.5 969.9 L1861.2 967.5 L1862 965 L1862.8 962.6 L1863.6 960.3 L1864.4 958.1 L1865.1 956 L1865.9 954 L1866.7 952.3 L1867.9 949.7 L1869.1 946.9 L1870.3 944.2 L1871.6 941.6 L1872.8 939.3 L1874 937.4 L1875.2 936.2 L1876.4 935.8 L1877.6 936.3 L1878.8 937.5 L1880 939.4 L1881.2 941.8 L1882.5 944.5 L1883.7 947.2 L1884.9 949.9 L1886.1 952.3 L1887.2 954.7 L1888.3 957.5 L1889.4 960.5 L1890.6 963.3 L1891.7 965.6 L1892.8 967.3 L1893.9 967.9 L1895.1 967.3 L1896.3 965.5 L1897.4 962.9 L1898.6 959.7 L1899.8 956.2 L1900.1 955.2 L1900.4 954 L1900.7 952.6 L1901 951.1 L1901.3 949.4 L1901.6 947.6 L1901.9 945.6 L1902.2 943.6 L1902.5 941.5 L1902.9 939.2 L1903.2 936.9 L1903.5 934.6 L1903.8 932.2 L1904.1 929.7 L1904.4 927.3 L1904.7 924.8 L1905 922.3 L1905.3 919.8 L1905.6 917.3 L1905.8 915.7 L1906 914 L1906.2 912.3 L1906.4 910.5 L1906.6 908.7 L1906.8 906.8 L1907 904.9 L1907.2 903 L1907.4 901 L1907.6 899 L1907.8 897 L1908 895 L1908.2 892.9 L1908.4 890.8 L1908.6 888.7 L1908.8 886.6 L1909 884.5 L1909.2 882.4 L1909.4 880.2 L1909.6 878.1 L1909.8 875.9 L1910 873.8 L1910.2 871.6 L1910.4 869.5 L1910.6 867.3 L1910.8 865.2 L1911 863.1 L1911.2 861 L1911.4 858.9 L1911.6 856.9 L1911.8 854.9 L1912 852.9 L1912.2 850.9 L1912.4 849 L1912.6 847 L1912.8 845 L1913 843.1 L1913.2 841.1 L1913.4 839.1 L1913.5 837.1 L1913.7 835 L1913.9 833 L1914.1 830.9 L1914.3 828.8 L1914.5 826.6 L1914.7 824.4 L1914.9 822.1 L1915.1 819.8 L1915.3 817.4 L1915.5 815 L1915.6 813.2 L1915.8 811.3 L1915.9 809.4 L1916.1 807.4 L1916.2 805.3 L1916.3 803.2 L1916.5 801.1 L1916.6 799 L1916.8 796.8 L1916.9 794.6 L1917.1 792.4 L1917.2 790.2 L1917.3 788 L1917.5 785.8 L1917.6 783.7 L1917.8 781.5 L1917.9 779.4 L1918 777.3 L1918.2 775.2 L1918.3 773.1 L1918.5 771 L1918.6 768.8 L1918.7 766.7 L1918.9 764.5 L1919 762.3 L1919.1 760.1 L1919.3 757.9 L1919.4 755.7 L1919.6 753.5 L1919.7 751.3 L1919.8 749.1 L1920 746.9 L1920.1 744.8 L1920.2 742.7 L1920.4 740.6 L1920.5 738.5 L1920.7 736.4 L1920.8 734.4 L1920.9 732.4 L1921.1 730.4 L1921.2 728.5 L1921.3 726.6 L1921.5 724.8 L1921.6 723 L1921.8 721.3 L1921.9 719.6 L1922.1 717.1 L1922.3 714.7 L1922.5 712.3 L1922.7 710 L1923 707.7 L1923.2 705.5 L1923.4 703.3 L1923.6 701.2 L1923.8 699.1 L1924 697 L1924.2 695 L1924.4 693 L1924.6 691.1 L1924.8 689.1 L1925.1 687.2 L1925.3 685.3 L1925.5 683.5 L1925.7 681.6 L1925.9 679.8 L1926.2 677.4 L1926.5 674.9 L1926.7 672.4 L1927 669.9 L1927.3 667.4 L1927.6 665 L1927.8 662.7 L1928.1 660.4 L1928.4 658.3 L1928.7 656.2 L1929 654.4 L1929.2 652.7 L1929.5 651.2 L1929.8 649.9 L1930.6 646.7 L1931.4 643.6 L1932.1 640.7 L1932.9 638 L1933.7 635.7 L1934.5 633.7 L1935.2 632.3 L1936 631.3 L1936.8 631 L1937.6 631.3 L1938.4 632.3 L1939.1 633.8 L1939.9 635.7 L1940.7 638 L1941.5 640.7 L1942.2 643.6 L1943 646.7 L1943.8 649.9 L1944.1 651.2 L1944.4 652.6 L1944.7 654.2 L1944.9 656 L1945.2 657.9 L1945.5 659.9 L1945.8 662.1 L1946.1 664.3 L1946.4 666.7 L1946.7 669.2 L1946.9 671.7 L1947.2 674.4 L1947.5 677.1 L1947.8 679.8 L1948 681.4 L1948.1 683 L1948.3 684.7 L1948.4 686.5 L1948.6 688.3 L1948.7 690.2 L1948.9 692.1 L1949.1 694.2 L1949.2 696.2 L1949.4 698.3 L1949.5 700.5 L1949.7 702.7 L1949.9 705 L1950 707.3 L1950.2 709.7 L1950.3 712.1 L1950.5 714.6 L1950.6 717.1 L1950.8 719.6 L1950.9 721.2 L1951 722.9 L1951.1 724.6 L1951.2 726.4 L1951.3 728.2 L1951.4 730 L1951.5 731.9 L1951.6 733.8 L1951.7 735.7 L1951.8 737.7 L1951.9 739.7 L1952 741.7 L1952.1 743.8 L1952.2 745.9 L1952.3 748 L1952.4 750.1 L1952.5 752.3 L1952.6 754.5 L1952.7 756.6 L1952.8 758.9 L1952.9 761.1 L1953 763.3 L1953.1 765.6 L1953.2 767.9 L1953.3 770.2 L1953.4 772.5 L1953.5 774.8 L1953.6 777.1 L1953.7 779.4 L1953.8 781.2 L1953.9 783 L1953.9 784.9 L1954 786.7 L1954.1 788.6 L1954.2 790.5 L1954.2 792.5 L1954.3 794.4 L1954.4 796.4 L1954.5 798.4 L1954.5 800.4 L1954.6 802.4 L1954.7 804.4 L1954.8 806.4 L1954.8 808.5 L1954.9 810.6 L1955 812.6 L1955.1 814.7 L1955.2 816.8 L1955.2 818.9 L1955.3 821 L1955.4 823.1 L1955.5 825.2 L1955.5 827.3 L1955.6 829.4 L1955.7 831.6 L1955.8 833.7 L1955.8 835.8 L1955.9 837.9 L1956 840 L1956.1 841.9 L1956.1 843.9 L1956.2 845.9 L1956.3 847.9 L1956.3 849.9 L1956.4 851.9 L1956.5 854 L1956.6 856 L1956.6 858.1 L1956.7 860.2 L1956.8 862.2 L1956.8 864.3 L1956.9 866.4 L1957 868.5 L1957 870.6 L1957.1 872.6 L1957.2 874.7 L1957.3 876.8 L1957.3 878.8 L1957.4 880.8 L1957.5 882.9 L1957.5 884.9 L1957.6 886.8 L1957.7 888.8 L1957.8 890.7 L1957.8 892.7 L1957.9 894.5 L1958 896.4 L1958 898.2 L1958.1 900 L1958.2 902.3 L1958.3 904.6 L1958.4 906.8 L1958.5 909.1 L1958.6 911.3 L1958.6 913.6 L1958.7 915.8 L1958.8 918 L1958.9 920.2 L1959 922.4 L1959.1 924.6 L1959.2 926.7 L1959.3 928.9 L1959.4 931 L1959.5 933.1 L1959.5 935.1 L1959.6 937.2 L1959.7 939.2 L1959.8 941.2 L1959.9 943.2 L1960 945.2 L1960.1 947.1 L1960.2 949.1 L1960.3 950.9 L1960.4 952.8 L1960.5 954.6 L1960.5 956.4 L1960.6 958.2 L1960.7 960 L1960.8 961.7 L1960.9 963.4 L1961 965 L1961.1 967.5 L1961.3 970 L1961.4 972.4 L1961.5 974.9 L1961.7 977.4 L1961.8 979.9 L1962 982.4 L1962.1 984.8 L1962.2 987.1 L1962.4 989.5 L1962.5 991.7 L1962.6 993.9 L1962.8 996 L1962.9 998 L1963 1000 L1963.2 1001.8 L1963.3 1003.5 L1963.5 1005.1 L1963.6 1006.5 L1963.7 1007.8 L1963.9 1009 L1964 1010 L1964.5 1013.2 L1965 1016.1 L1965.5 1018.8 L1966 1021.2 L1966.4 1023.2 L1966.9 1024.7 L1967.4 1025.9 L1967.9 1026.5 L1969.3 1027.5 L1970.7 1028.2 L1972.2 1028.8 L1973.6 1029.1 L1975 1029.2 L1976.5 1029.2 L1978 1029.2 L1979.4 1029.2 L1980.9 1029.2 L1982.4 1029.2 L1983.9 1029.2 L1985.4 1029.2 L1986.9 1029.2 L1988.3 1029.2 L1989.8 1029.2 L1991.3 1029.2 L1992.8 1029.2 L1994.3 1029.2 L1995.8 1029.2 L1997.2 1029.2 L1998.7 1029.2 L2000.2 1029.2 L2001.7 1029.2 L2003.2 1029.2 L2004.7 1029.2 L2006.1 1029.2 L2007.6 1029.2 L2009.1 1029.2 L2010.6 1029.2 L2012.1 1029.2 L2013.6 1029.2 L2015 1029.2 L2016.5 1029.2 L2018 1029.2 L2019.5 1029.2 L2021 1029.2 L2022.5 1029.2 L2023.9 1029.2 L2025.4 1029.2 L2026.9 1029.2 L2028.4 1029.2 L2029.9 1029.2 L2031.4 1029.2 L2032.8 1029.2 L2034.3 1029.2 L2035.8 1029.2 L2037.3 1029.2 L2038.8 1029.2 L2040.3 1029.2 L2041.7 1029.2 L2043.2 1029.2 L2044.7 1029.2 L2046.2 1029.2 L2047.7 1029.2 L2049.2 1029.2 L2050.6 1029.2 L2052.1 1029.2 L2053.6 1029.2 L2055.1 1029.2 L2056.6 1029.2 L2058.1 1029.2 L2059.5 1029.2 L2061 1029.2 L2062.5 1029.2L2062.5 1029.2L2061 1029.2L2059.5 1029.2L2058 1029.2L2056.5 1029.2L2055 1029.2L2053.5 1029.2L2052 1029.2L2050.5 1029.2L2049 1029.2L2047.5 1029.2L2046 1029.2L2044.5 1029.2L2043 1029.2L2041.5 1029.2L2040 1029.2L2038.5 1029.2L2037 1029.2L2035.5 1029.2L2034 1029.2L2032.5 1029.2L2031 1029.2L2029.5 1029.2L2028 1029.2L2026.5 1029.2L2025 1029.2L2023.5 1029.2L2022 1029.2L2020.5 1029.2L2019 1029.2L2017.5 1029.2L2016 1029.2L2014.5 1029.2L2013 1029.2L2011.5 1029.2L2010 1029.2L2008.5 1029.2L2007 1029.2L2005.5 1029.2L2004 1029.2L2002.5 1029.2L2001 1029.2L1999.5 1029.2L1998 1029.2L1996.5 1029.2L1995 1029.2L1993.5 1029.2L1992 1029.2L1990.5 1029.2L1989 1029.2L1987.5 1029.2L1986 1029.2L1984.5 1029.2L1983 1029.2L1981.5 1029.2L1980 1029.2L1978.5 1029.2L1977 1029.2L1975.5 1029.2L1974 1029.2L1972.5 1029.2L1971 1029.2L1969.5 1029.2L1968 1029.2L1967 1028.3L1965.9 1026.2L1965.6 1025.3L1965.3 1024L1965 1022.3L1964.7 1020.4L1964.5 1018.1L1964.2 1015.7L1963.9 1013.1L1963.6 1010.3L1963.3 1007.6L1963 1004.8L1962.8 1003.3L1962.7 1001.6L1962.5 999.8L1962.4 997.9L1962.2 995.8L1962.1 993.7L1961.9 991.6L1961.8 989.4L1961.6 987.1L1961.5 984.8L1961.3 982.5L1961.2 980.3L1961 978L1960.9 975.8L1960.7 973.6L1960.6 971.6L1960.4 969.6L1960.3 967.7L1960.1 965.9L1959.9 963.5L1959.7 961.2L1959.4 958.9L1959.2 956.7L1959 954.5L1958.8 952.4L1958.6 950.3L1958.4 948.2L1958.2 946.2L1957.9 944.2L1957.7 942.3L1957.5 940.3L1957.3 938.4L1957.1 936.5L1956.8 934.6L1956.6 932.8L1956.4 930.9L1956.2 929L1955.9 926.8L1955.7 924.5L1955.4 922.3L1955.2 920.1L1954.9 917.9L1954.6 915.8L1954.4 913.7L1954.1 911.6L1953.9 909.5L1953.6 907.4L1953.3 905.4L1953.1 903.5L1952.8 901.5L1952.6 899.6L1952.3 897.8L1952 895.4L1951.6 893.1L1951.3 890.9L1950.9 888.7L1950.6 886.6L1950.2 884.5L1949.9 882.4L1949.5 880.3L1949.2 878.2L1948.8 876.1L1948.5 874L1948.2 872L1947.8 869.9L1947.5 867.9L1947.2 865.9L1946.9 863.8L1946.5 861.8L1946.2 859.8L1945.9 857.8L1945.6 855.8L1945.2 853.8L1944.9 851.9L1944.6 850L1944.2 847.7L1943.8 845.3L1943.4 842.9L1943 840.6L1942.6 838.3L1942.2 836.2L1941.8 834.1L1941.4 832.2L1941 830.5L1940.3 827.6L1939.6 824.5L1938.9 821.7L1938.2 819.4L1937.5 817.8L1936.8 817.2L1936.1 817.8L1935.4 819.4L1934.7 821.7L1934 824.5L1933.3 827.5L1932.6 830.5L1932.2 832.1L1931.9 833.9L1931.5 835.9L1931.2 838L1930.8 840.3L1930.4 842.6L1930.1 844.9L1929.7 847.3L1929.4 849.7L1929 852L1928.7 853.9L1928.4 855.9L1928.1 857.8L1927.8 859.8L1927.5 861.9L1927.2 863.9L1926.9 865.9L1926.6 868L1926.3 870.1L1926 872.2L1925.7 874.2L1925.4 876.3L1925.1 878.4L1924.8 880.5L1924.5 882.5L1924.2 884.6L1923.9 886.7L1923.6 888.8L1923.3 890.9L1923 893L1922.7 895.1L1922.4 897.3L1922.1 899.4L1921.8 901.6L1921.5 903.8L1921.2 906L1920.9 907.9L1920.7 909.9L1920.4 911.9L1920.2 913.9L1919.9 915.9L1919.6 917.9L1919.4 919.9L1919.1 922L1918.9 924L1918.6 926.1L1918.3 928.2L1918.1 930.3L1917.8 932.4L1917.6 934.6L1917.3 936.7L1917.1 938.7L1916.8 940.7L1916.6 942.7L1916.3 944.8L1916.1 946.9L1915.9 948.9L1915.6 951L1915.4 953.1L1915.2 955.3L1914.9 957.4L1914.7 959.5L1914.5 961.6L1914.2 963.7L1914 965.8L1913.7 967.9L1913.5 970L1913.3 972.1L1913 974.3L1912.8 976.6L1912.6 978.9L1912.3 981.3L1912.1 983.7L1911.9 986.1L1911.6 988.5L1911.4 990.8L1911.1 993L1910.9 995.1L1910.7 997.1L1910.4 999L1910.2 1000.8L1910 1002.3L1909.7 1003.7L1909.5 1004.8L1908.7 1007.9L1907.9 1010.5L1907.1 1012.7L1906.4 1014.6L1905.6 1016.4L1904.8 1018.1L1904 1020L1903 1022.8L1902 1025.8L1901 1028.2L1900 1029.2L1898.5 1029.2L1897 1029.2L1895.5 1029.2L1894 1029.2L1892.5 1029.2L1891 1029.2L1889.5 1029.2L1888 1029.2L1886.5 1029.2L1885 1029.2L1883.5 1029.2L1882 1029.2L1880.5 1029.2L1879 1029.2L1877.5 1029.2L1876 1029.2L1874.5 1029.2L1873 1029.2L1871.5 1029.2L1870 1029.2L1868.5 1029.2L1867 1029.2L1865.5 1029.2L1864 1029.2L1862.5 1029.2L1861 1029.2L1859.5 1029.2L1858 1029.2L1856.5 1029.2L1855 1029.2L1853.5 1029.2L1852 1029.2L1850.5 1029.2L1849 1029.2L1847.5 1029.2L1846 1029.2L1844.5 1029.2L1843 1029.2L1841.5 1029.2L1840 1029.2L1838.5 1029.2L1837 1029.2L1835.5 1029.2L1834 1029.2L1832.5 1029.2L1831 1029.2L1829.5 1029.2L1828 1029.2L1826.5 1029.2L1825 1029.2L1823.5 1029.2L1822 1029.2L1820.5 1029.2L1819 1029.2L1817.5 1029.2L1816 1029.2L1814.5 1029.2L1813 1029.2L1811.5 1029.2L1810 1029.2L1808.5 1029.2L1807 1029.2L1805.5 1029.2L1804 1029.2L1802.5 1029.2L1801 1029.2L1799.5 1029.2L1798 1029.2L1796.5 1029.2L1795 1029.2L1793.5 1029.2L1792 1029.2L1790.5 1029.2L1789 1029.2L1787.5 1029.2L1786 1029.2L1784.5 1029.2L1783 1029.2L1781.5 1029.2L1780 1029.2L1778.5 1029.2L1777 1029.2L1775.5 1029.2L1774 1029.2L1772.5 1029.2L1771 1029.2L1769.5 1029.2L1768 1029.2L1766.5 1029.2L1765 1029.2L1763.5 1029.2L1762 1029.2L1760.5 1029.2L1759 1029.2L1757.5 1029.2L1756 1029.2L1754.5 1029.2L1753 1029.2L1751.5 1029.2L1750 1029.2L1748.5 1029.2L1747 1029.2L1745.5 1029.2L1744 1029.2L1742.5 1029.2L1741 1029.2L1739.5 1029.2L1738 1029.2L1736.5 1029.2L1735 1029.2L1733.5 1029.2L1732 1029.2L1730.5 1029.2L1729 1029.2L1727.5 1029.2L1726 1029.2L1724.5 1029.2L1723 1029.2L1721.5 1029.2L1720 1029.2L1718.5 1029.2L1717 1029.2L1715.5 1029.2L1714 1029.2L1712.5 1029.2L1711 1029.2L1709.5 1029.2L1708 1029.2L1706.5 1029.2L1705 1029.2L1703.5 1029.2L1702 1029.2L1700.5 1029.2L1699 1029.2L1697.5 1029.2L1696 1029.2L1694.5 1029.2L1693 1029.2L1691.5 1029.2L1690 1029.2L1688.5 1029.2L1687 1029.2L1685.5 1029.2L1684 1029.2L1682.5 1029.2L1681 1029.2L1679.5 1029.2L1678 1029.2L1676.5 1029.2L1675 1029.2L1673.5 1029.2L1672 1029.2L1670.5 1029.2L1669 1029.2L1667.5 1029.2L1666 1029.2L1664.5 1029.2L1663 1029.2L1661.5 1029.2L1660 1029.2L1658.5 1029.2L1657 1029.2L1655.5 1029.2L1654 1029.2L1652.5 1029.2L1651 1029.2L1649.5 1029.2L1648 1029.2L1646.5 1029.2L1645 1029.2L1643.5 1029.2L1642 1029.2L1640.5 1029.2L1639 1029.2L1637.5 1029.2L1636 1029.2L1634.5 1029.2L1633 1029.2L1631.5 1029.2L1630 1029.2L1628.5 1029.2L1627 1029.2L1625.5 1029.2L1624 1029.2L1622.5 1029.2L1621 1029.2L1619.5 1029.2L1618 1029.2L1616.5 1029.2L1615 1029.2L1613.5 1029.2L1612 1029.2L1610.5 1029.2L1609 1029.2L1607.5 1029.2L1606 1029.2L1604.5 1029.2L1603 1029.2L1601.5 1029.2L1600 1029.2L1598.5 1029.2L1597 1029.2L1595.5 1029.2L1594 1029.2L1592.5 1029.2L1591 1029.2L1589.5 1029.2L1588 1029.2L1586.5 1029.2L1585 1029.2L1583.5 1029.2L1582 1029.2L1580.5 1029.2L1579 1029.2L1577.5 1029.2L1576 1029.2L1574.5 1029.2L1573 1029.2L1571.5 1029.2L1570 1029.2L1568.5 1029.2L1567 1029.2L1565.5 1029.2L1564 1029.2L1562.5 1029.2L1561 1029.2L1559.5 1029.2L1558 1029.2L1556.5 1029.2L1555 1029.2L1553.5 1029.2L1552 1029.2L1550.5 1029.2L1549 1029.2L1547.5 1029.2L1546 1029.2L1544.5 1029.2L1543 1029.2L1541.5 1029.2L1540 1029.2L1538.5 1029.2L1537 1029.2L1535.5 1029.2L1534 1029.2L1532.5 1029.2L1531 1029.2L1529.5 1029.2L1528 1029.2L1526.5 1029.2L1525 1029.2L1523.5 1029.2Z" fill="#ffff78" fill-opacity="0.667" stroke="none"/><path d="M1523.5 1029.2 L1525 1029.2 L1526.5 1029.2 L1528 1029.2 L1529.4 1029.2 L1530.9 1029.2 L1532.4 1029.2 L1533.9 1029.2 L1535.4 1029.2 L1536.8 1029.2 L1538.3 1029.2 L1539.8 1029.2 L1541.3 1029.2 L1542.8 1029.2 L1544.3 1029.2 L1545.8 1029.2 L1547.2 1029.2 L1548.7 1029.2 L1550.2 1029.2 L1551.7 1029.2 L1553.2 1029.2 L1554.7 1029.2 L1556.1 1029.2 L1557.6 1029.2 L1559.1 1029.2 L1560.6 1029.2 L1562.1 1029.2 L1563.5 1029.2 L1565 1029.2 L1566.5 1029.2 L1568 1029.2 L1569.5 1029.1 L1571 1028.7 L1572.4 1028.1 L1573.9 1027.3 L1574.7 1026.3 L1575.5 1024.3 L1576.4 1021.9 L1577.2 1019.4 L1578 1017 L1578.8 1014.7 L1579.7 1012.3 L1580.6 1010 L1581.4 1007.8 L1582.4 1005.1 L1583.4 1002.6 L1584.4 1001.1 L1585.9 1000.3 L1587.4 999.8 L1588.9 999.6 L1590.4 999.9 L1591.9 1000.7 L1593.4 1001.8 L1594.9 1003 L1596.4 1004 L1597.9 1004.8 L1599.4 1005.3 L1600.9 1005.9 L1602.4 1006.3 L1603.9 1006.7 L1605.4 1007 L1606.9 1007.1 L1608.4 1007 L1609.9 1006.7 L1611.4 1006.2 L1612.8 1005.7 L1614.3 1005.1 L1615.8 1004.6 L1617.3 1004.1 L1618.8 1003.7 L1620.3 1003.2 L1621.8 1002.7 L1623.3 1002.2 L1624.8 1001.7 L1626.3 1001.2 L1627.8 1000.9 L1629.3 1000.6 L1630.8 1000.4 L1632.3 1000.3 L1633.8 1000.4 L1635.3 1000.6 L1636.8 1000.9 L1638.3 1001.2 L1639.8 1001.5 L1641.3 1001.7 L1642.8 1001.8 L1644.3 1001.6 L1645.8 1001.1 L1647.3 1000.4 L1648.8 999.7 L1650.3 999.1 L1651.8 998.8 L1653.3 998.6 L1654.8 998.5 L1656.3 998.4 L1657.8 998.3 L1659.3 998.2 L1660.8 998.1 L1662.3 998.1 L1663.8 998.4 L1665.3 999.2 L1666.8 1000 L1668.3 1000.3 L1669.8 999.1 L1671.3 996.4 L1672.8 993 L1674.3 990.3 L1675.8 989.1 L1677.3 989.3 L1678.8 989.7 L1680.3 989.9 L1681.8 989.5 L1683.3 988.5 L1684.8 987 L1686.2 985 L1687.7 982.9 L1689.2 980.6 L1690.7 978.4 L1692.2 976.4 L1693.7 974.4 L1695.2 972.2 L1696.7 969.8 L1698.2 967.4 L1699.7 964.9 L1701.2 962.5 L1702.7 960.3 L1704.2 958.1 L1705.7 956.3 L1707.2 954.7 L1708.7 953.3 L1710.2 951.8 L1711.7 950.4 L1713.2 949.1 L1714.7 948.1 L1716.2 947.4 L1717.7 947.2 L1719.2 947.4 L1720.7 947.8 L1722.2 948.5 L1723.7 949.4 L1725.2 950.5 L1726.7 951.8 L1728.2 953.2 L1729.7 954.7 L1730.6 956.1 L1731.6 958.1 L1732.5 960.5 L1733.5 963.1 L1734.4 965.8 L1735.3 968.3 L1736.3 970.4 L1737.2 971.9 L1738.7 973.4 L1740.2 974.7 L1741.6 975.7 L1743.1 976.7 L1744.6 977.9 L1746.1 979.4 L1747.6 981 L1749.1 982.7 L1750.6 984.4 L1752.1 985.9 L1753.6 987.3 L1755.1 988.4 L1756.6 989.2 L1758.1 990 L1759.6 990.6 L1761.1 991.1 L1762.6 991.7 L1764.1 992.3 L1765.6 992.9 L1767.1 993.6 L1768.6 994.4 L1770.1 995.3 L1771.6 996.3 L1773.1 997.3 L1774.6 998.4 L1776.1 999.4 L1777.6 1000.5 L1779.1 1001.5 L1780.6 1002.4 L1782.1 1003.3 L1783.6 1004.2 L1785.1 1005.1 L1786.6 1006 L1788.1 1006.8 L1789.6 1007.5 L1791.1 1008.2 L1792.6 1008.6 L1794.1 1008.9 L1795.6 1009.3 L1797.1 1009.6 L1798.6 1009.9 L1800.1 1010.1 L1801.6 1010.4 L1803.1 1010.5 L1804.6 1010.7 L1806.1 1010.8 L1807.6 1010.8 L1809 1010.8 L1810.4 1010.7 L1811.7 1010.5 L1813.1 1010.3 L1814.5 1010 L1815.9 1009.7 L1817.2 1009.4 L1818.6 1009 L1820 1008.7 L1821.5 1008.3 L1823 1007.8 L1824.5 1007.3 L1826 1006.7 L1827.5 1006 L1829 1005.3 L1830.5 1004.5 L1832 1003.7 L1833.5 1002.8 L1835 1001.9 L1836.5 1001 L1838 1000 L1839.5 999 L1840.9 998 L1842.3 997 L1843.7 995.9 L1845.1 994.7 L1846.5 993.5 L1848 992.1 L1849.4 990.6 L1850.8 989 L1852.2 987.3 L1853.6 985.4 L1855 983.4 L1855.8 982.1 L1856.6 980.5 L1857.3 978.7 L1858.1 976.7 L1858.9 974.5 L1859.7 972.3 L1860.5 969.9 L1861.2 967.5 L1862 965 L1862.8 962.6 L1863.6 960.3 L1864.4 958.1 L1865.1 956 L1865.9 954 L1866.7 952.3 L1867.9 949.7 L1869.1 946.9 L1870.3 944.2 L1871.6 941.6 L1872.8 939.3 L1874 937.4 L1875.2 936.2 L1876.4 935.8 L1877.6 936.3 L1878.8 937.5 L1880 939.4 L1881.2 941.8 L1882.5 944.5 L1883.7 947.2 L1884.9 949.9 L1886.1 952.3 L1887.2 954.7 L1888.3 957.5 L1889.4 960.5 L1890.6 963.3 L1891.7 965.6 L1892.8 967.3 L1893.9 967.9 L1895.1 967.3 L1896.3 965.5 L1897.4 962.9 L1898.6 959.7 L1899.8 956.2 L1900.1 955.2 L1900.4 954 L1900.7 952.6 L1901 951.1 L1901.3 949.4 L1901.6 947.6 L1901.9 945.6 L1902.2 943.6 L1902.5 941.5 L1902.9 939.2 L1903.2 936.9 L1903.5 934.6 L1903.8 932.2 L1904.1 929.7 L1904.4 927.3 L1904.7 924.8 L1905 922.3 L1905.3 919.8 L1905.6 917.3 L1905.8 915.7 L1906 914 L1906.2 912.3 L1906.4 910.5 L1906.6 908.7 L1906.8 906.8 L1907 904.9 L1907.2 903 L1907.4 901 L1907.6 899 L1907.8 897 L1908 895 L1908.2 892.9 L1908.4 890.8 L1908.6 888.7 L1908.8 886.6 L1909 884.5 L1909.2 882.4 L1909.4 880.2 L1909.6 878.1 L1909.8 875.9 L1910 873.8 L1910.2 871.6 L1910.4 869.5 L1910.6 867.3 L1910.8 865.2 L1911 863.1 L1911.2 861 L1911.4 858.9 L1911.6 856.9 L1911.8 854.9 L1912 852.9 L1912.2 850.9 L1912.4 849 L1912.6 847 L1912.8 845 L1913 843.1 L1913.2 841.1 L1913.4 839.1 L1913.5 837.1 L1913.7 835 L1913.9 833 L1914.1 830.9 L1914.3 828.8 L1914.5 826.6 L1914.7 824.4 L1914.9 822.1 L1915.1 819.8 L1915.3 817.4 L1915.5 815 L1915.6 813.2 L1915.8 811.3 L1915.9 809.4 L1916.1 807.4 L1916.2 805.3 L1916.3 803.2 L1916.5 801.1 L1916.6 799 L1916.8 796.8 L1916.9 794.6 L1917.1 792.4 L1917.2 790.2 L1917.3 788 L1917.5 785.8 L1917.6 783.7 L1917.8 781.5 L1917.9 779.4 L1918 777.3 L1918.2 775.2 L1918.3 773.1 L1918.5 771 L1918.6 768.8 L1918.7 766.7 L1918.9 764.5 L1919 762.3 L1919.1 760.1 L1919.3 757.9 L1919.4 755.7 L1919.6 753.5 L1919.7 751.3 L1919.8 749.1 L1920 746.9 L1920.1 744.8 L1920.2 742.7 L1920.4 740.6 L1920.5 738.5 L1920.7 736.4 L1920.8 734.4 L1920.9 732.4 L1921.1 730.4 L1921.2 728.5 L1921.3 726.6 L1921.5 724.8 L1921.6 723 L1921.8 721.3 L1921.9 719.6 L1922.1 717.1 L1922.3 714.7 L1922.5 712.3 L1922.7 710 L1923 707.7 L1923.2 705.5 L1923.4 703.3 L1923.6 701.2 L1923.8 699.1 L1924 697 L1924.2 695 L1924.4 693 L1924.6 691.1 L1924.8 689.1 L1925.1 687.2 L1925.3 685.3 L1925.5 683.5 L1925.7 681.6 L1925.9 679.8 L1926.2 677.4 L1926.5 674.9 L1926.7 672.4 L1927 669.9 L1927.3 667.4 L1927.6 665 L1927.8 662.7 L1928.1 660.4 L1928.4 658.3 L1928.7 656.2 L1929 654.4 L1929.2 652.7 L1929.5 651.2 L1929.8 649.9 L1930.6 646.7 L1931.4 643.6 L1932.1 640.7 L1932.9 638 L1933.7 635.7 L1934.5 633.7 L1935.2 632.3 L1936 631.3 L1936.8 631 L1937.6 631.3 L1938.4 632.3 L1939.1 633.8 L1939.9 635.7 L1940.7 638 L1941.5 640.7 L1942.2 643.6 L1943 646.7 L1943.8 649.9 L1944.1 651.2 L1944.4 652.6 L1944.7 654.2 L1944.9 656 L1945.2 657.9 L1945.5 659.9 L1945.8 662.1 L1946.1 664.3 L1946.4 666.7 L1946.7 669.2 L1946.9 671.7 L1947.2 674.4 L1947.5 677.1 L1947.8 679.8 L1948 681.4 L1948.1 683 L1948.3 684.7 L1948.4 686.5 L1948.6 688.3 L1948.7 690.2 L1948.9 692.1 L1949.1 694.2 L1949.2 696.2 L1949.4 698.3 L1949.5 700.5 L1949.7 702.7 L1949.9 705 L1950 707.3 L1950.2 709.7 L1950.3 712.1 L1950.5 714.6 L1950.6 717.1 L1950.8 719.6 L1950.9 721.2 L1951 722.9 L1951.1 724.6 L1951.2 726.4 L1951.3 728.2 L1951.4 730 L1951.5 731.9 L1951.6 733.8 L1951.7 735.7 L1951.8 737.7 L1951.9 739.7 L1952 741.7 L1952.1 743.8 L1952.2 745.9 L1952.3 748 L1952.4 750.1 L1952.5 752.3 L1952.6 754.5 L1952.7 756.6 L1952.8 758.9 L1952.9 761.1 L1953 763.3 L1953.1 765.6 L1953.2 767.9 L1953.3 770.2 L1953.4 772.5 L1953.5 774.8 L1953.6 777.1 L1953.7 779.4 L1953.8 781.2 L1953.9 783 L1953.9 784.9 L1954 786.7 L1954.1 788.6 L1954.2 790.5 L1954.2 792.5 L1954.3 794.4 L1954.4 796.4 L1954.5 798.4 L1954.5 800.4 L1954.6 802.4 L1954.7 804.4 L1954.8 806.4 L1954.8 808.5 L1954.9 810.6 L1955 812.6 L1955.1 814.7 L1955.2 816.8 L1955.2 818.9 L1955.3 821 L1955.4 823.1 L1955.5 825.2 L1955.5 827.3 L1955.6 829.4 L1955.7 831.6 L1955.8 833.7 L1955.8 835.8 L1955.9 837.9 L1956 840 L1956.1 841.9 L1956.1 843.9 L1956.2 845.9 L1956.3 847.9 L1956.3 849.9 L1956.4 851.9 L1956.5 854 L1956.6 856 L1956.6 858.1 L1956.7 860.2 L1956.8 862.2 L1956.8 864.3 L1956.9 866.4 L1957 868.5 L1957 870.6 L1957.1 872.6 L1957.2 874.7 L1957.3 876.8 L1957.3 878.8 L1957.4 880.8 L1957.5 882.9 L1957.5 884.9 L1957.6 886.8 L1957.7 888.8 L1957.8 890.7 L1957.8 892.7 L1957.9 894.5 L1958 896.4 L1958 898.2 L1958.1 900 L1958.2 902.3 L1958.3 904.6 L1958.4 906.8 L1958.5 909.1 L1958.6 911.3 L1958.6 913.6 L1958.7 915.8 L1958.8 918 L1958.9 920.2 L1959 922.4 L1959.1 924.6 L1959.2 926.7 L1959.3 928.9 L1959.4 931 L1959.5 933.1 L1959.5 935.1 L1959.6 937.2 L1959.7 939.2 L1959.8 941.2 L1959.9 943.2 L1960 945.2 L1960.1 947.1 L1960.2 949.1 L1960.3 950.9 L1960.4 952.8 L1960.5 954.6 L1960.5 956.4 L1960.6 958.2 L1960.7 960 L1960.8 961.7 L1960.9 963.4 L1961 965 L1961.1 967.5 L1961.3 970 L1961.4 972.4 L1961.5 974.9 L1961.7 977.4 L1961.8 979.9 L1962 982.4 L1962.1 984.8 L1962.2 987.1 L1962.4 989.5 L1962.5 991.7 L1962.6 993.9 L1962.8 996 L1962.9 998 L1963 1000 L1963.2 1001.8 L1963.3 1003.5 L1963.5 1005.1 L1963.6 1006.5 L1963.7 1007.8 L1963.9 1009 L1964 1010 L1964.5 1013.2 L1965 1016.1 L1965.5 1018.8 L1966 1021.2 L1966.4 1023.2 L1966.9 1024.7 L1967.4 1025.9 L1967.9 1026.5 L1969.3 1027.5 L1970.7 1028.2 L1972.2 1028.8 L1973.6 1029.1 L1975 1029.2 L1976.5 1029.2 L1978 1029.2 L1979.4 1029.2 L1980.9 1029.2 L1982.4 1029.2 L1983.9 1029.2 L1985.4 1029.2 L1986.9 1029.2 L1988.3 1029.2 L1989.8 1029.2 L1991.3 1029.2 L1992.8 1029.2 L1994.3 1029.2 L1995.8 1029.2 L1997.2 1029.2 L1998.7 1029.2 L2000.2 1029.2 L2001.7 1029.2 L2003.2 1029.2 L2004.7 1029.2 L2006.1 1029.2 L2007.6 1029.2 L2009.1 1029.2 L2010.6 1029.2 L2012.1 1029.2 L2013.6 1029.2 L2015 1029.2 L2016.5 1029.2 L2018 1029.2 L2019.5 1029.2 L2021 1029.2 L2022.5 1029.2 L2023.9 1029.2 L2025.4 1029.2 L2026.9 1029.2 L2028.4 1029.2 L2029.9 1029.2 L2031.4 1029.2 L2032.8 1029.2 L2034.3 1029.2 L2035.8 1029.2 L2037.3 1029.2 L2038.8 1029.2 L2040.3 1029.2 L2041.7 1029.2 L2043.2 1029.2 L2044.7 1029.2 L2046.2 1029.2 L2047.7 1029.2 L2049.2 1029.2 L2050.6 1029.2 L2052.1 1029.2 L2053.6 1029.2 L2055.1 1029.2 L2056.6 1029.2 L2058.1 1029.2 L2059.5 1029.2 L2061 1029.2 L2062.5 1029.2" fill="none" stroke="#3a3a2a" stroke-width="1.3"/><path d="M1523.5 1029.2 L1525 1029.2 L1526.5 1029.2 L1528 1029.2 L1529.5 1029.2 L1531 1029.2 L1532.5 1029.2 L1534 1029.2 L1535.5 1029.2 L1537 1029.2 L1538.5 1029.2 L1540 1029.2 L1541.5 1029.2 L1543 1029.2 L1544.5 1029.2 L1546 1029.2 L1547.5 1029.2 L1549 1029.2 L1550.5 1029.2 L1552 1029.2 L1553.5 1029.2 L1555 1029.2 L1556.5 1029.2 L1558 1029.2 L1559.5 1029.2 L1561 1029.2 L1562.5 1029.2 L1564 1029.2 L1565.5 1029.2 L1567 1029.2 L1568.5 1029.2 L1570 1029.2 L1571.5 1029.2 L1573 1029.2 L1574.5 1029.2 L1576 1029.2 L1577.5 1029.2 L1579 1029.2 L1580.5 1029.2 L1582 1029.2 L1583.5 1029.2 L1585 1029.2 L1586.5 1029.2 L1588 1029.2 L1589.5 1029.2 L1591 1029.2 L1592.5 1029.2 L1594 1029.2 L1595.5 1029.2 L1597 1029.2 L1598.5 1029.2 L1600 1029.2 L1601.5 1029.2 L1603 1029.2 L1604.5 1029.2 L1606 1029.2 L1607.5 1029.2 L1609 1029.2 L1610.5 1029.2 L1612 1029.2 L1613.5 1029.2 L1615 1029.2 L1616.5 1029.2 L1618 1029.2 L1619.5 1029.2 L1621 1029.2 L1622.5 1029.2 L1624 1029.2 L1625.5 1029.2 L1627 1029.2 L1628.5 1029.2 L1630 1029.2 L1631.5 1029.2 L1633 1029.2 L1634.5 1029.2 L1636 1029.2 L1637.5 1029.2 L1639 1029.2 L1640.5 1029.2 L1642 1029.2 L1643.5 1029.2 L1645 1029.2 L1646.5 1029.2 L1648 1029.2 L1649.5 1029.2 L1651 1029.2 L1652.5 1029.2 L1654 1029.2 L1655.5 1029.2 L1657 1029.2 L1658.5 1029.2 L1660 1029.2 L1661.5 1029.2 L1663 1029.2 L1664.5 1029.2 L1666 1029.2 L1667.5 1029.2 L1669 1029.2 L1670.5 1029.2 L1672 1029.2 L1673.5 1029.2 L1675 1029.2 L1676.5 1029.2 L1678 1029.2 L1679.5 1029.2 L1681 1029.2 L1682.5 1029.2 L1684 1029.2 L1685.5 1029.2 L1687 1029.2 L1688.5 1029.2 L1690 1029.2 L1691.5 1029.2 L1693 1029.2 L1694.5 1029.2 L1696 1029.2 L1697.5 1029.2 L1699 1029.2 L1700.5 1029.2 L1702 1029.2 L1703.5 1029.2 L1705 1029.2 L1706.5 1029.2 L1708 1029.2 L1709.5 1029.2 L1711 1029.2 L1712.5 1029.2 L1714 1029.2 L1715.5 1029.2 L1717 1029.2 L1718.5 1029.2 L1720 1029.2 L1721.5 1029.2 L1723 1029.2 L1724.5 1029.2 L1726 1029.2 L1727.5 1029.2 L1729 1029.2 L1730.5 1029.2 L1732 1029.2 L1733.5 1029.2 L1735 1029.2 L1736.5 1029.2 L1738 1029.2 L1739.5 1029.2 L1741 1029.2 L1742.5 1029.2 L1744 1029.2 L1745.5 1029.2 L1747 1029.2 L1748.5 1029.2 L1750 1029.2 L1751.5 1029.2 L1753 1029.2 L1754.5 1029.2 L1756 1029.2 L1757.5 1029.2 L1759 1029.2 L1760.5 1029.2 L1762 1029.2 L1763.5 1029.2 L1765 1029.2 L1766.5 1029.2 L1768 1029.2 L1769.5 1029.2 L1771 1029.2 L1772.5 1029.2 L1774 1029.2 L1775.5 1029.2 L1777 1029.2 L1778.5 1029.2 L1780 1029.2 L1781.5 1029.2 L1783 1029.2 L1784.5 1029.2 L1786 1029.2 L1787.5 1029.2 L1789 1029.2 L1790.5 1029.2 L1792 1029.2 L1793.5 1029.2 L1795 1029.2 L1796.5 1029.2 L1798 1029.2 L1799.5 1029.2 L1801 1029.2 L1802.5 1029.2 L1804 1029.2 L1805.5 1029.2 L1807 1029.2 L1808.5 1029.2 L1810 1029.2 L1811.5 1029.2 L1813 1029.2 L1814.5 1029.2 L1816 1029.2 L1817.5 1029.2 L1819 1029.2 L1820.5 1029.2 L1822 1029.2 L1823.5 1029.2 L1825 1029.2 L1826.5 1029.2 L1828 1029.2 L1829.5 1029.2 L1831 1029.2 L1832.5 1029.2 L1834 1029.2 L1835.5 1029.2 L1837 1029.2 L1838.5 1029.2 L1840 1029.2 L1841.5 1029.2 L1843 1029.2 L1844.5 1029.2 L1846 1029.2 L1847.5 1029.2 L1849 1029.2 L1850.5 1029.2 L1852 1029.2 L1853.5 1029.2 L1855 1029.2 L1856.5 1029.2 L1858 1029.2 L1859.5 1029.2 L1861 1029.2 L1862.5 1029.2 L1864 1029.2 L1865.5 1029.2 L1867 1029.2 L1868.5 1029.2 L1870 1029.2 L1871.5 1029.2 L1873 1029.2 L1874.5 1029.2 L1876 1029.2 L1877.5 1029.2 L1879 1029.2 L1880.5 1029.2 L1882 1029.2 L1883.5 1029.2 L1885 1029.2 L1886.5 1029.2 L1888 1029.2 L1889.5 1029.2 L1891 1029.2 L1892.5 1029.2 L1894 1029.2 L1895.5 1029.2 L1897 1029.2 L1898.5 1029.2 L1900 1029.2 L1901 1028.2 L1902 1025.8 L1903 1022.8 L1904 1020 L1904.8 1018.1 L1905.6 1016.4 L1906.4 1014.6 L1907.1 1012.7 L1907.9 1010.5 L1908.7 1007.9 L1909.5 1004.8 L1909.7 1003.7 L1910 1002.3 L1910.2 1000.8 L1910.4 999 L1910.7 997.1 L1910.9 995.1 L1911.1 993 L1911.4 990.8 L1911.6 988.5 L1911.9 986.1 L1912.1 983.7 L1912.3 981.3 L1912.6 978.9 L1912.8 976.6 L1913 974.3 L1913.3 972.1 L1913.5 970 L1913.7 967.9 L1914 965.8 L1914.2 963.7 L1914.5 961.6 L1914.7 959.5 L1914.9 957.4 L1915.2 955.3 L1915.4 953.1 L1915.6 951 L1915.9 948.9 L1916.1 946.9 L1916.3 944.8 L1916.6 942.7 L1916.8 940.7 L1917.1 938.7 L1917.3 936.7 L1917.6 934.6 L1917.8 932.4 L1918.1 930.3 L1918.3 928.2 L1918.6 926.1 L1918.9 924 L1919.1 922 L1919.4 919.9 L1919.6 917.9 L1919.9 915.9 L1920.2 913.9 L1920.4 911.9 L1920.7 909.9 L1920.9 907.9 L1921.2 906 L1921.5 903.8 L1921.8 901.6 L1922.1 899.4 L1922.4 897.3 L1922.7 895.1 L1923 893 L1923.3 890.9 L1923.6 888.8 L1923.9 886.7 L1924.2 884.6 L1924.5 882.5 L1924.8 880.5 L1925.1 878.4 L1925.4 876.3 L1925.7 874.2 L1926 872.2 L1926.3 870.1 L1926.6 868 L1926.9 865.9 L1927.2 863.9 L1927.5 861.9 L1927.8 859.8 L1928.1 857.8 L1928.4 855.9 L1928.7 853.9 L1929 852 L1929.4 849.7 L1929.7 847.3 L1930.1 844.9 L1930.4 842.6 L1930.8 840.3 L1931.2 838 L1931.5 835.9 L1931.9 833.9 L1932.2 832.1 L1932.6 830.5 L1933.3 827.5 L1934 824.5 L1934.7 821.7 L1935.4 819.4 L1936.1 817.8 L1936.8 817.2 L1937.5 817.8 L1938.2 819.4 L1938.9 821.7 L1939.6 824.5 L1940.3 827.6 L1941 830.5 L1941.4 832.2 L1941.8 834.1 L1942.2 836.2 L1942.6 838.3 L1943 840.6 L1943.4 842.9 L1943.8 845.3 L1944.2 847.7 L1944.6 850 L1944.9 851.9 L1945.2 853.8 L1945.6 855.8 L1945.9 857.8 L1946.2 859.8 L1946.5 861.8 L1946.9 863.8 L1947.2 865.9 L1947.5 867.9 L1947.8 869.9 L1948.2 872 L1948.5 874 L1948.8 876.1 L1949.2 878.2 L1949.5 880.3 L1949.9 882.4 L1950.2 884.5 L1950.6 886.6 L1950.9 888.7 L1951.3 890.9 L1951.6 893.1 L1952 895.4 L1952.3 897.8 L1952.6 899.6 L1952.8 901.5 L1953.1 903.5 L1953.3 905.4 L1953.6 907.4 L1953.9 909.5 L1954.1 911.6 L1954.4 913.7 L1954.6 915.8 L1954.9 917.9 L1955.2 920.1 L1955.4 922.3 L1955.7 924.5 L1955.9 926.8 L1956.2 929 L1956.4 930.9 L1956.6 932.8 L1956.8 934.6 L1957.1 936.5 L1957.3 938.4 L1957.5 940.3 L1957.7 942.3 L1957.9 944.2 L1958.2 946.2 L1958.4 948.2 L1958.6 950.3 L1958.8 952.4 L1959 954.5 L1959.2 956.7 L1959.4 958.9 L1959.7 961.2 L1959.9 963.5 L1960.1 965.9 L1960.3 967.7 L1960.4 969.6 L1960.6 971.6 L1960.7 973.6 L1960.9 975.8 L1961 978 L1961.2 980.3 L1961.3 982.5 L1961.5 984.8 L1961.6 987.1 L1961.8 989.4 L1961.9 991.6 L1962.1 993.7 L1962.2 995.8 L1962.4 997.9 L1962.5 999.8 L1962.7 1001.6 L1962.8 1003.3 L1963 1004.8 L1963.3 1007.6 L1963.6 1010.3 L1963.9 1013.1 L1964.2 1015.7 L1964.5 1018.1 L1964.7 1020.4 L1965 1022.3 L1965.3 1024 L1965.6 1025.3 L1965.9 1026.2 L1967 1028.3 L1968 1029.2 L1969.5 1029.2 L1971 1029.2 L1972.5 1029.2 L1974 1029.2 L1975.5 1029.2 L1977 1029.2 L1978.5 1029.2 L1980 1029.2 L1981.5 1029.2 L1983 1029.2 L1984.5 1029.2 L1986 1029.2 L1987.5 1029.2 L1989 1029.2 L1990.5 1029.2 L1992 1029.2 L1993.5 1029.2 L1995 1029.2 L1996.5 1029.2 L1998 1029.2 L1999.5 1029.2 L2001 1029.2 L2002.5 1029.2 L2004 1029.2 L2005.5 1029.2 L2007 1029.2 L2008.5 1029.2 L2010 1029.2 L2011.5 1029.2 L2013 1029.2 L2014.5 1029.2 L2016 1029.2 L2017.5 1029.2 L2019 1029.2 L2020.5 1029.2 L2022 1029.2 L2023.5 1029.2 L2025 1029.2 L2026.5 1029.2 L2028 1029.2 L2029.5 1029.2 L2031 1029.2 L2032.5 1029.2 L2034 1029.2 L2035.5 1029.2 L2037 1029.2 L2038.5 1029.2 L2040 1029.2 L2041.5 1029.2 L2043 1029.2 L2044.5 1029.2 L2046 1029.2 L2047.5 1029.2 L2049 1029.2 L2050.5 1029.2 L2052 1029.2 L2053.5 1029.2 L2055 1029.2 L2056.5 1029.2 L2058 1029.2 L2059.5 1029.2 L2061 1029.2 L2062.5 1029.2" fill="none" stroke="#3a3a2a" stroke-width="1.3"/><path d="M1558.1 635.2H1625.5" stroke="#000" stroke-width="3.5"/><path d="M1558.1 670.8H1625.5" stroke="#ff4545" stroke-width="3.5"/><rect x="1559.2" y="690.4" width="64.7" height="30.9" fill="#fdfda6" stroke="#c0c080" stroke-width="1.3"/><text x="1632.6" y="644.2" font-size="28.5" font-weight="bold" text-anchor="start">Map</text><text x="1632.6" y="680.1" font-size="28.5" font-weight="bold" text-anchor="start">Mean</text><text x="1632.6" y="715.4" font-size="28.5" font-weight="bold" text-anchor="start">CI</text></svg></div>
</body></html>
